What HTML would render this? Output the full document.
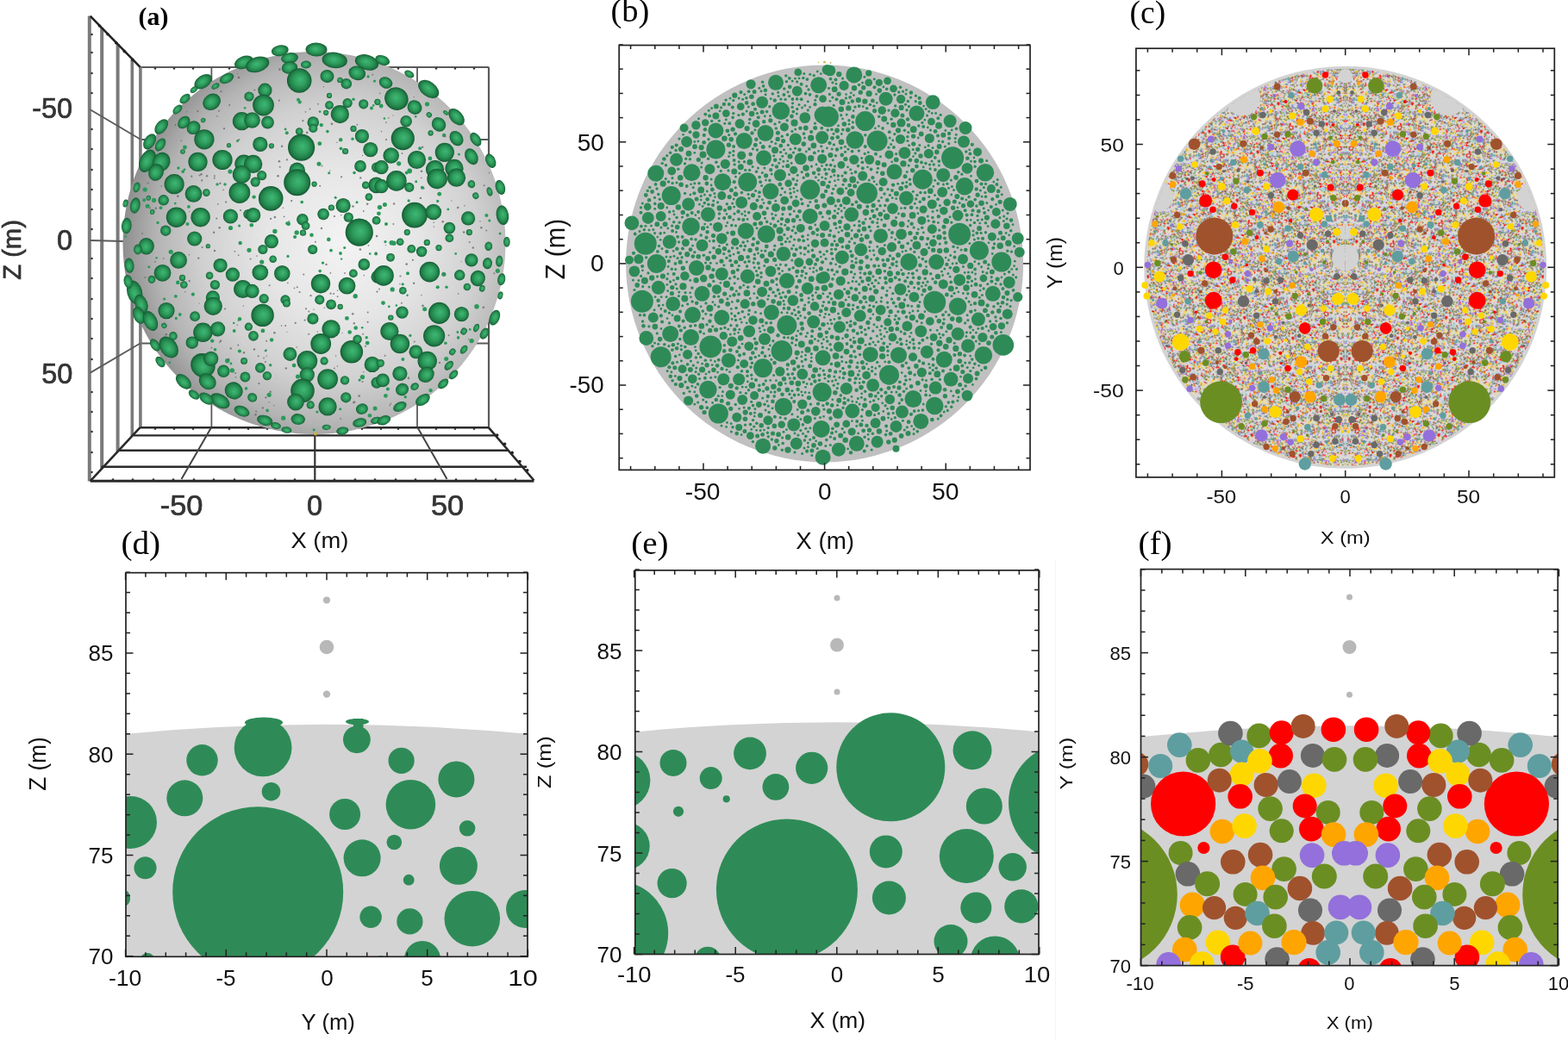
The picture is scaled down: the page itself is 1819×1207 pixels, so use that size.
<!DOCTYPE html>
<html><head><meta charset="utf-8"><title>Figure</title>
<style>html,body{margin:0;padding:0;background:#fff;}svg{display:block;}</style></head>
<body><svg width="1819" height="1207" viewBox="0 0 1819 1207">
<rect width="1819" height="1207" fill="#fff"/>
<defs>
<radialGradient id="sph" cx="0.56" cy="0.5" r="0.56" fx="0.58" fy="0.5">
<stop offset="0" stop-color="#f3f3f3"/><stop offset="0.35" stop-color="#e6e6e6"/><stop offset="0.65" stop-color="#d0d0d0"/>
<stop offset="0.85" stop-color="#b4b4b4"/><stop offset="1" stop-color="#8e8e8e"/></radialGradient>
<radialGradient id="gb" cx="0.5" cy="0.5" r="0.5" fx="0.55" fy="0.45">
<stop offset="0" stop-color="#3eb874"/><stop offset="0.5" stop-color="#2e9b5c"/><stop offset="0.8" stop-color="#207e47"/><stop offset="1" stop-color="#145a32"/></radialGradient>
</defs>
<line x1="162.3" y1="78" x2="567" y2="78" stroke="#5a5a5a" stroke-width="2.2"/>
<line x1="567" y1="78" x2="567" y2="496.3" stroke="#5a5a5a" stroke-width="2.2"/>
<line x1="245.4" y1="78" x2="245.4" y2="496.3" stroke="#5a5a5a" stroke-width="1.8"/>
<line x1="484" y1="78" x2="484" y2="496.3" stroke="#5a5a5a" stroke-width="1.8"/>
<line x1="162.3" y1="162" x2="567" y2="162" stroke="#5a5a5a" stroke-width="1.8"/>
<line x1="162.3" y1="398.5" x2="567" y2="398.5" stroke="#5a5a5a" stroke-width="1.8"/>
<line x1="162.3" y1="280" x2="567" y2="280" stroke="#5a5a5a" stroke-width="1.8"/>
<line x1="103.8" y1="18.6" x2="103.8" y2="558.5" stroke="#7a7a7a" stroke-width="4"/>
<line x1="118.2" y1="32.2" x2="118.2" y2="543.8" stroke="#7a7a7a" stroke-width="4"/>
<line x1="136.6" y1="51" x2="136.6" y2="524.5" stroke="#7a7a7a" stroke-width="4"/>
<line x1="153.3" y1="69" x2="153.3" y2="506" stroke="#7a7a7a" stroke-width="3.6"/>
<line x1="162.9" y1="77.5" x2="162.9" y2="497" stroke="#7a7a7a" stroke-width="3.6"/>
<line x1="104.7" y1="18.6" x2="162.6" y2="77.8" stroke="#222" stroke-width="2.6"/>
<line x1="104.7" y1="127.3" x2="162.6" y2="161.5" stroke="#5a5a5a" stroke-width="1.8"/>
<line x1="104.7" y1="279" x2="162.6" y2="280.5" stroke="#5a5a5a" stroke-width="1.8"/>
<line x1="104.7" y1="432.6" x2="162.6" y2="398.5" stroke="#5a5a5a" stroke-width="1.8"/>
<line x1="162.3" y1="496.3" x2="567" y2="496.3" stroke="#2a2a2a" stroke-width="2.4"/>
<line x1="104.7" y1="558.3" x2="619.4" y2="558.3" stroke="#2a2a2a" stroke-width="3"/>
<line x1="567" y1="496.3" x2="619.4" y2="557.5" stroke="#2a2a2a" stroke-width="2.6"/>
<line x1="162.3" y1="496.3" x2="104.7" y2="558.3" stroke="#2a2a2a" stroke-width="2.6"/>
<line x1="155" y1="505.4" x2="574.5" y2="505.4" stroke="#2a2a2a" stroke-width="2.4"/>
<line x1="139" y1="522.7" x2="590" y2="522.7" stroke="#2a2a2a" stroke-width="2.4"/>
<line x1="117.5" y1="541.8" x2="611" y2="541.8" stroke="#2a2a2a" stroke-width="2.4"/>
<line x1="245" y1="496.3" x2="210.5" y2="556" stroke="#444" stroke-width="2"/>
<line x1="484.5" y1="496.3" x2="518.5" y2="556" stroke="#444" stroke-width="2"/>
<line x1="365.3" y1="496.3" x2="365.3" y2="558" stroke="#333" stroke-width="2.2"/>
<circle cx="106.5" cy="40" r="1.3" fill="#333"/>
<circle cx="106.5" cy="61" r="1.3" fill="#333"/>
<circle cx="106.5" cy="85" r="1.3" fill="#333"/>
<circle cx="106.5" cy="108" r="1.3" fill="#333"/>
<circle cx="106.5" cy="150" r="1.3" fill="#333"/>
<circle cx="106.5" cy="173" r="1.3" fill="#333"/>
<circle cx="106.5" cy="197" r="1.3" fill="#333"/>
<circle cx="106.5" cy="220" r="1.3" fill="#333"/>
<circle cx="106.5" cy="243" r="1.3" fill="#333"/>
<circle cx="106.5" cy="266" r="1.3" fill="#333"/>
<circle cx="106.5" cy="300" r="1.3" fill="#333"/>
<circle cx="106.5" cy="323" r="1.3" fill="#333"/>
<circle cx="106.5" cy="347" r="1.3" fill="#333"/>
<circle cx="106.5" cy="370" r="1.3" fill="#333"/>
<circle cx="106.5" cy="393" r="1.3" fill="#333"/>
<circle cx="106.5" cy="417" r="1.3" fill="#333"/>
<circle cx="106.5" cy="455" r="1.3" fill="#333"/>
<circle cx="106.5" cy="478" r="1.3" fill="#333"/>
<circle cx="106.5" cy="501" r="1.3" fill="#333"/>
<circle cx="106.5" cy="525" r="1.3" fill="#333"/>
<circle cx="106.5" cy="548" r="1.3" fill="#333"/>
<circle cx="131" cy="556.5" r="1.3" fill="#333"/>
<circle cx="154" cy="556.5" r="1.3" fill="#333"/>
<circle cx="178" cy="556.5" r="1.3" fill="#333"/>
<circle cx="201" cy="556.5" r="1.3" fill="#333"/>
<circle cx="225" cy="556.5" r="1.3" fill="#333"/>
<circle cx="248" cy="556.5" r="1.3" fill="#333"/>
<circle cx="272" cy="556.5" r="1.3" fill="#333"/>
<circle cx="295" cy="556.5" r="1.3" fill="#333"/>
<circle cx="319" cy="556.5" r="1.3" fill="#333"/>
<circle cx="342" cy="556.5" r="1.3" fill="#333"/>
<circle cx="388" cy="556.5" r="1.3" fill="#333"/>
<circle cx="412" cy="556.5" r="1.3" fill="#333"/>
<circle cx="435" cy="556.5" r="1.3" fill="#333"/>
<circle cx="459" cy="556.5" r="1.3" fill="#333"/>
<circle cx="482" cy="556.5" r="1.3" fill="#333"/>
<circle cx="505" cy="556.5" r="1.3" fill="#333"/>
<circle cx="529" cy="556.5" r="1.3" fill="#333"/>
<circle cx="552" cy="556.5" r="1.3" fill="#333"/>
<circle cx="575" cy="556.5" r="1.3" fill="#333"/>
<circle cx="598" cy="556.5" r="1.3" fill="#333"/>
<circle cx="115.4" cy="30" r="1.8" fill="#222"/>
<circle cx="125" cy="39.8" r="1.8" fill="#222"/>
<circle cx="134.7" cy="49.7" r="1.8" fill="#222"/>
<circle cx="144.3" cy="59.6" r="1.8" fill="#222"/>
<circle cx="153.9" cy="69.4" r="1.8" fill="#222"/>
<circle cx="576.7" cy="505" r="1.8" fill="#222"/>
<circle cx="585.5" cy="515.2" r="1.8" fill="#222"/>
<circle cx="594.2" cy="525.4" r="1.8" fill="#222"/>
<circle cx="602.9" cy="535.6" r="1.8" fill="#222"/>
<circle cx="611.7" cy="545.8" r="1.8" fill="#222"/>
<circle cx="180" cy="79.5" r="1.2" fill="#333"/>
<circle cx="180" cy="497.8" r="1.2" fill="#333"/>
<circle cx="202" cy="79.5" r="1.2" fill="#333"/>
<circle cx="202" cy="497.8" r="1.2" fill="#333"/>
<circle cx="224" cy="79.5" r="1.2" fill="#333"/>
<circle cx="224" cy="497.8" r="1.2" fill="#333"/>
<circle cx="266" cy="79.5" r="1.2" fill="#333"/>
<circle cx="266" cy="497.8" r="1.2" fill="#333"/>
<circle cx="288" cy="79.5" r="1.2" fill="#333"/>
<circle cx="288" cy="497.8" r="1.2" fill="#333"/>
<circle cx="310" cy="79.5" r="1.2" fill="#333"/>
<circle cx="310" cy="497.8" r="1.2" fill="#333"/>
<circle cx="332" cy="79.5" r="1.2" fill="#333"/>
<circle cx="332" cy="497.8" r="1.2" fill="#333"/>
<circle cx="398" cy="79.5" r="1.2" fill="#333"/>
<circle cx="398" cy="497.8" r="1.2" fill="#333"/>
<circle cx="420" cy="79.5" r="1.2" fill="#333"/>
<circle cx="420" cy="497.8" r="1.2" fill="#333"/>
<circle cx="442" cy="79.5" r="1.2" fill="#333"/>
<circle cx="442" cy="497.8" r="1.2" fill="#333"/>
<circle cx="462" cy="79.5" r="1.2" fill="#333"/>
<circle cx="462" cy="497.8" r="1.2" fill="#333"/>
<circle cx="506" cy="79.5" r="1.2" fill="#333"/>
<circle cx="506" cy="497.8" r="1.2" fill="#333"/>
<circle cx="528" cy="79.5" r="1.2" fill="#333"/>
<circle cx="528" cy="497.8" r="1.2" fill="#333"/>
<circle cx="550" cy="79.5" r="1.2" fill="#333"/>
<circle cx="550" cy="497.8" r="1.2" fill="#333"/>
<circle cx="364.5" cy="282" r="222" fill="url(#sph)"/>
<ellipse cx="245.6" cy="118.3" rx="9.1" ry="10.9" transform="rotate(-126.0 245.6 118.3)" fill="url(#gb)"/>
<circle cx="280.4" cy="140.7" r="10.6" fill="url(#gb)"/>
<circle cx="236.9" cy="161.8" r="11.6" fill="url(#gb)"/>
<circle cx="258" cy="185.5" r="11.6" fill="url(#gb)"/>
<circle cx="229.5" cy="187.9" r="11.1" fill="url(#gb)"/>
<circle cx="282.9" cy="190.2" r="10.6" fill="url(#gb)"/>
<ellipse cx="213.3" cy="142.0" rx="6.2" ry="8.2" transform="rotate(-137.2 213.3 142.0)" fill="url(#gb)"/>
<ellipse cx="224.5" cy="148.2" rx="7.6" ry="8.2" transform="rotate(-136.3 224.5 148.2)" fill="url(#gb)"/>
<ellipse cx="235.7" cy="94.7" rx="7.2" ry="11.4" transform="rotate(-124.5 235.7 94.7)" fill="url(#gb)"/>
<ellipse cx="263.0" cy="91.0" rx="5.5" ry="8.7" transform="rotate(-118.0 263.0 91.0)" fill="url(#gb)"/>
<ellipse cx="283.0" cy="72.4" rx="7.2" ry="11.4" transform="rotate(-111.2 283.0 72.4)" fill="url(#gb)"/>
<ellipse cx="214.6" cy="114.6" rx="4.5" ry="7.1" transform="rotate(-131.8 214.6 114.6)" fill="url(#gb)"/>
<ellipse cx="205.9" cy="127.0" rx="4.1" ry="6.6" transform="rotate(-135.7 205.9 127.0)" fill="url(#gb)"/>
<ellipse cx="187.2" cy="147.0" rx="6.3" ry="10.0" transform="rotate(-142.7 187.2 147.0)" fill="url(#gb)"/>
<ellipse cx="173.6" cy="164.3" rx="6.3" ry="10.0" transform="rotate(-148.3 173.6 164.3)" fill="url(#gb)"/>
<ellipse cx="171.0" cy="186.7" rx="8.8" ry="14.0" transform="rotate(-153.8 171.0 186.7)" fill="url(#gb)"/>
<ellipse cx="187.2" cy="188.0" rx="10.0" ry="11.4" transform="rotate(-152.1 187.2 188.0)" fill="url(#gb)"/>
<ellipse cx="186.0" cy="168.0" rx="5.2" ry="8.2" transform="rotate(-147.4 186.0 168.0)" fill="url(#gb)"/>
<circle cx="289" cy="112" r="5.6" fill="url(#gb)"/>
<circle cx="265.5" cy="168.7" r="2.6" fill="url(#gb)"/>
<circle cx="212" cy="176" r="2.8" fill="url(#gb)"/>
<ellipse cx="235.7" cy="139.5" rx="2.6" ry="2.8" transform="rotate(-132.1 235.7 139.5)" fill="url(#gb)"/>
<ellipse cx="225.0" cy="104.0" rx="3.1" ry="5.0" transform="rotate(-128.1 225.0 104.0)" fill="url(#gb)"/>
<ellipse cx="250.0" cy="100.0" rx="3.1" ry="5.0" transform="rotate(-122.2 250.0 100.0)" fill="url(#gb)"/>
<ellipse cx="298.7" cy="74.9" rx="8.8" ry="14.0" transform="rotate(-107.6 298.7 74.9)" fill="url(#gb)"/>
<ellipse cx="324.8" cy="58.7" rx="6.3" ry="10.0" transform="rotate(-100.1 324.8 58.7)" fill="url(#gb)"/>
<ellipse cx="336.0" cy="67.4" rx="6.3" ry="10.0" transform="rotate(-97.6 336.0 67.4)" fill="url(#gb)"/>
<ellipse cx="336.0" cy="78.6" rx="7.2" ry="9.3" transform="rotate(-98.0 336.0 78.6)" fill="url(#gb)"/>
<circle cx="347.2" cy="93.5" r="14.3" fill="url(#gb)"/>
<ellipse cx="367.0" cy="57.5" rx="7.9" ry="12.5" transform="rotate(-89.4 367.0 57.5)" fill="url(#gb)"/>
<ellipse cx="388.2" cy="69.9" rx="9.2" ry="14.7" transform="rotate(-83.6 388.2 69.9)" fill="url(#gb)"/>
<ellipse cx="425.5" cy="72.4" rx="8.8" ry="14.0" transform="rotate(-73.8 425.5 72.4)" fill="url(#gb)"/>
<ellipse cx="414.3" cy="84.8" rx="8.2" ry="10.0" transform="rotate(-75.8 414.3 84.8)" fill="url(#gb)"/>
<ellipse cx="379.5" cy="88.5" rx="7.4" ry="8.0" transform="rotate(-85.6 379.5 88.5)" fill="url(#gb)"/>
<circle cx="401.8" cy="97.2" r="6.2" fill="url(#gb)"/>
<circle cx="307.4" cy="104.7" r="8.1" fill="url(#gb)"/>
<circle cx="305.5" cy="122.1" r="12.4" fill="url(#gb)"/>
<circle cx="292.5" cy="139.5" r="9.3" fill="url(#gb)"/>
<circle cx="310.5" cy="142" r="7.4" fill="url(#gb)"/>
<circle cx="394.4" cy="132.6" r="10.6" fill="url(#gb)"/>
<circle cx="363.3" cy="142" r="6.8" fill="url(#gb)"/>
<circle cx="363.3" cy="149" r="5.1" fill="url(#gb)"/>
<circle cx="403.1" cy="119.6" r="5.6" fill="url(#gb)"/>
<circle cx="421.7" cy="120.8" r="5.6" fill="url(#gb)"/>
<circle cx="382" cy="122.1" r="4.9" fill="url(#gb)"/>
<circle cx="349.6" cy="171.2" r="15.6" fill="url(#gb)"/>
<circle cx="301.8" cy="167.4" r="8.6" fill="url(#gb)"/>
<circle cx="419.9" cy="158.1" r="8.1" fill="url(#gb)"/>
<circle cx="429.8" cy="173.6" r="8.6" fill="url(#gb)"/>
<circle cx="293.7" cy="190.4" r="10.6" fill="url(#gb)"/>
<circle cx="344.7" cy="197.9" r="9.3" fill="url(#gb)"/>
<circle cx="418" cy="192.9" r="6.8" fill="url(#gb)"/>
<circle cx="436.6" cy="194.2" r="5.6" fill="url(#gb)"/>
<circle cx="314.9" cy="169.3" r="3.1" fill="url(#gb)"/>
<circle cx="347.2" cy="152.5" r="4.3" fill="url(#gb)"/>
<circle cx="400.6" cy="175.5" r="3.6" fill="url(#gb)"/>
<circle cx="410" cy="149.4" r="3.6" fill="url(#gb)"/>
<circle cx="382" cy="110.9" r="3.1" fill="url(#gb)"/>
<ellipse cx="394.4" cy="92.9" rx="3.1" ry="3.3" transform="rotate(-81.0 394.4 92.9)" fill="url(#gb)"/>
<circle cx="437.9" cy="118.3" r="3.6" fill="url(#gb)"/>
<circle cx="378.2" cy="130.8" r="3.1" fill="url(#gb)"/>
<ellipse cx="355.0" cy="75.0" rx="4.4" ry="6.0" transform="rotate(-92.6 355.0 75.0)" fill="url(#gb)"/>
<ellipse cx="443.7" cy="69.9" rx="5.5" ry="8.7" transform="rotate(-69.5 443.7 69.9)" fill="url(#gb)"/>
<ellipse cx="474.8" cy="86.0" rx="3.8" ry="6.0" transform="rotate(-60.6 474.8 86.0)" fill="url(#gb)"/>
<ellipse cx="447.5" cy="96.0" rx="6.5" ry="8.0" transform="rotate(-66.0 447.5 96.0)" fill="url(#gb)"/>
<ellipse cx="459.9" cy="114.6" rx="13.0" ry="14.0" transform="rotate(-60.3 459.9 114.6)" fill="url(#gb)"/>
<ellipse cx="497.2" cy="103.4" rx="8.6" ry="13.6" transform="rotate(-53.4 497.2 103.4)" fill="url(#gb)"/>
<ellipse cx="481.0" cy="124.6" rx="8.1" ry="8.7" transform="rotate(-53.5 481.0 124.6)" fill="url(#gb)"/>
<circle cx="471.1" cy="140.7" r="6.8" fill="url(#gb)"/>
<ellipse cx="509.0" cy="144.4" rx="7.8" ry="8.7" transform="rotate(-43.6 509.0 144.4)" fill="url(#gb)"/>
<ellipse cx="529.5" cy="135.7" rx="7.2" ry="11.4" transform="rotate(-41.6 529.5 135.7)" fill="url(#gb)"/>
<circle cx="467.3" cy="160.6" r="13.6" fill="url(#gb)"/>
<ellipse cx="529.5" cy="160.6" rx="7.3" ry="9.3" transform="rotate(-36.3 529.5 160.6)" fill="url(#gb)"/>
<circle cx="515.8" cy="176.8" r="11.1" fill="url(#gb)"/>
<ellipse cx="551.8" cy="161.8" rx="5.5" ry="8.7" transform="rotate(-32.7 551.8 161.8)" fill="url(#gb)"/>
<ellipse cx="546.9" cy="181.7" rx="7.1" ry="10.0" transform="rotate(-28.8 546.9 181.7)" fill="url(#gb)"/>
<ellipse cx="569.2" cy="186.7" rx="5.5" ry="8.7" transform="rotate(-25.0 569.2 186.7)" fill="url(#gb)"/>
<circle cx="453.7" cy="180.5" r="9.3" fill="url(#gb)"/>
<circle cx="483.5" cy="185.5" r="10.6" fill="url(#gb)"/>
<circle cx="442.5" cy="194.2" r="8.1" fill="url(#gb)"/>
<circle cx="504.6" cy="196.6" r="10.6" fill="url(#gb)"/>
<circle cx="527" cy="195.4" r="10.6" fill="url(#gb)"/>
<ellipse cx="497.8" cy="133.3" rx="3.0" ry="3.3" transform="rotate(-48.1 497.8 133.3)" fill="url(#gb)"/>
<circle cx="499.6" cy="154.4" r="3.1" fill="url(#gb)"/>
<ellipse cx="517.0" cy="130.8" rx="2.1" ry="3.3" transform="rotate(-44.8 517.0 130.8)" fill="url(#gb)"/>
<circle cx="202.1" cy="213.7" r="11.6" fill="url(#gb)"/>
<circle cx="224.5" cy="224.9" r="9.9" fill="url(#gb)"/>
<circle cx="277.9" cy="223.6" r="12.4" fill="url(#gb)"/>
<circle cx="280.4" cy="202.5" r="10.6" fill="url(#gb)"/>
<circle cx="189.7" cy="232.3" r="6.2" fill="url(#gb)"/>
<circle cx="239.4" cy="223.6" r="4.3" fill="url(#gb)"/>
<circle cx="204.6" cy="252.2" r="11.8" fill="url(#gb)"/>
<circle cx="232.6" cy="252.2" r="11.2" fill="url(#gb)"/>
<circle cx="267.4" cy="251" r="8.6" fill="url(#gb)"/>
<circle cx="287.9" cy="248.5" r="5.6" fill="url(#gb)"/>
<circle cx="192.2" cy="267.7" r="6.2" fill="url(#gb)"/>
<circle cx="225.7" cy="277" r="8.6" fill="url(#gb)"/>
<circle cx="207.1" cy="301.9" r="9.9" fill="url(#gb)"/>
<circle cx="188.5" cy="316.8" r="9.9" fill="url(#gb)"/>
<ellipse cx="169.8" cy="285.7" rx="9.1" ry="9.8" transform="rotate(178.9 169.8 285.7)" fill="url(#gb)"/>
<ellipse cx="159.9" cy="289.5" rx="4.8" ry="6.0" transform="rotate(177.9 159.9 289.5)" fill="url(#gb)"/>
<ellipse cx="156.8" cy="238.5" rx="5.8" ry="9.3" transform="rotate(-168.2 156.8 238.5)" fill="url(#gb)"/>
<ellipse cx="146.8" cy="262.1" rx="5.8" ry="9.3" transform="rotate(-174.8 146.8 262.1)" fill="url(#gb)"/>
<ellipse cx="150.0" cy="308.1" rx="5.5" ry="8.7" transform="rotate(173.1 150.0 308.1)" fill="url(#gb)"/>
<ellipse cx="156.2" cy="339.2" rx="8.8" ry="14.0" transform="rotate(164.6 156.2 339.2)" fill="url(#gb)"/>
<ellipse cx="148.7" cy="326.8" rx="5.0" ry="8.0" transform="rotate(168.3 148.7 326.8)" fill="url(#gb)"/>
<circle cx="255.6" cy="308.1" r="8.1" fill="url(#gb)"/>
<circle cx="269.9" cy="318.7" r="8.1" fill="url(#gb)"/>
<circle cx="281.7" cy="335.5" r="10.6" fill="url(#gb)"/>
<circle cx="243.1" cy="319.9" r="4.3" fill="url(#gb)"/>
<circle cx="249.4" cy="330.5" r="5.6" fill="url(#gb)"/>
<circle cx="246.9" cy="345.4" r="8.1" fill="url(#gb)"/>
<circle cx="213.3" cy="330.5" r="4.3" fill="url(#gb)"/>
<circle cx="211.5" cy="322.4" r="3.6" fill="url(#gb)"/>
<ellipse cx="176.0" cy="324.3" rx="4.3" ry="4.6" transform="rotate(167.4 176.0 324.3)" fill="url(#gb)"/>
<ellipse cx="158.6" cy="217.4" rx="3.8" ry="6.0" transform="rotate(-162.6 158.6 217.4)" fill="url(#gb)"/>
<ellipse cx="145.6" cy="236.0" rx="2.9" ry="4.6" transform="rotate(-168.1 145.6 236.0)" fill="url(#gb)"/>
<ellipse cx="181.0" cy="200.0" rx="8.7" ry="10.0" transform="rotate(-155.9 181.0 200.0)" fill="url(#gb)"/>
<ellipse cx="172.3" cy="229.8" rx="2.7" ry="3.0" transform="rotate(-164.8 172.3 229.8)" fill="url(#gb)"/>
<ellipse cx="176.7" cy="246.0" rx="2.8" ry="3.0" transform="rotate(-169.1 176.7 246.0)" fill="url(#gb)"/>
<circle cx="241.3" cy="285.7" r="2.6" fill="url(#gb)"/>
<circle cx="344.7" cy="211.8" r="15.5" fill="url(#gb)"/>
<circle cx="314.2" cy="230.4" r="14.3" fill="url(#gb)"/>
<circle cx="293.7" cy="249.7" r="8.6" fill="url(#gb)"/>
<circle cx="350.9" cy="254.7" r="6.8" fill="url(#gb)"/>
<circle cx="354.6" cy="262.1" r="4.9" fill="url(#gb)"/>
<circle cx="351.5" cy="270.2" r="3.6" fill="url(#gb)"/>
<circle cx="375.1" cy="248.5" r="6.8" fill="url(#gb)"/>
<circle cx="398.1" cy="238.5" r="8.6" fill="url(#gb)"/>
<circle cx="404.3" cy="252.2" r="5.6" fill="url(#gb)"/>
<circle cx="416.8" cy="269.6" r="16.1" fill="url(#gb)"/>
<circle cx="436.6" cy="214.9" r="9.3" fill="url(#gb)"/>
<circle cx="424.2" cy="214.9" r="4.3" fill="url(#gb)"/>
<circle cx="427.9" cy="228.6" r="4.3" fill="url(#gb)"/>
<circle cx="436.6" cy="255.9" r="4.9" fill="url(#gb)"/>
<circle cx="314.9" cy="280.2" r="8.1" fill="url(#gb)"/>
<circle cx="304.9" cy="289.5" r="5.6" fill="url(#gb)"/>
<circle cx="316.7" cy="300.7" r="4.3" fill="url(#gb)"/>
<circle cx="362.7" cy="289.5" r="5.6" fill="url(#gb)"/>
<circle cx="301.8" cy="316.2" r="9.3" fill="url(#gb)"/>
<circle cx="327.3" cy="317.4" r="9.3" fill="url(#gb)"/>
<circle cx="372" cy="329.2" r="11.2" fill="url(#gb)"/>
<circle cx="402.5" cy="331.7" r="9.9" fill="url(#gb)"/>
<circle cx="422.3" cy="306.9" r="6.8" fill="url(#gb)"/>
<circle cx="409.9" cy="317.4" r="4.9" fill="url(#gb)"/>
<circle cx="437.9" cy="321.2" r="7.4" fill="url(#gb)"/>
<circle cx="292.5" cy="337.9" r="8.1" fill="url(#gb)"/>
<circle cx="306.2" cy="346.6" r="5.6" fill="url(#gb)"/>
<circle cx="303.7" cy="203.7" r="5.6" fill="url(#gb)"/>
<circle cx="296.2" cy="211.2" r="5.6" fill="url(#gb)"/>
<circle cx="384.4" cy="241" r="3.6" fill="url(#gb)"/>
<circle cx="370.8" cy="347.9" r="5.6" fill="url(#gb)"/>
<circle cx="331" cy="347.9" r="5.6" fill="url(#gb)"/>
<circle cx="364.6" cy="213.7" r="3.1" fill="url(#gb)"/>
<circle cx="459.9" cy="209.9" r="11.8" fill="url(#gb)"/>
<circle cx="442.5" cy="216.2" r="8.1" fill="url(#gb)"/>
<circle cx="474.8" cy="217.4" r="5.6" fill="url(#gb)"/>
<circle cx="507.1" cy="207.5" r="11.8" fill="url(#gb)"/>
<circle cx="529.5" cy="206.2" r="10.6" fill="url(#gb)"/>
<circle cx="481" cy="249.7" r="14.9" fill="url(#gb)"/>
<circle cx="502.8" cy="246" r="9.3" fill="url(#gb)"/>
<circle cx="521.4" cy="264.6" r="6.8" fill="url(#gb)"/>
<circle cx="521.4" cy="276.4" r="4.9" fill="url(#gb)"/>
<circle cx="543.1" cy="253.4" r="8.1" fill="url(#gb)"/>
<circle cx="544.4" cy="269.6" r="3.6" fill="url(#gb)"/>
<ellipse cx="546.9" cy="213.7" rx="4.3" ry="4.6" transform="rotate(-20.5 546.9 213.7)" fill="url(#gb)"/>
<ellipse cx="551.8" cy="227.3" rx="3.6" ry="3.9" transform="rotate(-16.3 551.8 227.3)" fill="url(#gb)"/>
<ellipse cx="580.4" cy="217.4" rx="5.5" ry="8.7" transform="rotate(-16.7 580.4 217.4)" fill="url(#gb)"/>
<ellipse cx="582.9" cy="249.7" rx="7.2" ry="11.4" transform="rotate(-8.4 582.9 249.7)" fill="url(#gb)"/>
<ellipse cx="587.9" cy="280.8" rx="3.8" ry="6.0" transform="rotate(-0.3 587.9 280.8)" fill="url(#gb)"/>
<ellipse cx="566.8" cy="285.7" rx="4.4" ry="5.3" transform="rotate(1.0 566.8 285.7)" fill="url(#gb)"/>
<circle cx="546.9" cy="301.9" r="7.6" fill="url(#gb)"/>
<ellipse cx="565.5" cy="305.6" rx="5.5" ry="6.6" transform="rotate(6.7 565.5 305.6)" fill="url(#gb)"/>
<ellipse cx="579.2" cy="303.1" rx="4.1" ry="6.6" transform="rotate(5.6 579.2 303.1)" fill="url(#gb)"/>
<ellipse cx="554.3" cy="323.0" rx="8.6" ry="9.3" transform="rotate(12.2 554.3 323.0)" fill="url(#gb)"/>
<circle cx="533.2" cy="319.3" r="6.2" fill="url(#gb)"/>
<circle cx="498.4" cy="315.6" r="11.8" fill="url(#gb)"/>
<circle cx="445" cy="319.9" r="11.8" fill="url(#gb)"/>
<circle cx="489.1" cy="292" r="6.2" fill="url(#gb)"/>
<circle cx="477.3" cy="288.9" r="4.9" fill="url(#gb)"/>
<circle cx="464.2" cy="280.8" r="4.3" fill="url(#gb)"/>
<circle cx="453" cy="298.8" r="4.9" fill="url(#gb)"/>
<circle cx="495.3" cy="281.4" r="3.6" fill="url(#gb)"/>
<circle cx="509" cy="287.6" r="3.6" fill="url(#gb)"/>
<circle cx="541.9" cy="333" r="4.3" fill="url(#gb)"/>
<ellipse cx="559.3" cy="334.8" rx="3.3" ry="3.9" transform="rotate(15.2 559.3 334.8)" fill="url(#gb)"/>
<ellipse cx="581.7" cy="324.3" rx="4.5" ry="7.1" transform="rotate(11.0 581.7 324.3)" fill="url(#gb)"/>
<ellipse cx="580.4" cy="342.9" rx="2.9" ry="4.6" transform="rotate(15.8 580.4 342.9)" fill="url(#gb)"/>
<circle cx="467.3" cy="337.3" r="4.3" fill="url(#gb)"/>
<circle cx="472.3" cy="269.6" r="3.6" fill="url(#gb)"/>
<ellipse cx="568.0" cy="222.4" rx="3.3" ry="5.3" transform="rotate(-16.3 568.0 222.4)" fill="url(#gb)"/>
<ellipse cx="163.9" cy="352.7" rx="7.2" ry="11.4" transform="rotate(160.6 163.9 352.7)" fill="url(#gb)"/>
<ellipse cx="161.2" cy="365.9" rx="6.5" ry="10.4" transform="rotate(157.6 161.2 365.9)" fill="url(#gb)"/>
<ellipse cx="174.5" cy="372.5" rx="7.8" ry="12.1" transform="rotate(154.5 174.5 372.5)" fill="url(#gb)"/>
<circle cx="193" cy="360.6" r="9.6" fill="url(#gb)"/>
<circle cx="247.3" cy="355.3" r="10.6" fill="url(#gb)"/>
<circle cx="226.1" cy="367.2" r="5.9" fill="url(#gb)"/>
<circle cx="235.4" cy="385.8" r="11.2" fill="url(#gb)"/>
<circle cx="252.6" cy="381.8" r="8.6" fill="url(#gb)"/>
<circle cx="222.8" cy="397.7" r="7.2" fill="url(#gb)"/>
<ellipse cx="195.7" cy="403.0" rx="9.8" ry="13.6" transform="rotate(144.4 195.7 403.0)" fill="url(#gb)"/>
<ellipse cx="179.8" cy="400.4" rx="4.9" ry="7.8" transform="rotate(147.3 179.8 400.4)" fill="url(#gb)"/>
<ellipse cx="201.0" cy="389.8" rx="4.6" ry="5.0" transform="rotate(146.6 201.0 389.8)" fill="url(#gb)"/>
<ellipse cx="235.4" cy="424.2" rx="13.6" ry="14.7" transform="rotate(132.2 235.4 424.2)" fill="url(#gb)"/>
<circle cx="244.7" cy="416.3" r="8.6" fill="url(#gb)"/>
<ellipse cx="240.7" cy="442.8" rx="8.8" ry="10.7" transform="rotate(127.6 240.7 442.8)" fill="url(#gb)"/>
<ellipse cx="212.9" cy="442.8" rx="6.7" ry="10.7" transform="rotate(133.3 212.9 442.8)" fill="url(#gb)"/>
<ellipse cx="255.3" cy="465.3" rx="7.6" ry="12.1" transform="rotate(120.8 255.3 465.3)" fill="url(#gb)"/>
<ellipse cx="239.4" cy="462.6" rx="5.8" ry="9.3" transform="rotate(124.7 239.4 462.6)" fill="url(#gb)"/>
<ellipse cx="271.2" cy="453.4" rx="9.9" ry="10.7" transform="rotate(118.6 271.2 453.4)" fill="url(#gb)"/>
<ellipse cx="280.5" cy="477.2" rx="5.8" ry="9.3" transform="rotate(113.3 280.5 477.2)" fill="url(#gb)"/>
<circle cx="259.3" cy="430.8" r="7.2" fill="url(#gb)"/>
<circle cx="284.4" cy="437.5" r="5.9" fill="url(#gb)"/>
<circle cx="288.4" cy="379.2" r="4.6" fill="url(#gb)"/>
<circle cx="283.1" cy="418.9" r="3.9" fill="url(#gb)"/>
<ellipse cx="190.4" cy="377.8" rx="3.0" ry="3.3" transform="rotate(151.2 190.4 377.8)" fill="url(#gb)"/>
<ellipse cx="186.0" cy="420.0" rx="4.5" ry="7.1" transform="rotate(142.3 186.0 420.0)" fill="url(#gb)"/>
<ellipse cx="225.0" cy="458.0" rx="4.5" ry="7.1" transform="rotate(128.4 225.0 458.0)" fill="url(#gb)"/>
<circle cx="304.6" cy="365.9" r="13.2" fill="url(#gb)"/>
<circle cx="294" cy="389.8" r="5.9" fill="url(#gb)"/>
<circle cx="332.4" cy="352" r="4.6" fill="url(#gb)"/>
<circle cx="362.9" cy="369.9" r="6.6" fill="url(#gb)"/>
<circle cx="384.1" cy="381.8" r="10.6" fill="url(#gb)"/>
<circle cx="372.2" cy="399" r="11.9" fill="url(#gb)"/>
<circle cx="407.9" cy="408.3" r="13.2" fill="url(#gb)"/>
<circle cx="414.6" cy="393.7" r="5.2" fill="url(#gb)"/>
<circle cx="336.4" cy="411" r="7.9" fill="url(#gb)"/>
<circle cx="356.3" cy="418.9" r="11.9" fill="url(#gb)"/>
<circle cx="356.3" cy="434.8" r="8.6" fill="url(#gb)"/>
<circle cx="376.1" cy="418.9" r="4.6" fill="url(#gb)"/>
<circle cx="380.1" cy="440.1" r="11.9" fill="url(#gb)"/>
<circle cx="351" cy="453.4" r="13.8" fill="url(#gb)"/>
<circle cx="343" cy="466.6" r="9.9" fill="url(#gb)"/>
<circle cx="380.1" cy="471.9" r="10.6" fill="url(#gb)"/>
<circle cx="401.3" cy="461.3" r="6.1" fill="url(#gb)"/>
<circle cx="400" cy="441.4" r="5.2" fill="url(#gb)"/>
<ellipse cx="345.7" cy="486.5" rx="6.4" ry="8.2" transform="rotate(95.3 345.7 486.5)" fill="url(#gb)"/>
<circle cx="431.8" cy="422.9" r="9.2" fill="url(#gb)"/>
<circle cx="437.1" cy="444.1" r="6.6" fill="url(#gb)"/>
<ellipse cx="419.9" cy="474.6" rx="6.2" ry="7.1" transform="rotate(74.0 419.9 474.6)" fill="url(#gb)"/>
<ellipse cx="417.2" cy="490.5" rx="5.2" ry="8.2" transform="rotate(75.8 417.2 490.5)" fill="url(#gb)"/>
<ellipse cx="397.3" cy="500.0" rx="4.5" ry="7.1" transform="rotate(81.4 397.3 500.0)" fill="url(#gb)"/>
<ellipse cx="307.2" cy="487.8" rx="5.8" ry="9.3" transform="rotate(105.6 307.2 487.8)" fill="url(#gb)"/>
<circle cx="301.9" cy="426.9" r="5.9" fill="url(#gb)"/>
<circle cx="309.9" cy="436.1" r="5.2" fill="url(#gb)"/>
<ellipse cx="292.7" cy="461.3" rx="5.2" ry="5.6" transform="rotate(111.8 292.7 461.3)" fill="url(#gb)"/>
<circle cx="360.2" cy="469.9" r="4.6" fill="url(#gb)"/>
<circle cx="384.1" cy="353.3" r="5.9" fill="url(#gb)"/>
<circle cx="394.7" cy="356" r="3.2" fill="url(#gb)"/>
<ellipse cx="332.4" cy="499.0" rx="3.8" ry="6.0" transform="rotate(98.4 332.4 499.0)" fill="url(#gb)"/>
<ellipse cx="378.8" cy="495.8" rx="3.1" ry="5.0" transform="rotate(86.2 378.8 495.8)" fill="url(#gb)"/>
<ellipse cx="435.8" cy="487.8" rx="3.8" ry="6.0" transform="rotate(70.9 435.8 487.8)" fill="url(#gb)"/>
<ellipse cx="320.0" cy="494.0" rx="3.8" ry="6.0" transform="rotate(101.9 320.0 494.0)" fill="url(#gb)"/>
<circle cx="466.5" cy="362.6" r="7.2" fill="url(#gb)"/>
<circle cx="509.6" cy="363.3" r="12.6" fill="url(#gb)"/>
<circle cx="535.4" cy="364.6" r="8.6" fill="url(#gb)"/>
<ellipse cx="573.8" cy="368.6" rx="5.8" ry="9.3" transform="rotate(22.5 573.8 368.6)" fill="url(#gb)"/>
<circle cx="451.9" cy="384.5" r="10.6" fill="url(#gb)"/>
<circle cx="503.6" cy="389.8" r="12.6" fill="url(#gb)"/>
<circle cx="463.9" cy="399" r="11.2" fill="url(#gb)"/>
<circle cx="482.4" cy="408.3" r="7.9" fill="url(#gb)"/>
<circle cx="495.7" cy="418.9" r="11.2" fill="url(#gb)"/>
<ellipse cx="494.3" cy="434.8" rx="8.7" ry="9.9" transform="rotate(49.7 494.3 434.8)" fill="url(#gb)"/>
<circle cx="463.9" cy="433.5" r="8.6" fill="url(#gb)"/>
<circle cx="444" cy="441.4" r="7.9" fill="url(#gb)"/>
<ellipse cx="466.5" cy="452.0" rx="7.0" ry="7.7" transform="rotate(59.0 466.5 452.0)" fill="url(#gb)"/>
<ellipse cx="481.1" cy="448.7" rx="4.1" ry="5.0" transform="rotate(55.0 481.1 448.7)" fill="url(#gb)"/>
<ellipse cx="490.4" cy="464.0" rx="5.8" ry="9.3" transform="rotate(55.3 490.4 464.0)" fill="url(#gb)"/>
<ellipse cx="463.9" cy="471.9" rx="5.2" ry="8.2" transform="rotate(62.4 463.9 471.9)" fill="url(#gb)"/>
<ellipse cx="445.3" cy="487.8" rx="5.2" ry="8.2" transform="rotate(68.6 445.3 487.8)" fill="url(#gb)"/>
<ellipse cx="520.8" cy="424.2" rx="4.0" ry="6.4" transform="rotate(42.3 520.8 424.2)" fill="url(#gb)"/>
<ellipse cx="538.1" cy="405.7" rx="3.5" ry="5.6" transform="rotate(35.5 538.1 405.7)" fill="url(#gb)"/>
<ellipse cx="561.9" cy="387.1" rx="4.5" ry="7.1" transform="rotate(28.0 561.9 387.1)" fill="url(#gb)"/>
<ellipse cx="526.1" cy="434.8" rx="4.0" ry="6.4" transform="rotate(43.4 526.1 434.8)" fill="url(#gb)"/>
<ellipse cx="514.2" cy="445.4" rx="4.5" ry="7.1" transform="rotate(47.5 514.2 445.4)" fill="url(#gb)"/>
<ellipse cx="552.6" cy="380.5" rx="3.1" ry="5.0" transform="rotate(27.6 552.6 380.5)" fill="url(#gb)"/>
<ellipse cx="538.1" cy="384.5" rx="3.6" ry="4.2" transform="rotate(30.6 538.1 384.5)" fill="url(#gb)"/>
<ellipse cx="524.8" cy="408.3" rx="3.4" ry="4.2" transform="rotate(38.2 524.8 408.3)" fill="url(#gb)"/>
<circle cx="441.3" cy="421.6" r="4.6" fill="url(#gb)"/>
<circle cx="453.3" cy="368.6" r="3.2" fill="url(#gb)"/>
<g fill="#2a9a5a"><circle cx="414.0" cy="234.8" r="1.5"/><circle cx="445.9" cy="137.5" r="1.3"/><circle cx="530.9" cy="385.5" r="1.4"/><circle cx="145.8" cy="274.5" r="1.3"/><circle cx="333.1" cy="259.2" r="1.9"/><circle cx="471.7" cy="200.6" r="2.0"/><circle cx="509.7" cy="225.2" r="2.4"/><circle cx="342.1" cy="275.0" r="2.1"/><circle cx="261.0" cy="213.9" r="1.7"/><circle cx="249.5" cy="405.8" r="1.8"/><circle cx="434.5" cy="94.1" r="1.6"/><circle cx="409.0" cy="161.3" r="1.7"/><circle cx="395.5" cy="172.3" r="1.9"/><circle cx="440.5" cy="240.6" r="2.7"/><circle cx="498.9" cy="183.9" r="2.4"/><circle cx="267.0" cy="199.1" r="2.6"/><circle cx="172.8" cy="309.7" r="1.5"/><circle cx="171.2" cy="239.3" r="2.5"/><circle cx="473.0" cy="317.2" r="2.0"/><circle cx="564.4" cy="249.9" r="2.0"/><circle cx="315.1" cy="394.5" r="2.2"/><circle cx="252.0" cy="213.9" r="1.7"/><circle cx="204.3" cy="369.4" r="1.6"/><circle cx="186.5" cy="241.2" r="1.9"/><circle cx="347.7" cy="118.4" r="2.1"/><circle cx="271.7" cy="384.0" r="1.9"/><circle cx="190.6" cy="347.0" r="1.6"/><circle cx="417.1" cy="441.1" r="1.6"/><circle cx="312.2" cy="458.3" r="2.6"/><circle cx="371.2" cy="314.6" r="1.8"/><circle cx="426.2" cy="398.1" r="2.4"/><circle cx="499.6" cy="453.1" r="2.2"/><circle cx="405.7" cy="385.5" r="2.3"/><circle cx="495.5" cy="120.8" r="2.6"/><circle cx="531.6" cy="391.9" r="1.8"/><circle cx="206.9" cy="195.0" r="1.7"/><circle cx="223.9" cy="341.6" r="2.1"/><circle cx="291.8" cy="261.2" r="2.3"/><circle cx="439.4" cy="247.8" r="2.4"/><circle cx="275.5" cy="163.5" r="1.5"/><circle cx="379.9" cy="152.6" r="1.8"/><circle cx="178.6" cy="232.4" r="2.6"/><circle cx="451.3" cy="355.8" r="1.4"/><circle cx="402.4" cy="369.4" r="2.4"/><circle cx="214.4" cy="171.0" r="2.4"/><circle cx="217.5" cy="260.0" r="2.0"/><circle cx="410.0" cy="115.2" r="1.8"/><circle cx="371.1" cy="129.6" r="1.3"/><circle cx="208.8" cy="365.0" r="1.9"/><circle cx="381.7" cy="200.8" r="1.5"/><circle cx="436.1" cy="294.5" r="2.0"/><circle cx="395.0" cy="294.0" r="1.9"/><circle cx="350.2" cy="234.6" r="1.8"/><circle cx="474.1" cy="232.9" r="1.6"/><circle cx="433.2" cy="122.4" r="1.3"/><circle cx="429.2" cy="294.5" r="1.3"/><circle cx="310.1" cy="476.4" r="1.8"/><circle cx="331.1" cy="149.9" r="1.4"/><circle cx="344.2" cy="269.9" r="2.7"/><circle cx="577.3" cy="314.3" r="2.6"/><circle cx="492.7" cy="358.7" r="2.5"/><circle cx="268.0" cy="422.0" r="1.4"/><circle cx="277.9" cy="407.5" r="2.1"/><circle cx="341.1" cy="424.1" r="2.4"/><circle cx="459.9" cy="354.5" r="1.3"/><circle cx="567.8" cy="255.9" r="1.5"/><circle cx="277.6" cy="262.1" r="1.5"/><circle cx="374.5" cy="305.1" r="1.7"/><circle cx="518.0" cy="333.2" r="1.7"/><circle cx="367.9" cy="478.1" r="1.6"/><circle cx="532.4" cy="179.2" r="1.4"/><circle cx="431.0" cy="125.6" r="2.0"/><circle cx="448.0" cy="260.1" r="2.0"/><circle cx="446.4" cy="237.5" r="2.5"/><circle cx="308.1" cy="407.1" r="1.4"/><circle cx="364.2" cy="498.8" r="1.6"/><circle cx="467.2" cy="329.8" r="1.6"/><circle cx="318.9" cy="268.4" r="2.7"/><circle cx="284.1" cy="125.3" r="1.3"/><circle cx="370.0" cy="190.2" r="2.5"/><circle cx="519.8" cy="242.9" r="1.4"/><circle cx="196.9" cy="420.9" r="1.4"/><circle cx="412.2" cy="343.7" r="2.7"/><circle cx="181.6" cy="299.2" r="1.2"/><circle cx="420.2" cy="380.2" r="1.3"/><circle cx="467.4" cy="417.0" r="2.0"/><circle cx="278.0" cy="370.2" r="2.2"/><circle cx="269.3" cy="429.9" r="2.7"/><circle cx="203.8" cy="343.8" r="1.9"/><circle cx="553.0" cy="355.8" r="2.8"/><circle cx="168.2" cy="220.0" r="2.6"/><circle cx="332.8" cy="154.2" r="2.0"/><circle cx="472.6" cy="342.8" r="1.2"/><circle cx="462.7" cy="189.8" r="2.6"/><circle cx="396.1" cy="300.6" r="1.2"/><circle cx="411.0" cy="200.5" r="1.8"/><circle cx="384.0" cy="290.6" r="1.9"/><circle cx="455.2" cy="335.9" r="2.6"/><circle cx="267.5" cy="264.5" r="2.6"/><circle cx="482.2" cy="135.2" r="1.3"/><circle cx="435.1" cy="473.9" r="2.5"/><circle cx="482.7" cy="210.7" r="1.5"/><circle cx="514.8" cy="318.3" r="2.6"/><circle cx="412.7" cy="380.5" r="2.3"/><circle cx="449.9" cy="451.5" r="2.1"/><circle cx="198.2" cy="292.3" r="2.6"/><circle cx="346.0" cy="115.7" r="2.0"/><circle cx="167.2" cy="232.2" r="2.0"/><circle cx="285.5" cy="450.9" r="1.8"/><circle cx="507.7" cy="333.3" r="2.0"/><circle cx="507.7" cy="233.4" r="1.6"/><circle cx="345.5" cy="437.0" r="2.6"/><circle cx="203.3" cy="236.1" r="1.3"/><circle cx="294.6" cy="228.6" r="2.2"/><circle cx="361.5" cy="272.7" r="2.3"/><circle cx="399.7" cy="287.5" r="1.5"/><circle cx="214.0" cy="196.8" r="1.4"/><circle cx="454.3" cy="281.7" r="2.8"/><circle cx="475.9" cy="389.4" r="1.6"/><circle cx="489.9" cy="217.7" r="2.0"/><circle cx="313.7" cy="423.7" r="1.7"/><circle cx="547.1" cy="395.6" r="2.7"/><circle cx="381.3" cy="277.9" r="2.3"/><circle cx="334.6" cy="259.8" r="2.4"/><circle cx="487.1" cy="172.2" r="1.9"/><circle cx="516.9" cy="398.3" r="1.8"/><circle cx="389.2" cy="229.3" r="1.5"/><circle cx="428.9" cy="482.3" r="2.3"/><circle cx="425.2" cy="391.7" r="1.7"/><circle cx="304.9" cy="383.9" r="2.4"/><circle cx="289.0" cy="290.3" r="2.6"/><circle cx="271.2" cy="374.9" r="1.2"/><circle cx="218.9" cy="239.9" r="1.9"/><circle cx="517.7" cy="416.5" r="2.5"/><circle cx="545.2" cy="382.4" r="1.3"/><circle cx="427.1" cy="88.9" r="1.6"/><circle cx="470.3" cy="460.7" r="1.8"/><circle cx="183.0" cy="258.5" r="1.7"/><circle cx="263.8" cy="418.7" r="2.7"/><circle cx="456.9" cy="282.3" r="2.7"/><circle cx="206.3" cy="327.9" r="2.3"/><circle cx="395.2" cy="162.2" r="2.2"/><circle cx="447.0" cy="280.6" r="1.6"/><circle cx="447.4" cy="459.3" r="2.4"/><circle cx="420.5" cy="437.6" r="2.7"/><circle cx="372.8" cy="145.1" r="2.2"/><circle cx="246.2" cy="395.6" r="2.2"/><circle cx="370.8" cy="166.7" r="2.4"/><circle cx="442.2" cy="123.0" r="2.4"/><circle cx="528.7" cy="294.4" r="1.3"/><circle cx="475.2" cy="198.4" r="2.8"/><circle cx="212.2" cy="199.1" r="1.9"/><circle cx="580.1" cy="271.0" r="1.5"/><circle cx="394.7" cy="474.7" r="1.5"/><circle cx="303.7" cy="304.0" r="2.6"/><circle cx="278.7" cy="282.0" r="2.2"/><circle cx="328.7" cy="485.2" r="2.6"/><circle cx="334.0" cy="297.4" r="1.6"/><circle cx="515.1" cy="157.0" r="2.2"/><circle cx="444.5" cy="351.6" r="2.4"/></g>
<g fill="#6a6a6a" opacity="0.8"><circle cx="358.3" cy="387.8" r="1.0"/><circle cx="442.6" cy="152.6" r="0.8"/><circle cx="229.4" cy="129.1" r="1.1"/><circle cx="338.2" cy="233.2" r="1.1"/><circle cx="352.3" cy="318.6" r="1.0"/><circle cx="324.5" cy="80.6" r="1.3"/><circle cx="265.3" cy="417.0" r="1.2"/><circle cx="277.0" cy="89.9" r="1.3"/><circle cx="322.5" cy="204.2" r="1.3"/><circle cx="312.2" cy="466.8" r="0.7"/><circle cx="329.6" cy="251.4" r="0.9"/><circle cx="260.0" cy="149.2" r="1.1"/><circle cx="535.0" cy="303.6" r="0.7"/><circle cx="417.9" cy="289.5" r="1.3"/><circle cx="326.5" cy="378.1" r="0.8"/><circle cx="309.2" cy="395.8" r="1.0"/><circle cx="273.0" cy="433.0" r="1.0"/><circle cx="376.4" cy="357.2" r="0.8"/><circle cx="457.1" cy="236.5" r="1.2"/><circle cx="421.1" cy="387.7" r="1.0"/><circle cx="373.0" cy="265.0" r="1.2"/><circle cx="231.2" cy="352.1" r="0.7"/><circle cx="480.8" cy="396.5" r="0.9"/><circle cx="245.4" cy="403.7" r="0.9"/><circle cx="487.9" cy="229.9" r="1.2"/><circle cx="256.5" cy="106.2" r="1.1"/><circle cx="447.4" cy="284.6" r="0.7"/><circle cx="422.3" cy="319.6" r="0.8"/><circle cx="510.0" cy="420.9" r="1.2"/><circle cx="523.8" cy="232.9" r="0.7"/><circle cx="480.1" cy="328.7" r="1.2"/><circle cx="503.2" cy="258.3" r="0.8"/><circle cx="295.3" cy="104.6" r="1.0"/><circle cx="189.8" cy="299.9" r="0.8"/><circle cx="520.6" cy="389.3" r="1.0"/><circle cx="168.4" cy="321.9" r="1.0"/><circle cx="179.9" cy="303.8" r="0.9"/><circle cx="309.2" cy="413.3" r="0.8"/><circle cx="421.8" cy="245.0" r="0.9"/><circle cx="313.7" cy="454.7" r="1.2"/><circle cx="538.9" cy="238.8" r="0.8"/><circle cx="234.6" cy="287.0" r="1.1"/><circle cx="279.1" cy="244.1" r="1.1"/><circle cx="453.5" cy="468.4" r="0.8"/><circle cx="369.0" cy="120.7" r="0.9"/><circle cx="395.8" cy="249.7" r="0.8"/><circle cx="440.6" cy="108.4" r="0.8"/><circle cx="397.0" cy="386.6" r="0.7"/><circle cx="432.3" cy="86.7" r="0.9"/><circle cx="206.3" cy="227.7" r="1.3"/><circle cx="515.2" cy="317.8" r="1.0"/><circle cx="356.2" cy="153.9" r="1.3"/><circle cx="446.6" cy="412.8" r="1.0"/><circle cx="452.2" cy="470.3" r="0.9"/><circle cx="254.7" cy="397.5" r="0.8"/><circle cx="276.7" cy="296.1" r="0.9"/><circle cx="400.0" cy="317.0" r="0.9"/><circle cx="275.6" cy="85.6" r="0.7"/><circle cx="531.6" cy="340.9" r="0.8"/><circle cx="513.7" cy="257.3" r="1.3"/><circle cx="273.4" cy="437.9" r="0.8"/><circle cx="448.0" cy="142.1" r="0.9"/><circle cx="353.5" cy="371.6" r="1.1"/><circle cx="488.9" cy="342.5" r="0.8"/><circle cx="210.3" cy="163.4" r="0.8"/><circle cx="391.6" cy="337.3" r="0.8"/><circle cx="450.8" cy="136.9" r="0.8"/><circle cx="219.8" cy="245.6" r="0.7"/><circle cx="351.4" cy="140.2" r="1.1"/><circle cx="203.5" cy="145.1" r="1.0"/><circle cx="561.6" cy="215.3" r="1.0"/><circle cx="385.0" cy="143.8" r="1.3"/><circle cx="391.6" cy="344.2" r="0.9"/><circle cx="473.8" cy="439.0" r="1.3"/><circle cx="307.9" cy="419.9" r="1.0"/><circle cx="331.8" cy="427.4" r="1.2"/><circle cx="332.8" cy="385.1" r="0.7"/><circle cx="557.0" cy="256.8" r="0.7"/><circle cx="165.2" cy="270.9" r="0.9"/><circle cx="378.5" cy="306.9" r="1.2"/><circle cx="489.0" cy="198.7" r="1.3"/><circle cx="409.2" cy="364.3" r="1.3"/><circle cx="276.3" cy="400.5" r="1.0"/><circle cx="192.7" cy="388.2" r="1.3"/><circle cx="335.4" cy="257.1" r="1.0"/><circle cx="249.0" cy="291.0" r="1.2"/><circle cx="256.0" cy="395.7" r="1.3"/><circle cx="318.4" cy="386.3" r="1.3"/><circle cx="383.6" cy="340.7" r="1.1"/><circle cx="456.1" cy="134.1" r="0.7"/><circle cx="567.5" cy="200.6" r="0.8"/><circle cx="214.8" cy="338.8" r="0.8"/><circle cx="418.2" cy="206.4" r="1.2"/><circle cx="503.3" cy="263.0" r="0.8"/><circle cx="371.2" cy="215.7" r="1.0"/><circle cx="355.0" cy="358.3" r="1.1"/><circle cx="219.7" cy="326.1" r="1.2"/><circle cx="389.6" cy="413.0" r="0.8"/><circle cx="180.8" cy="241.7" r="1.2"/><circle cx="488.8" cy="206.4" r="0.8"/><circle cx="342.7" cy="374.9" r="1.1"/><circle cx="490.5" cy="354.9" r="1.3"/><circle cx="295.0" cy="405.5" r="1.2"/><circle cx="573.3" cy="317.2" r="1.0"/><circle cx="251.2" cy="253.6" r="1.1"/><circle cx="391.4" cy="425.1" r="0.8"/><circle cx="332.9" cy="185.4" r="1.1"/><circle cx="323.9" cy="187.2" r="1.3"/><circle cx="272.4" cy="291.8" r="0.9"/><circle cx="297.2" cy="477.6" r="1.0"/><circle cx="564.2" cy="267.5" r="0.9"/><circle cx="344.3" cy="403.1" r="0.8"/><circle cx="456.4" cy="260.0" r="1.0"/><circle cx="558.4" cy="264.2" r="1.2"/><circle cx="359.5" cy="126.6" r="1.0"/><circle cx="410.4" cy="467.1" r="1.3"/><circle cx="187.2" cy="216.1" r="0.8"/><circle cx="354.4" cy="129.9" r="0.8"/><circle cx="427.5" cy="284.8" r="0.9"/><circle cx="383.4" cy="316.8" r="0.9"/><circle cx="414.4" cy="144.7" r="0.9"/><circle cx="387.9" cy="427.4" r="0.9"/><circle cx="465.9" cy="351.7" r="1.0"/><circle cx="262.1" cy="234.6" r="1.1"/><circle cx="266.2" cy="122.0" r="1.0"/><circle cx="344.8" cy="333.3" r="1.0"/><circle cx="548.8" cy="287.5" r="1.2"/><circle cx="387.2" cy="341.1" r="1.0"/><circle cx="491.7" cy="218.4" r="1.0"/><circle cx="254.0" cy="128.8" r="1.0"/><circle cx="464.5" cy="320.5" r="1.1"/><circle cx="440.0" cy="335.5" r="0.9"/><circle cx="420.5" cy="443.0" r="1.1"/><circle cx="252.0" cy="134.9" r="0.8"/><circle cx="516.2" cy="158.1" r="1.3"/><circle cx="426.2" cy="236.8" r="1.3"/><circle cx="310.4" cy="477.2" r="1.0"/><circle cx="426.7" cy="362.4" r="1.0"/><circle cx="306.1" cy="415.5" r="0.9"/><circle cx="309.0" cy="406.1" r="0.9"/><circle cx="368.5" cy="385.0" r="0.8"/><circle cx="331.1" cy="378.1" r="1.0"/><circle cx="304.8" cy="473.4" r="1.2"/><circle cx="261.1" cy="358.5" r="1.1"/><circle cx="364.0" cy="359.2" r="0.7"/><circle cx="230.2" cy="299.6" r="1.2"/><circle cx="360.5" cy="343.1" r="1.2"/><circle cx="480.3" cy="112.7" r="0.7"/><circle cx="312.6" cy="331.3" r="1.0"/><circle cx="544.7" cy="280.9" r="1.0"/><circle cx="420.6" cy="180.5" r="0.7"/><circle cx="516.6" cy="318.7" r="0.8"/><circle cx="421.8" cy="431.8" r="0.8"/><circle cx="448.0" cy="162.1" r="1.1"/><circle cx="347.6" cy="339.0" r="1.1"/><circle cx="248.9" cy="204.3" r="1.0"/><circle cx="277.2" cy="162.2" r="1.1"/><circle cx="390.9" cy="165.3" r="0.7"/><circle cx="219.4" cy="295.7" r="0.8"/><circle cx="358.3" cy="361.6" r="1.0"/><circle cx="231.6" cy="203.6" r="1.0"/><circle cx="333.8" cy="328.3" r="0.9"/><circle cx="328.3" cy="241.2" r="0.8"/><circle cx="560.9" cy="356.8" r="1.3"/><circle cx="375.5" cy="100.8" r="0.7"/><circle cx="267.7" cy="404.4" r="1.2"/><circle cx="275.2" cy="377.2" r="0.8"/><circle cx="365.9" cy="280.7" r="1.0"/><circle cx="490.1" cy="170.8" r="1.2"/><circle cx="411.1" cy="466.8" r="1.2"/><circle cx="248.1" cy="269.7" r="1.2"/><circle cx="240.1" cy="204.2" r="1.2"/><circle cx="437.1" cy="274.1" r="1.3"/><circle cx="387.9" cy="251.1" r="1.1"/><circle cx="259.1" cy="220.4" r="0.8"/><circle cx="254.7" cy="264.3" r="1.2"/><circle cx="463.9" cy="329.6" r="0.8"/><circle cx="255.4" cy="212.8" r="1.2"/><circle cx="373.5" cy="192.5" r="1.0"/><circle cx="252.7" cy="236.9" r="0.8"/><circle cx="436.2" cy="293.8" r="1.2"/><circle cx="171.7" cy="212.6" r="1.0"/><circle cx="290.6" cy="300.5" r="1.0"/><circle cx="395.2" cy="485.9" r="0.9"/><circle cx="543.5" cy="393.7" r="0.7"/><circle cx="327.1" cy="169.7" r="1.2"/><circle cx="318.9" cy="252.1" r="1.3"/><circle cx="341.5" cy="334.3" r="0.9"/><circle cx="478.9" cy="301.8" r="1.1"/><circle cx="538.1" cy="269.5" r="1.2"/><circle cx="282.4" cy="355.0" r="0.8"/><circle cx="222.3" cy="204.7" r="1.1"/><circle cx="426.6" cy="373.8" r="1.1"/><circle cx="531.2" cy="241.0" r="1.3"/><circle cx="324.7" cy="193.8" r="1.0"/><circle cx="234.2" cy="209.4" r="1.1"/><circle cx="396.1" cy="205.3" r="1.1"/><circle cx="216.8" cy="129.8" r="0.7"/><circle cx="248.7" cy="206.7" r="1.0"/><circle cx="174.1" cy="241.5" r="0.9"/><circle cx="323.9" cy="116.6" r="1.1"/><circle cx="409.5" cy="239.5" r="1.3"/><circle cx="298.0" cy="297.1" r="0.8"/><circle cx="308.3" cy="461.4" r="1.1"/><circle cx="317.8" cy="470.7" r="0.7"/><circle cx="382.8" cy="198.0" r="0.7"/><circle cx="437.5" cy="338.6" r="1.1"/><circle cx="424.0" cy="401.8" r="1.1"/><circle cx="300.4" cy="445.1" r="1.1"/><circle cx="233.5" cy="202.2" r="1.2"/><circle cx="416.7" cy="459.5" r="1.3"/><circle cx="471.7" cy="306.6" r="1.3"/><circle cx="314.1" cy="253.9" r="1.1"/><circle cx="296.5" cy="481.2" r="1.2"/><circle cx="474.1" cy="438.0" r="0.8"/><circle cx="299.7" cy="413.2" r="1.0"/><circle cx="283.0" cy="409.2" r="1.2"/><circle cx="276.3" cy="372.5" r="0.8"/><circle cx="466.5" cy="178.0" r="0.9"/><circle cx="410.8" cy="375.2" r="1.2"/></g>
<circle cx="366" cy="503.5" r="2" fill="#c8b040"/>
<circle cx="956.6" cy="305.9" r="230.5" fill="#c0c0c0"/>
<g fill="#2e8b57">
<circle cx="900.0" cy="95.8" r="9.0"/>
<circle cx="949.7" cy="98.8" r="9.5"/>
<circle cx="959.6" cy="80.9" r="6.0"/>
<circle cx="925.8" cy="83.9" r="4.4"/>
<circle cx="871.1" cy="97.8" r="5.6"/>
<circle cx="924.8" cy="105.8" r="6.0"/>
<circle cx="884.1" cy="118.7" r="7.0"/>
<circle cx="905.9" cy="128.7" r="10.3"/>
<circle cx="954.6" cy="133.6" r="10.0"/>
<circle cx="933.8" cy="136.6" r="6.4"/>
<circle cx="859.2" cy="123.7" r="4.4"/>
<circle cx="842.3" cy="131.6" r="4.4"/>
<circle cx="830.4" cy="134.6" r="4.0"/>
<circle cx="858.2" cy="143.6" r="5.6"/>
<circle cx="830.4" cy="151.5" r="9.0"/>
<circle cx="888.0" cy="154.5" r="9.5"/>
<circle cx="922.8" cy="161.5" r="7.0"/>
<circle cx="953.7" cy="159.5" r="7.5"/>
<circle cx="909.9" cy="147.5" r="5.0"/>
<circle cx="863.2" cy="163.5" r="9.5"/>
<circle cx="830.4" cy="173.4" r="11.0"/>
<circle cx="796.6" cy="164.5" r="6.4"/>
<circle cx="784.6" cy="185.3" r="7.5"/>
<circle cx="760.8" cy="201.2" r="9.5"/>
<circle cx="802.5" cy="200.2" r="10.0"/>
<circle cx="823.4" cy="196.3" r="6.0"/>
<circle cx="841.3" cy="190.3" r="5.6"/>
<circle cx="860.2" cy="180.4" r="5.0"/>
<circle cx="886.0" cy="183.3" r="9.0"/>
<circle cx="928.8" cy="184.3" r="7.0"/>
<circle cx="953.7" cy="184.3" r="5.6"/>
<circle cx="838.3" cy="211.2" r="10.0"/>
<circle cx="867.2" cy="211.2" r="11.0"/>
<circle cx="904.9" cy="203.2" r="7.0"/>
<circle cx="894.0" cy="222.1" r="9.5"/>
<circle cx="939.7" cy="220.1" r="11.5"/>
<circle cx="778.7" cy="227.1" r="11.0"/>
<circle cx="798.6" cy="237.0" r="7.5"/>
<circle cx="821.4" cy="249.0" r="8.4"/>
<circle cx="860.2" cy="235.0" r="7.0"/>
<circle cx="900.0" cy="241.0" r="5.0"/>
<circle cx="939.7" cy="251.0" r="9.0"/>
<circle cx="956.6" cy="261.9" r="6.0"/>
<circle cx="732.9" cy="258.9" r="8.4"/>
<circle cx="751.8" cy="252.9" r="7.0"/>
<circle cx="766.7" cy="251.0" r="6.0"/>
<circle cx="801.5" cy="262.9" r="10.3"/>
<circle cx="865.2" cy="267.9" r="9.5"/>
<circle cx="889.0" cy="271.8" r="10.3"/>
<circle cx="748.8" cy="282.8" r="13.0"/>
<circle cx="776.7" cy="280.8" r="8.0"/>
<circle cx="814.5" cy="284.8" r="7.0"/>
<circle cx="837.3" cy="276.8" r="6.4"/>
<circle cx="908.9" cy="294.7" r="8.4"/>
<circle cx="761.8" cy="306.0" r="11.0"/>
<circle cx="730.0" cy="301.7" r="5.0"/>
<circle cx="740.9" cy="300.7" r="5.6"/>
<circle cx="926.8" cy="304.6" r="5.6"/>
<circle cx="956.6" cy="281.8" r="5.0"/>
<circle cx="928.8" cy="264.9" r="5.0"/>
<circle cx="878.1" cy="251.0" r="5.0"/>
<circle cx="837.3" cy="227.1" r="5.0"/>
<circle cx="793.6" cy="148.5" r="5.0"/>
<circle cx="815.5" cy="179.4" r="4.0"/>
<circle cx="877.1" cy="143.6" r="4.4"/>
<circle cx="954.6" cy="114.7" r="4.4"/>
<circle cx="962.9" cy="81.9" r="6.4"/>
<circle cx="990.8" cy="86.9" r="9.5"/>
<circle cx="1007.7" cy="84.9" r="3.6"/>
<circle cx="1007.7" cy="95.8" r="4.4"/>
<circle cx="1029.5" cy="93.9" r="4.4"/>
<circle cx="1027.6" cy="114.7" r="8.0"/>
<circle cx="1036.5" cy="102.8" r="4.4"/>
<circle cx="1082.2" cy="118.7" r="8.4"/>
<circle cx="1063.4" cy="131.6" r="9.0"/>
<circle cx="960.9" cy="135.6" r="12.0"/>
<circle cx="1003.7" cy="140.6" r="11.5"/>
<circle cx="991.8" cy="162.5" r="10.3"/>
<circle cx="1017.6" cy="163.5" r="12.0"/>
<circle cx="1102.1" cy="140.6" r="7.5"/>
<circle cx="1120.0" cy="148.5" r="7.5"/>
<circle cx="1118.0" cy="164.5" r="7.0"/>
<circle cx="1045.5" cy="142.6" r="5.0"/>
<circle cx="1044.5" cy="161.5" r="5.6"/>
<circle cx="1078.3" cy="160.5" r="5.6"/>
<circle cx="1105.1" cy="183.3" r="13.0"/>
<circle cx="1134.0" cy="176.4" r="5.0"/>
<circle cx="1049.4" cy="177.4" r="7.0"/>
<circle cx="1031.5" cy="179.4" r="5.0"/>
<circle cx="1077.3" cy="178.4" r="5.6"/>
<circle cx="990.8" cy="185.3" r="5.6"/>
<circle cx="1008.7" cy="185.3" r="5.6"/>
<circle cx="1037.5" cy="199.3" r="9.0"/>
<circle cx="1070.3" cy="208.2" r="11.5"/>
<circle cx="1094.2" cy="203.2" r="8.0"/>
<circle cx="1122.0" cy="195.3" r="6.4"/>
<circle cx="1142.9" cy="200.2" r="10.3"/>
<circle cx="975.9" cy="191.3" r="4.4"/>
<circle cx="1000.7" cy="204.2" r="5.6"/>
<circle cx="1005.7" cy="224.1" r="12.3"/>
<circle cx="1024.6" cy="211.2" r="5.0"/>
<circle cx="1051.4" cy="230.1" r="8.4"/>
<circle cx="1119.0" cy="216.2" r="10.3"/>
<circle cx="1093.2" cy="223.1" r="6.0"/>
<circle cx="1149.9" cy="219.1" r="5.0"/>
<circle cx="1171.7" cy="237.0" r="8.0"/>
<circle cx="987.8" cy="249.0" r="8.4"/>
<circle cx="1035.5" cy="242.0" r="6.4"/>
<circle cx="1081.3" cy="237.0" r="5.6"/>
<circle cx="1111.1" cy="250.0" r="6.4"/>
<circle cx="1155.8" cy="246.0" r="5.0"/>
<circle cx="1021.6" cy="273.8" r="8.4"/>
<circle cx="1045.5" cy="271.8" r="6.4"/>
<circle cx="1069.3" cy="255.9" r="5.0"/>
<circle cx="1113.1" cy="271.8" r="13.0"/>
<circle cx="1180.7" cy="276.8" r="7.0"/>
<circle cx="1154.8" cy="259.9" r="5.6"/>
<circle cx="1081.3" cy="265.9" r="5.6"/>
<circle cx="1135.9" cy="290.7" r="11.0"/>
<circle cx="1182.7" cy="292.7" r="6.0"/>
<circle cx="998.7" cy="289.7" r="7.5"/>
<circle cx="976.9" cy="298.7" r="8.0"/>
<circle cx="1034.5" cy="286.7" r="5.6"/>
<circle cx="1117.0" cy="300.7" r="6.0"/>
<circle cx="1150.8" cy="274.8" r="5.0"/>
<circle cx="1063.4" cy="284.8" r="5.0"/>
<circle cx="963.9" cy="233.1" r="5.0"/>
<circle cx="735.9" cy="314.9" r="6.4"/>
<circle cx="837.3" cy="317.9" r="7.5"/>
<circle cx="867.2" cy="320.9" r="8.4"/>
<circle cx="912.9" cy="325.8" r="9.0"/>
<circle cx="894.0" cy="314.9" r="6.4"/>
<circle cx="952.7" cy="322.9" r="6.4"/>
<circle cx="747.9" cy="325.8" r="4.0"/>
<circle cx="763.8" cy="333.8" r="8.0"/>
<circle cx="814.5" cy="340.8" r="9.0"/>
<circle cx="744.9" cy="349.7" r="13.0"/>
<circle cx="780.7" cy="352.7" r="8.4"/>
<circle cx="831.4" cy="335.8" r="5.6"/>
<circle cx="864.2" cy="352.7" r="5.6"/>
<circle cx="884.1" cy="338.8" r="6.0"/>
<circle cx="919.9" cy="348.7" r="6.4"/>
<circle cx="936.8" cy="334.8" r="7.0"/>
<circle cx="803.5" cy="365.6" r="9.5"/>
<circle cx="837.3" cy="368.6" r="9.0"/>
<circle cx="895.0" cy="362.6" r="9.0"/>
<circle cx="912.9" cy="377.6" r="11.5"/>
<circle cx="943.7" cy="373.6" r="7.5"/>
<circle cx="757.8" cy="368.6" r="6.0"/>
<circle cx="777.7" cy="387.5" r="9.5"/>
<circle cx="801.5" cy="391.5" r="9.5"/>
<circle cx="749.8" cy="392.5" r="8.4"/>
<circle cx="869.1" cy="384.5" r="7.0"/>
<circle cx="824.4" cy="402.4" r="13.0"/>
<circle cx="849.3" cy="396.4" r="6.0"/>
<circle cx="887.0" cy="393.5" r="7.0"/>
<circle cx="906.9" cy="407.4" r="12.3"/>
<circle cx="954.6" cy="415.3" r="9.0"/>
<circle cx="766.7" cy="414.3" r="12.0"/>
<circle cx="797.6" cy="411.4" r="5.6"/>
<circle cx="845.3" cy="418.3" r="8.4"/>
<circle cx="885.1" cy="427.3" r="11.0"/>
<circle cx="863.2" cy="422.3" r="5.0"/>
<circle cx="904.9" cy="431.2" r="5.6"/>
<circle cx="930.8" cy="434.2" r="6.4"/>
<circle cx="791.6" cy="428.3" r="5.0"/>
<circle cx="839.3" cy="440.2" r="7.0"/>
<circle cx="857.2" cy="440.2" r="7.0"/>
<circle cx="821.4" cy="452.1" r="10.3"/>
<circle cx="953.7" cy="455.1" r="11.0"/>
<circle cx="847.3" cy="458.1" r="5.6"/>
<circle cx="861.2" cy="464.1" r="6.0"/>
<circle cx="798.6" cy="465.0" r="5.6"/>
<circle cx="833.4" cy="480.0" r="11.5"/>
<circle cx="908.9" cy="472.0" r="10.3"/>
<circle cx="875.1" cy="459.1" r="5.0"/>
<circle cx="891.0" cy="487.9" r="5.6"/>
<circle cx="920.8" cy="492.9" r="7.5"/>
<circle cx="952.7" cy="497.9" r="10.0"/>
<circle cx="936.8" cy="486.9" r="5.0"/>
<circle cx="885.1" cy="517.7" r="9.0"/>
<circle cx="923.8" cy="514.8" r="7.0"/>
<circle cx="954.6" cy="530.7" r="9.0"/>
<circle cx="857.2" cy="495.9" r="4.0"/>
<circle cx="823.4" cy="357.7" r="4.0"/>
<circle cx="785.6" cy="369.6" r="4.0"/>
<circle cx="929.8" cy="399.4" r="4.0"/>
<circle cx="808.0" cy="311.0" r="9.0"/>
<circle cx="1054.4" cy="304.0" r="10.0"/>
<circle cx="1086.2" cy="304.0" r="9.0"/>
<circle cx="1161.8" cy="304.0" r="11.5"/>
<circle cx="956.0" cy="321.9" r="7.0"/>
<circle cx="1044.5" cy="335.8" r="7.0"/>
<circle cx="1084.2" cy="350.7" r="13.0"/>
<circle cx="1111.1" cy="355.7" r="10.3"/>
<circle cx="1113.1" cy="324.9" r="7.0"/>
<circle cx="1151.8" cy="340.8" r="9.0"/>
<circle cx="1170.7" cy="327.8" r="7.0"/>
<circle cx="1180.7" cy="344.7" r="5.6"/>
<circle cx="1094.2" cy="329.8" r="5.6"/>
<circle cx="1060.4" cy="344.7" r="6.0"/>
<circle cx="1134.9" cy="370.6" r="8.0"/>
<circle cx="1168.7" cy="364.6" r="6.0"/>
<circle cx="1021.6" cy="359.7" r="6.0"/>
<circle cx="997.7" cy="366.6" r="7.0"/>
<circle cx="981.8" cy="362.6" r="5.6"/>
<circle cx="972.9" cy="341.8" r="6.0"/>
<circle cx="973.9" cy="379.5" r="7.0"/>
<circle cx="1052.4" cy="378.5" r="6.0"/>
<circle cx="1068.3" cy="384.5" r="7.0"/>
<circle cx="1111.1" cy="387.5" r="7.5"/>
<circle cx="1163.8" cy="400.4" r="12.3"/>
<circle cx="1123.0" cy="401.4" r="8.0"/>
<circle cx="1140.9" cy="412.3" r="10.3"/>
<circle cx="1095.2" cy="417.3" r="9.5"/>
<circle cx="1075.3" cy="408.4" r="7.5"/>
<circle cx="1042.5" cy="412.3" r="9.5"/>
<circle cx="1009.7" cy="411.4" r="9.0"/>
<circle cx="972.9" cy="402.4" r="6.0"/>
<circle cx="1031.5" cy="435.2" r="11.5"/>
<circle cx="1103.1" cy="440.2" r="8.4"/>
<circle cx="1123.0" cy="439.2" r="6.0"/>
<circle cx="1085.2" cy="450.1" r="7.5"/>
<circle cx="1059.4" cy="463.1" r="10.0"/>
<circle cx="1084.2" cy="471.0" r="10.3"/>
<circle cx="1122.0" cy="459.1" r="6.4"/>
<circle cx="981.8" cy="451.1" r="7.0"/>
<circle cx="1012.6" cy="447.1" r="7.5"/>
<circle cx="988.8" cy="477.0" r="8.4"/>
<circle cx="1046.5" cy="478.0" r="7.5"/>
<circle cx="1068.3" cy="488.9" r="9.0"/>
<circle cx="1039.5" cy="494.9" r="7.0"/>
<circle cx="1015.6" cy="490.9" r="6.0"/>
<circle cx="993.8" cy="514.8" r="9.0"/>
<circle cx="1017.6" cy="512.8" r="7.0"/>
<circle cx="972.9" cy="521.7" r="8.0"/>
<circle cx="1039.5" cy="520.7" r="4.0"/>
<circle cx="1015.6" cy="473.0" r="5.0"/>
<circle cx="971.9" cy="480.0" r="6.0"/>
<circle cx="981.8" cy="491.9" r="4.4"/>
<circle cx="998.7" cy="395.4" r="4.0"/>
<circle cx="1035.5" cy="391.5" r="5.0"/>
<circle cx="991.8" cy="345.7" r="4.4"/>
<circle cx="1069.3" cy="432.2" r="5.6"/>
<circle cx="1139.9" cy="391.5" r="5.6"/>
<circle cx="920.6" cy="255.7" r="2.7"/>
<circle cx="901.1" cy="330.5" r="1.4"/>
<circle cx="1033.8" cy="382.0" r="3.2"/>
<circle cx="1121.6" cy="249.6" r="2.1"/>
<circle cx="1005.6" cy="298.5" r="2.4"/>
<circle cx="935.1" cy="390.4" r="1.5"/>
<circle cx="882.1" cy="499.4" r="1.5"/>
<circle cx="796.7" cy="215.9" r="2.0"/>
<circle cx="893.0" cy="170.0" r="1.8"/>
<circle cx="823.9" cy="226.8" r="1.8"/>
<circle cx="1009.4" cy="121.4" r="1.7"/>
<circle cx="808.1" cy="230.9" r="2.5"/>
<circle cx="940.7" cy="183.8" r="3.7"/>
<circle cx="960.6" cy="216.5" r="2.5"/>
<circle cx="1138.5" cy="351.6" r="4.0"/>
<circle cx="882.0" cy="482.1" r="3.0"/>
<circle cx="820.7" cy="231.3" r="2.4"/>
<circle cx="925.9" cy="445.1" r="3.4"/>
<circle cx="1144.1" cy="378.7" r="1.5"/>
<circle cx="1001.6" cy="258.8" r="2.3"/>
<circle cx="751.2" cy="240.0" r="4.4"/>
<circle cx="1036.1" cy="214.6" r="2.2"/>
<circle cx="820.3" cy="473.2" r="1.9"/>
<circle cx="1012.8" cy="384.2" r="1.6"/>
<circle cx="973.3" cy="464.8" r="3.0"/>
<circle cx="1161.9" cy="378.3" r="4.1"/>
<circle cx="1101.1" cy="160.5" r="2.1"/>
<circle cx="897.1" cy="349.7" r="2.8"/>
<circle cx="1011.7" cy="328.6" r="1.6"/>
<circle cx="1026.7" cy="419.9" r="1.4"/>
<circle cx="1168.4" cy="340.1" r="3.1"/>
<circle cx="1025.2" cy="398.5" r="1.9"/>
<circle cx="800.6" cy="339.8" r="1.4"/>
<circle cx="937.3" cy="513.9" r="1.5"/>
<circle cx="870.1" cy="290.4" r="2.7"/>
<circle cx="1121.0" cy="334.1" r="3.8"/>
<circle cx="1057.0" cy="480.8" r="2.1"/>
<circle cx="980.5" cy="176.3" r="1.6"/>
<circle cx="1080.4" cy="141.2" r="4.4"/>
<circle cx="949.7" cy="196.8" r="2.6"/>
<circle cx="1076.0" cy="327.1" r="1.7"/>
<circle cx="746.5" cy="378.2" r="2.3"/>
<circle cx="1089.7" cy="267.2" r="1.6"/>
<circle cx="1007.9" cy="479.8" r="4.0"/>
<circle cx="854.8" cy="484.3" r="5.6"/>
<circle cx="1141.2" cy="241.8" r="1.5"/>
<circle cx="1018.9" cy="369.8" r="3.2"/>
<circle cx="987.1" cy="223.6" r="4.5"/>
<circle cx="975.2" cy="326.0" r="5.6"/>
<circle cx="1094.8" cy="244.7" r="4.8"/>
<circle cx="955.2" cy="430.1" r="1.7"/>
<circle cx="856.5" cy="245.5" r="2.2"/>
<circle cx="1105.4" cy="466.5" r="2.0"/>
<circle cx="1079.3" cy="221.7" r="3.4"/>
<circle cx="789.2" cy="304.2" r="2.6"/>
<circle cx="985.6" cy="215.1" r="2.4"/>
<circle cx="880.7" cy="452.7" r="2.2"/>
<circle cx="972.6" cy="232.9" r="2.4"/>
<circle cx="979.4" cy="144.0" r="2.8"/>
<circle cx="902.2" cy="161.4" r="2.7"/>
<circle cx="736.0" cy="336.5" r="1.6"/>
<circle cx="946.3" cy="477.3" r="5.4"/>
<circle cx="1057.7" cy="355.5" r="1.4"/>
<circle cx="1028.6" cy="251.5" r="3.7"/>
<circle cx="910.2" cy="232.6" r="4.9"/>
<circle cx="1095.0" cy="263.3" r="2.5"/>
<circle cx="823.6" cy="292.8" r="1.6"/>
<circle cx="875.2" cy="483.1" r="1.4"/>
<circle cx="1087.9" cy="320.9" r="3.2"/>
<circle cx="898.6" cy="301.4" r="2.6"/>
<circle cx="1152.9" cy="355.8" r="1.7"/>
<circle cx="1059.0" cy="414.3" r="5.1"/>
<circle cx="1003.2" cy="335.2" r="3.5"/>
<circle cx="1125.9" cy="236.8" r="4.3"/>
<circle cx="828.5" cy="344.2" r="1.9"/>
<circle cx="962.1" cy="381.6" r="1.5"/>
<circle cx="1054.6" cy="338.0" r="1.6"/>
<circle cx="1015.8" cy="427.5" r="1.4"/>
<circle cx="956.5" cy="334.3" r="3.8"/>
<circle cx="1090.1" cy="291.1" r="3.2"/>
<circle cx="844.8" cy="382.2" r="1.4"/>
<circle cx="998.4" cy="350.3" r="2.4"/>
<circle cx="953.3" cy="398.6" r="1.4"/>
<circle cx="962.7" cy="430.0" r="2.3"/>
<circle cx="1098.4" cy="306.9" r="2.2"/>
<circle cx="853.7" cy="304.1" r="2.5"/>
<circle cx="1074.5" cy="309.6" r="1.4"/>
<circle cx="1081.9" cy="323.7" r="1.6"/>
<circle cx="813.2" cy="220.4" r="3.9"/>
<circle cx="1067.3" cy="119.5" r="2.4"/>
<circle cx="935.7" cy="100.1" r="1.5"/>
<circle cx="795.4" cy="281.7" r="4.5"/>
<circle cx="878.4" cy="131.5" r="1.6"/>
<circle cx="1038.7" cy="322.2" r="2.0"/>
<circle cx="786.9" cy="240.5" r="3.2"/>
<circle cx="774.8" cy="265.0" r="1.4"/>
<circle cx="947.0" cy="191.0" r="1.4"/>
<circle cx="937.5" cy="501.0" r="1.6"/>
<circle cx="975.8" cy="126.7" r="3.3"/>
<circle cx="1034.5" cy="347.1" r="1.7"/>
<circle cx="933.3" cy="295.3" r="1.4"/>
<circle cx="889.6" cy="129.6" r="1.8"/>
<circle cx="801.0" cy="289.7" r="2.4"/>
<circle cx="1055.9" cy="270.6" r="2.7"/>
<circle cx="1061.1" cy="435.1" r="1.8"/>
<circle cx="1096.4" cy="459.7" r="2.6"/>
<circle cx="1117.5" cy="309.5" r="1.5"/>
<circle cx="929.0" cy="387.4" r="1.9"/>
<circle cx="871.7" cy="498.4" r="1.4"/>
<circle cx="848.3" cy="358.5" r="1.4"/>
<circle cx="907.3" cy="522.3" r="1.7"/>
<circle cx="940.4" cy="469.2" r="1.6"/>
<circle cx="807.4" cy="145.2" r="5.2"/>
<circle cx="766.9" cy="366.4" r="2.1"/>
<circle cx="945.1" cy="355.4" r="5.3"/>
<circle cx="1066.5" cy="419.0" r="1.9"/>
<circle cx="898.3" cy="494.4" r="2.8"/>
<circle cx="882.6" cy="363.7" r="1.5"/>
<circle cx="849.0" cy="307.9" r="2.2"/>
<circle cx="1021.0" cy="383.3" r="1.4"/>
<circle cx="918.8" cy="363.9" r="1.7"/>
<circle cx="830.6" cy="382.8" r="2.6"/>
<circle cx="861.1" cy="399.2" r="1.4"/>
<circle cx="1071.1" cy="421.7" r="2.1"/>
<circle cx="1026.0" cy="225.0" r="1.7"/>
<circle cx="1081.2" cy="131.4" r="1.4"/>
<circle cx="954.0" cy="304.3" r="2.1"/>
<circle cx="1143.5" cy="213.4" r="1.6"/>
<circle cx="1138.5" cy="235.8" r="3.3"/>
<circle cx="971.0" cy="151.4" r="2.8"/>
<circle cx="1003.0" cy="345.3" r="2.6"/>
<circle cx="832.6" cy="234.8" r="1.6"/>
<circle cx="937.7" cy="292.0" r="1.8"/>
<circle cx="846.7" cy="323.1" r="1.7"/>
<circle cx="1143.4" cy="258.7" r="1.8"/>
<circle cx="1054.0" cy="256.4" r="1.4"/>
<circle cx="914.6" cy="212.8" r="4.3"/>
<circle cx="945.5" cy="143.2" r="1.6"/>
<circle cx="1082.4" cy="281.8" r="4.4"/>
<circle cx="969.6" cy="413.1" r="3.9"/>
<circle cx="857.3" cy="308.5" r="1.6"/>
<circle cx="873.5" cy="371.6" r="5.3"/>
<circle cx="1076.3" cy="251.0" r="1.6"/>
<circle cx="1139.0" cy="228.2" r="1.4"/>
<circle cx="1005.1" cy="435.6" r="4.9"/>
<circle cx="998.1" cy="316.7" r="1.4"/>
<circle cx="1058.6" cy="249.9" r="3.9"/>
<circle cx="1064.0" cy="226.4" r="1.7"/>
<circle cx="1130.5" cy="258.5" r="1.7"/>
<circle cx="1066.3" cy="322.7" r="2.4"/>
<circle cx="1045.6" cy="124.9" r="3.1"/>
<circle cx="1046.2" cy="354.5" r="4.0"/>
<circle cx="957.6" cy="364.3" r="1.4"/>
<circle cx="832.7" cy="263.4" r="5.7"/>
<circle cx="1089.8" cy="398.2" r="3.7"/>
<circle cx="851.6" cy="342.2" r="2.2"/>
<circle cx="1023.8" cy="201.2" r="2.8"/>
<circle cx="992.4" cy="414.3" r="1.7"/>
<circle cx="841.0" cy="244.0" r="2.1"/>
<circle cx="980.7" cy="510.8" r="3.3"/>
<circle cx="1029.9" cy="301.7" r="2.4"/>
<circle cx="1045.1" cy="115.0" r="5.2"/>
<circle cx="1029.8" cy="373.9" r="4.6"/>
<circle cx="808.2" cy="459.5" r="2.3"/>
<circle cx="944.0" cy="507.9" r="2.0"/>
<circle cx="878.5" cy="232.6" r="2.0"/>
<circle cx="1024.0" cy="334.2" r="2.1"/>
<circle cx="782.1" cy="249.0" r="1.4"/>
<circle cx="853.5" cy="371.5" r="1.8"/>
<circle cx="869.0" cy="303.4" r="1.8"/>
<circle cx="983.1" cy="383.1" r="1.6"/>
<circle cx="790.3" cy="447.2" r="3.1"/>
<circle cx="980.7" cy="200.5" r="2.1"/>
<circle cx="1075.5" cy="134.1" r="1.6"/>
<circle cx="922.4" cy="91.2" r="1.4"/>
<circle cx="1160.7" cy="355.8" r="1.5"/>
<circle cx="818.6" cy="206.3" r="3.2"/>
<circle cx="905.1" cy="445.5" r="2.9"/>
<circle cx="813.1" cy="355.8" r="1.4"/>
<circle cx="975.2" cy="505.6" r="3.0"/>
<circle cx="862.7" cy="331.1" r="1.5"/>
<circle cx="893.6" cy="335.3" r="2.3"/>
<circle cx="913.5" cy="256.1" r="3.1"/>
<circle cx="985.0" cy="144.2" r="1.4"/>
<circle cx="1037.2" cy="259.0" r="4.2"/>
<circle cx="1009.8" cy="281.1" r="2.0"/>
<circle cx="987.1" cy="419.6" r="2.6"/>
<circle cx="938.1" cy="345.9" r="1.5"/>
<circle cx="863.7" cy="109.6" r="1.5"/>
<circle cx="792.2" cy="246.5" r="2.7"/>
<circle cx="857.8" cy="201.0" r="1.6"/>
<circle cx="834.8" cy="241.6" r="3.3"/>
<circle cx="866.4" cy="340.1" r="3.9"/>
<circle cx="1154.9" cy="368.0" r="1.7"/>
<circle cx="1043.3" cy="324.6" r="1.9"/>
<circle cx="1022.7" cy="255.0" r="1.6"/>
<circle cx="937.0" cy="277.8" r="1.4"/>
<circle cx="804.2" cy="217.6" r="1.6"/>
<circle cx="1103.7" cy="472.3" r="1.7"/>
<circle cx="818.2" cy="142.4" r="4.2"/>
<circle cx="860.3" cy="374.1" r="1.4"/>
<circle cx="851.1" cy="169.9" r="2.0"/>
<circle cx="863.7" cy="368.2" r="1.4"/>
<circle cx="745.3" cy="235.9" r="1.5"/>
<circle cx="773.0" cy="297.9" r="1.5"/>
<circle cx="763.6" cy="348.7" r="2.3"/>
<circle cx="961.6" cy="350.8" r="1.9"/>
<circle cx="1065.8" cy="146.0" r="1.7"/>
<circle cx="977.3" cy="286.5" r="1.7"/>
<circle cx="1109.0" cy="205.9" r="2.8"/>
<circle cx="887.9" cy="104.8" r="2.3"/>
<circle cx="910.7" cy="261.3" r="1.5"/>
<circle cx="979.7" cy="335.6" r="1.5"/>
<circle cx="951.7" cy="247.2" r="2.3"/>
<circle cx="1038.0" cy="370.8" r="1.5"/>
<circle cx="1163.0" cy="351.3" r="2.3"/>
<circle cx="817.9" cy="150.2" r="2.2"/>
<circle cx="1119.7" cy="421.1" r="1.6"/>
<circle cx="893.7" cy="441.4" r="1.4"/>
<circle cx="951.5" cy="427.8" r="1.4"/>
<circle cx="868.8" cy="401.8" r="5.4"/>
<circle cx="926.9" cy="278.6" r="2.2"/>
<circle cx="852.8" cy="280.7" r="4.7"/>
<circle cx="960.6" cy="313.2" r="1.6"/>
<circle cx="752.0" cy="316.9" r="1.6"/>
<circle cx="821.5" cy="310.5" r="3.2"/>
<circle cx="941.8" cy="528.4" r="1.5"/>
<circle cx="998.8" cy="493.1" r="2.5"/>
<circle cx="839.3" cy="389.7" r="4.7"/>
<circle cx="1059.5" cy="322.3" r="1.7"/>
<circle cx="800.0" cy="454.3" r="1.6"/>
<circle cx="794.3" cy="346.6" r="4.0"/>
<circle cx="880.5" cy="412.7" r="1.5"/>
<circle cx="1059.7" cy="150.2" r="3.9"/>
<circle cx="982.2" cy="133.1" r="1.5"/>
<circle cx="964.2" cy="406.1" r="1.8"/>
<circle cx="1007.7" cy="380.7" r="1.7"/>
<circle cx="946.8" cy="233.3" r="2.2"/>
<circle cx="1160.2" cy="285.2" r="3.8"/>
<circle cx="908.0" cy="248.7" r="1.6"/>
<circle cx="924.3" cy="333.2" r="2.1"/>
<circle cx="944.2" cy="87.6" r="1.7"/>
<circle cx="919.2" cy="93.9" r="1.5"/>
<circle cx="906.9" cy="254.1" r="2.2"/>
<circle cx="995.8" cy="116.1" r="3.2"/>
<circle cx="842.3" cy="138.8" r="1.5"/>
<circle cx="1120.9" cy="346.1" r="1.5"/>
<circle cx="884.2" cy="297.1" r="2.9"/>
<circle cx="773.6" cy="291.9" r="2.2"/>
<circle cx="899.0" cy="174.2" r="4.0"/>
<circle cx="934.5" cy="449.3" r="1.4"/>
<circle cx="826.8" cy="378.8" r="1.6"/>
<circle cx="988.2" cy="501.0" r="4.6"/>
<circle cx="991.0" cy="102.3" r="3.2"/>
<circle cx="787.8" cy="339.0" r="1.6"/>
<circle cx="1089.5" cy="275.2" r="3.2"/>
<circle cx="879.1" cy="281.7" r="2.4"/>
<circle cx="941.2" cy="445.8" r="1.7"/>
<circle cx="934.5" cy="417.3" r="1.8"/>
<circle cx="807.6" cy="325.2" r="3.2"/>
<circle cx="1152.1" cy="379.2" r="4.3"/>
<circle cx="974.9" cy="221.9" r="4.5"/>
<circle cx="937.8" cy="285.0" r="1.4"/>
<circle cx="1134.0" cy="250.4" r="1.7"/>
<circle cx="799.0" cy="178.2" r="3.4"/>
<circle cx="1083.2" cy="191.0" r="1.7"/>
<circle cx="965.1" cy="391.1" r="2.5"/>
<circle cx="1055.7" cy="432.7" r="2.5"/>
<circle cx="849.8" cy="124.6" r="2.0"/>
<circle cx="810.3" cy="185.3" r="2.6"/>
<circle cx="797.2" cy="295.2" r="3.1"/>
<circle cx="792.4" cy="332.4" r="4.1"/>
<circle cx="993.6" cy="452.7" r="2.2"/>
<circle cx="759.8" cy="236.4" r="1.8"/>
<circle cx="837.0" cy="303.1" r="2.6"/>
<circle cx="1140.0" cy="276.8" r="2.1"/>
<circle cx="1145.6" cy="354.5" r="2.2"/>
<circle cx="1037.8" cy="510.7" r="3.1"/>
<circle cx="821.6" cy="184.3" r="1.7"/>
<circle cx="1000.4" cy="488.2" r="1.4"/>
<circle cx="848.8" cy="261.6" r="1.8"/>
<circle cx="789.9" cy="383.5" r="2.1"/>
<circle cx="1033.3" cy="325.3" r="3.0"/>
<circle cx="930.8" cy="314.9" r="2.1"/>
<circle cx="770.4" cy="184.5" r="2.3"/>
<circle cx="977.6" cy="392.8" r="1.4"/>
<circle cx="1146.3" cy="311.6" r="1.5"/>
<circle cx="1023.2" cy="291.6" r="4.8"/>
<circle cx="935.0" cy="195.0" r="3.8"/>
<circle cx="976.3" cy="353.4" r="3.9"/>
<circle cx="948.1" cy="239.8" r="3.1"/>
<circle cx="1146.1" cy="262.7" r="1.4"/>
<circle cx="1140.9" cy="323.0" r="4.4"/>
<circle cx="1068.9" cy="367.3" r="3.8"/>
<circle cx="803.3" cy="439.8" r="5.4"/>
<circle cx="1018.4" cy="189.0" r="3.1"/>
<circle cx="1163.7" cy="276.3" r="3.0"/>
<circle cx="779.3" cy="198.5" r="4.9"/>
<circle cx="1158.7" cy="360.9" r="2.8"/>
<circle cx="1023.2" cy="128.1" r="4.8"/>
<circle cx="1057.6" cy="259.7" r="2.2"/>
<circle cx="991.2" cy="397.1" r="2.4"/>
<circle cx="846.2" cy="228.6" r="2.6"/>
<circle cx="998.3" cy="311.3" r="2.7"/>
<circle cx="1063.3" cy="186.6" r="2.8"/>
<circle cx="979.1" cy="99.4" r="5.6"/>
<circle cx="955.5" cy="350.5" r="1.6"/>
<circle cx="1063.4" cy="193.1" r="2.4"/>
<circle cx="1005.7" cy="274.7" r="3.0"/>
<circle cx="1069.2" cy="276.5" r="2.8"/>
<circle cx="982.5" cy="263.4" r="4.2"/>
<circle cx="1010.6" cy="300.9" r="1.5"/>
<circle cx="901.0" cy="193.5" r="2.2"/>
<circle cx="1074.1" cy="453.8" r="1.4"/>
<circle cx="1172.0" cy="355.5" r="1.6"/>
<circle cx="889.0" cy="329.2" r="3.5"/>
<circle cx="966.3" cy="359.7" r="3.7"/>
<circle cx="874.2" cy="277.2" r="2.1"/>
<circle cx="1023.3" cy="405.0" r="3.5"/>
<circle cx="827.4" cy="313.2" r="2.1"/>
<circle cx="904.8" cy="214.0" r="2.4"/>
<circle cx="930.3" cy="419.4" r="1.6"/>
<circle cx="1177.3" cy="303.2" r="1.4"/>
<circle cx="903.3" cy="516.5" r="1.4"/>
<circle cx="1047.8" cy="249.6" r="2.9"/>
<circle cx="981.4" cy="113.9" r="1.6"/>
<circle cx="1016.2" cy="338.3" r="3.1"/>
<circle cx="867.1" cy="254.5" r="1.4"/>
<circle cx="940.7" cy="160.1" r="3.7"/>
<circle cx="946.5" cy="404.4" r="3.3"/>
<circle cx="894.3" cy="374.7" r="1.8"/>
<circle cx="943.7" cy="297.1" r="2.6"/>
<circle cx="1155.3" cy="386.3" r="2.2"/>
<circle cx="792.3" cy="311.3" r="2.7"/>
<circle cx="986.9" cy="372.9" r="1.7"/>
<circle cx="972.9" cy="269.6" r="1.4"/>
<circle cx="924.7" cy="209.7" r="1.4"/>
<circle cx="766.2" cy="278.3" r="1.4"/>
<circle cx="1089.2" cy="163.8" r="1.4"/>
<circle cx="1013.2" cy="238.4" r="2.6"/>
<circle cx="954.6" cy="212.9" r="3.2"/>
<circle cx="1088.8" cy="251.2" r="2.2"/>
<circle cx="780.1" cy="441.7" r="1.8"/>
<circle cx="846.5" cy="431.7" r="1.4"/>
<circle cx="1041.6" cy="317.1" r="2.6"/>
<circle cx="1136.2" cy="345.3" r="1.5"/>
<circle cx="873.5" cy="226.6" r="2.6"/>
<circle cx="908.8" cy="242.2" r="2.6"/>
<circle cx="938.5" cy="461.6" r="2.7"/>
<circle cx="1040.9" cy="397.3" r="1.6"/>
<circle cx="1101.0" cy="394.8" r="3.7"/>
<circle cx="785.1" cy="252.5" r="1.8"/>
<circle cx="826.2" cy="423.6" r="1.4"/>
<circle cx="969.3" cy="215.4" r="1.4"/>
<circle cx="1040.8" cy="374.9" r="2.3"/>
<circle cx="1105.9" cy="459.5" r="1.4"/>
<circle cx="808.2" cy="351.8" r="2.3"/>
<circle cx="918.4" cy="444.2" r="2.8"/>
<circle cx="859.2" cy="392.3" r="3.4"/>
<circle cx="800.9" cy="226.0" r="1.4"/>
<circle cx="1071.1" cy="243.1" r="4.6"/>
<circle cx="999.0" cy="449.6" r="2.8"/>
<circle cx="1006.5" cy="309.3" r="2.8"/>
<circle cx="1135.3" cy="245.2" r="2.4"/>
<circle cx="753.0" cy="266.9" r="1.5"/>
<circle cx="1032.1" cy="160.0" r="1.5"/>
<circle cx="783.7" cy="413.5" r="1.8"/>
<circle cx="951.4" cy="292.5" r="1.8"/>
<circle cx="1052.8" cy="158.8" r="1.8"/>
<circle cx="1009.9" cy="458.8" r="2.8"/>
<circle cx="1033.2" cy="361.7" r="2.6"/>
<circle cx="1036.3" cy="144.9" r="3.2"/>
<circle cx="980.3" cy="315.7" r="4.1"/>
<circle cx="870.8" cy="480.1" r="2.0"/>
<circle cx="1133.6" cy="433.5" r="2.9"/>
<circle cx="867.0" cy="431.1" r="2.1"/>
<circle cx="870.4" cy="505.7" r="4.4"/>
<circle cx="1064.1" cy="270.8" r="2.1"/>
<circle cx="878.6" cy="506.0" r="2.5"/>
<circle cx="986.7" cy="196.7" r="1.5"/>
<circle cx="894.2" cy="382.9" r="4.5"/>
<circle cx="1082.4" cy="416.7" r="2.0"/>
<circle cx="908.4" cy="339.4" r="1.5"/>
<circle cx="937.5" cy="238.7" r="1.7"/>
<circle cx="759.9" cy="379.1" r="3.4"/>
<circle cx="932.3" cy="167.1" r="2.8"/>
<circle cx="847.2" cy="302.6" r="2.0"/>
<circle cx="941.9" cy="523.1" r="2.5"/>
<circle cx="874.3" cy="239.4" r="4.6"/>
<circle cx="976.0" cy="164.9" r="3.3"/>
<circle cx="840.1" cy="253.1" r="2.1"/>
<circle cx="1039.4" cy="355.6" r="1.7"/>
<circle cx="875.9" cy="474.4" r="1.5"/>
<circle cx="831.5" cy="305.6" r="1.4"/>
<circle cx="920.7" cy="197.3" r="4.6"/>
<circle cx="945.8" cy="261.0" r="1.4"/>
<circle cx="1010.2" cy="392.8" r="1.8"/>
<circle cx="888.1" cy="476.0" r="1.5"/>
<circle cx="952.4" cy="311.7" r="2.5"/>
<circle cx="917.6" cy="274.7" r="1.7"/>
<circle cx="956.4" cy="238.5" r="3.0"/>
<circle cx="800.9" cy="428.9" r="3.0"/>
<circle cx="1097.6" cy="256.5" r="3.5"/>
<circle cx="908.6" cy="163.6" r="2.6"/>
<circle cx="896.3" cy="108.9" r="1.7"/>
<circle cx="846.7" cy="177.2" r="1.7"/>
<circle cx="869.1" cy="360.2" r="1.8"/>
<circle cx="965.2" cy="470.4" r="2.3"/>
<circle cx="1081.8" cy="252.5" r="1.8"/>
<circle cx="1021.3" cy="248.6" r="2.8"/>
<circle cx="1049.5" cy="387.2" r="1.9"/>
<circle cx="937.0" cy="405.9" r="3.6"/>
<circle cx="885.7" cy="446.1" r="2.0"/>
<circle cx="1019.0" cy="463.1" r="1.4"/>
<circle cx="958.8" cy="391.3" r="1.4"/>
<circle cx="1001.7" cy="101.7" r="2.7"/>
<circle cx="1038.4" cy="131.3" r="5.1"/>
<circle cx="1104.0" cy="343.7" r="1.6"/>
<circle cx="913.3" cy="452.4" r="2.8"/>
<circle cx="805.8" cy="164.5" r="1.4"/>
<circle cx="881.1" cy="205.6" r="1.9"/>
<circle cx="985.3" cy="280.6" r="1.6"/>
<circle cx="955.0" cy="376.6" r="2.7"/>
<circle cx="781.2" cy="291.3" r="1.4"/>
<circle cx="1151.2" cy="294.5" r="1.4"/>
<circle cx="868.7" cy="246.7" r="1.8"/>
<circle cx="847.7" cy="474.3" r="2.6"/>
<circle cx="993.4" cy="234.4" r="2.0"/>
<circle cx="899.0" cy="261.9" r="2.5"/>
<circle cx="981.8" cy="233.0" r="5.0"/>
<circle cx="1114.5" cy="437.2" r="1.4"/>
<circle cx="771.6" cy="260.3" r="3.0"/>
<circle cx="970.1" cy="264.8" r="1.5"/>
<circle cx="788.5" cy="439.0" r="3.1"/>
<circle cx="916.0" cy="280.4" r="1.5"/>
<circle cx="855.8" cy="426.2" r="2.1"/>
<circle cx="1131.1" cy="312.5" r="1.9"/>
<circle cx="939.6" cy="424.7" r="2.5"/>
<circle cx="998.9" cy="303.8" r="2.8"/>
<circle cx="984.4" cy="125.4" r="3.2"/>
<circle cx="877.3" cy="398.3" r="2.5"/>
<circle cx="973.1" cy="109.2" r="2.6"/>
<circle cx="817.7" cy="260.1" r="1.4"/>
<circle cx="969.5" cy="440.9" r="1.5"/>
<circle cx="1170.6" cy="315.6" r="1.8"/>
<circle cx="1032.3" cy="463.5" r="5.8"/>
<circle cx="830.8" cy="463.9" r="2.2"/>
<circle cx="997.0" cy="261.9" r="1.9"/>
<circle cx="954.9" cy="340.7" r="1.5"/>
<circle cx="934.8" cy="497.3" r="1.6"/>
<circle cx="904.6" cy="267.6" r="4.1"/>
<circle cx="1051.7" cy="211.4" r="1.5"/>
<circle cx="1086.8" cy="176.4" r="2.8"/>
<circle cx="987.4" cy="433.4" r="3.9"/>
<circle cx="869.9" cy="188.3" r="3.5"/>
<circle cx="779.3" cy="312.2" r="1.7"/>
<circle cx="1110.3" cy="227.9" r="3.0"/>
<circle cx="935.3" cy="176.0" r="1.4"/>
<circle cx="785.7" cy="263.6" r="2.8"/>
<circle cx="883.2" cy="493.8" r="2.8"/>
<circle cx="840.7" cy="341.0" r="2.6"/>
<circle cx="1034.3" cy="275.7" r="1.4"/>
<circle cx="1066.0" cy="298.7" r="1.4"/>
<circle cx="989.0" cy="326.4" r="1.5"/>
<circle cx="939.7" cy="86.2" r="1.5"/>
<circle cx="1018.5" cy="263.0" r="1.6"/>
<circle cx="1125.6" cy="379.6" r="2.1"/>
<circle cx="880.8" cy="228.1" r="1.7"/>
<circle cx="967.2" cy="122.2" r="1.5"/>
<circle cx="1010.5" cy="196.5" r="1.9"/>
<circle cx="740.9" cy="325.5" r="1.5"/>
<circle cx="1032.4" cy="317.6" r="3.5"/>
<circle cx="1175.3" cy="318.9" r="1.5"/>
<circle cx="1065.4" cy="328.7" r="2.3"/>
<circle cx="940.0" cy="264.4" r="2.5"/>
<circle cx="1014.2" cy="250.9" r="2.5"/>
<circle cx="879.7" cy="305.5" r="2.0"/>
<circle cx="1167.8" cy="262.2" r="3.8"/>
<circle cx="951.1" cy="365.9" r="1.4"/>
<circle cx="810.2" cy="297.8" r="2.8"/>
<circle cx="941.2" cy="323.8" r="3.5"/>
<circle cx="1169.8" cy="282.2" r="3.7"/>
<circle cx="852.2" cy="382.5" r="2.2"/>
<circle cx="1097.3" cy="281.7" r="2.1"/>
<circle cx="883.3" cy="352.4" r="5.2"/>
<circle cx="1113.6" cy="446.4" r="2.5"/>
<circle cx="999.5" cy="278.1" r="2.8"/>
<circle cx="873.5" cy="470.6" r="1.8"/>
<circle cx="936.1" cy="523.7" r="2.1"/>
<circle cx="1095.2" cy="478.0" r="1.5"/>
<circle cx="1054.1" cy="489.7" r="2.4"/>
<circle cx="1124.7" cy="173.8" r="1.4"/>
<circle cx="802.9" cy="448.0" r="1.5"/>
<circle cx="803.6" cy="285.2" r="1.4"/>
<circle cx="845.7" cy="291.4" r="2.0"/>
<circle cx="1058.8" cy="317.4" r="2.0"/>
<circle cx="1046.1" cy="260.2" r="3.5"/>
<circle cx="826.3" cy="220.0" r="2.4"/>
<circle cx="861.9" cy="132.6" r="2.1"/>
<circle cx="766.7" cy="239.1" r="4.1"/>
<circle cx="1011.3" cy="346.6" r="4.0"/>
<circle cx="903.2" cy="311.7" r="2.0"/>
<circle cx="1017.3" cy="242.8" r="1.9"/>
<circle cx="938.9" cy="303.9" r="4.3"/>
<circle cx="1064.7" cy="173.3" r="2.6"/>
<circle cx="781.7" cy="318.0" r="2.0"/>
<circle cx="989.2" cy="208.5" r="3.9"/>
<circle cx="890.8" cy="460.0" r="2.2"/>
<circle cx="906.7" cy="492.8" r="4.3"/>
<circle cx="996.3" cy="267.7" r="2.2"/>
<circle cx="869.8" cy="138.5" r="1.8"/>
<circle cx="1007.5" cy="509.8" r="1.5"/>
<circle cx="921.2" cy="222.8" r="1.4"/>
<circle cx="884.7" cy="462.0" r="1.5"/>
<circle cx="822.7" cy="431.7" r="1.6"/>
<circle cx="889.3" cy="286.0" r="2.4"/>
<circle cx="923.1" cy="235.9" r="4.5"/>
<circle cx="834.5" cy="285.5" r="1.4"/>
<circle cx="1029.5" cy="351.1" r="1.7"/>
<circle cx="1130.5" cy="341.8" r="3.9"/>
<circle cx="938.6" cy="363.6" r="2.4"/>
<circle cx="1097.2" cy="402.3" r="3.4"/>
<circle cx="1117.4" cy="340.5" r="1.4"/>
<circle cx="824.7" cy="438.3" r="1.5"/>
<circle cx="1064.3" cy="500.8" r="1.8"/>
<circle cx="1074.1" cy="126.5" r="1.5"/>
<circle cx="1043.0" cy="449.9" r="2.6"/>
<circle cx="1069.0" cy="188.5" r="1.9"/>
<circle cx="833.4" cy="291.8" r="3.7"/>
<circle cx="1131.0" cy="352.1" r="2.2"/>
<circle cx="899.8" cy="343.4" r="1.7"/>
<circle cx="937.3" cy="117.8" r="1.5"/>
<circle cx="991.0" cy="407.8" r="1.9"/>
<circle cx="807.5" cy="156.5" r="4.2"/>
<circle cx="1119.1" cy="412.5" r="1.9"/>
<circle cx="1158.1" cy="221.9" r="2.4"/>
<circle cx="828.9" cy="224.5" r="1.5"/>
<circle cx="983.5" cy="193.9" r="1.4"/>
<circle cx="848.8" cy="335.1" r="2.5"/>
<circle cx="1115.8" cy="202.2" r="1.6"/>
<circle cx="1151.3" cy="231.2" r="2.1"/>
<circle cx="1025.6" cy="191.3" r="3.0"/>
<circle cx="1058.3" cy="368.6" r="3.6"/>
<circle cx="924.9" cy="251.2" r="2.2"/>
<circle cx="1064.8" cy="444.6" r="2.9"/>
<circle cx="834.3" cy="140.2" r="1.6"/>
<circle cx="940.7" cy="396.9" r="2.9"/>
<circle cx="1053.1" cy="282.5" r="1.8"/>
<circle cx="813.6" cy="472.8" r="2.7"/>
<circle cx="892.1" cy="478.5" r="1.8"/>
<circle cx="1003.2" cy="178.4" r="1.6"/>
<circle cx="1068.7" cy="155.5" r="2.9"/>
<circle cx="941.3" cy="410.7" r="1.6"/>
<circle cx="1113.4" cy="410.8" r="2.7"/>
<circle cx="1138.6" cy="309.8" r="1.5"/>
<circle cx="963.4" cy="267.8" r="1.7"/>
<circle cx="1017.7" cy="300.6" r="2.4"/>
<circle cx="963.8" cy="331.1" r="2.9"/>
<circle cx="924.7" cy="126.5" r="1.7"/>
<circle cx="1122.4" cy="183.8" r="2.3"/>
<circle cx="1016.6" cy="350.8" r="1.5"/>
<circle cx="983.7" cy="150.7" r="2.7"/>
<circle cx="1009.0" cy="360.5" r="2.8"/>
<circle cx="1165.4" cy="317.9" r="1.5"/>
<circle cx="773.9" cy="323.7" r="1.6"/>
<circle cx="843.9" cy="151.8" r="2.4"/>
<circle cx="909.9" cy="272.4" r="1.7"/>
<circle cx="852.3" cy="110.7" r="3.1"/>
<circle cx="1116.8" cy="431.5" r="2.6"/>
<circle cx="966.0" cy="300.4" r="1.7"/>
<circle cx="775.9" cy="303.1" r="2.1"/>
<circle cx="976.2" cy="245.0" r="1.4"/>
<circle cx="879.2" cy="326.8" r="3.3"/>
<circle cx="1019.4" cy="308.6" r="1.5"/>
<circle cx="893.8" cy="139.8" r="2.6"/>
<circle cx="1019.8" cy="95.9" r="4.2"/>
<circle cx="948.3" cy="266.6" r="2.3"/>
<circle cx="1026.8" cy="238.5" r="1.7"/>
<circle cx="776.5" cy="374.9" r="1.7"/>
<circle cx="914.3" cy="434.6" r="1.9"/>
<circle cx="1083.1" cy="391.5" r="4.5"/>
<circle cx="830.9" cy="123.4" r="2.9"/>
<circle cx="1046.6" cy="286.2" r="2.7"/>
<circle cx="985.4" cy="425.5" r="2.3"/>
<circle cx="1073.2" cy="315.9" r="3.7"/>
<circle cx="958.9" cy="191.5" r="1.7"/>
<circle cx="1136.1" cy="265.0" r="3.0"/>
<circle cx="913.7" cy="186.9" r="1.4"/>
<circle cx="1143.4" cy="269.7" r="1.7"/>
<circle cx="968.4" cy="209.8" r="1.4"/>
<circle cx="1097.8" cy="290.5" r="3.2"/>
<circle cx="1006.3" cy="239.7" r="2.0"/>
<circle cx="958.8" cy="510.6" r="1.8"/>
<circle cx="1014.1" cy="210.7" r="1.4"/>
<circle cx="769.1" cy="354.1" r="1.4"/>
<circle cx="898.8" cy="285.2" r="1.6"/>
<circle cx="1004.4" cy="246.6" r="3.8"/>
<circle cx="1094.5" cy="375.5" r="1.9"/>
<circle cx="1115.1" cy="290.1" r="1.5"/>
<circle cx="809.6" cy="467.0" r="1.5"/>
<circle cx="1010.1" cy="267.8" r="1.6"/>
<circle cx="945.5" cy="282.6" r="4.8"/>
<circle cx="1135.5" cy="306.1" r="1.7"/>
<circle cx="791.7" cy="354.8" r="1.5"/>
<circle cx="1006.9" cy="374.4" r="2.6"/>
<circle cx="1043.6" cy="458.5" r="2.3"/>
<circle cx="926.2" cy="425.5" r="2.2"/>
<circle cx="1058.7" cy="197.8" r="2.7"/>
<circle cx="1040.8" cy="381.7" r="2.5"/>
<circle cx="1036.2" cy="479.4" r="1.6"/>
<circle cx="872.1" cy="132.1" r="3.3"/>
<circle cx="1168.0" cy="253.9" r="1.6"/>
<circle cx="943.9" cy="168.9" r="3.4"/>
<circle cx="965.3" cy="224.4" r="1.6"/>
<circle cx="1119.6" cy="244.2" r="2.0"/>
<circle cx="969.4" cy="180.7" r="1.7"/>
<circle cx="1123.7" cy="321.7" r="2.8"/>
<circle cx="971.4" cy="423.1" r="3.7"/>
<circle cx="988.4" cy="303.3" r="1.5"/>
<circle cx="828.0" cy="287.7" r="1.8"/>
<circle cx="1019.2" cy="328.4" r="1.5"/>
<circle cx="1108.8" cy="404.4" r="3.6"/>
<circle cx="938.8" cy="172.9" r="1.9"/>
<circle cx="810.6" cy="434.2" r="1.6"/>
<circle cx="1016.6" cy="109.3" r="1.4"/>
<circle cx="902.6" cy="107.3" r="1.5"/>
<circle cx="964.8" cy="375.5" r="1.6"/>
<circle cx="1046.9" cy="134.0" r="2.5"/>
<circle cx="867.7" cy="298.2" r="2.3"/>
<circle cx="791.1" cy="298.8" r="1.7"/>
<circle cx="921.5" cy="142.7" r="4.1"/>
<circle cx="979.4" cy="433.4" r="2.4"/>
<circle cx="909.4" cy="110.1" r="2.0"/>
<circle cx="1026.1" cy="261.6" r="2.4"/>
<circle cx="976.3" cy="155.4" r="1.4"/>
<circle cx="909.0" cy="501.3" r="1.5"/>
<circle cx="902.5" cy="389.3" r="2.2"/>
<circle cx="863.1" cy="410.8" r="2.0"/>
<circle cx="827.5" cy="273.5" r="2.6"/>
<circle cx="1099.3" cy="476.4" r="1.6"/>
<circle cx="1161.0" cy="369.5" r="1.8"/>
<circle cx="998.3" cy="107.2" r="2.6"/>
<circle cx="988.1" cy="201.2" r="1.4"/>
<circle cx="992.7" cy="439.3" r="2.0"/>
<circle cx="1111.9" cy="460.9" r="1.4"/>
<circle cx="1107.5" cy="298.7" r="2.1"/>
<circle cx="994.3" cy="426.2" r="1.9"/>
<circle cx="1045.6" cy="505.9" r="2.8"/>
<circle cx="969.4" cy="92.4" r="2.0"/>
<circle cx="1113.2" cy="235.4" r="1.5"/>
<circle cx="812.4" cy="384.9" r="2.0"/>
<circle cx="971.1" cy="315.4" r="1.9"/>
<circle cx="915.6" cy="111.6" r="1.7"/>
<circle cx="789.2" cy="206.2" r="3.3"/>
<circle cx="1054.2" cy="427.1" r="1.9"/>
<circle cx="968.4" cy="192.9" r="1.6"/>
<circle cx="1013.0" cy="397.2" r="1.4"/>
<circle cx="1001.7" cy="426.7" r="2.5"/>
<circle cx="734.4" cy="325.2" r="1.4"/>
<circle cx="1128.8" cy="391.3" r="2.3"/>
<circle cx="1071.2" cy="147.1" r="2.0"/>
<circle cx="815.7" cy="464.0" r="1.6"/>
<circle cx="837.0" cy="494.2" r="1.4"/>
<circle cx="876.4" cy="362.2" r="1.5"/>
<circle cx="1085.2" cy="327.7" r="2.2"/>
<circle cx="1100.5" cy="218.3" r="1.5"/>
<circle cx="1022.7" cy="393.3" r="1.4"/>
<circle cx="915.8" cy="90.8" r="1.9"/>
<circle cx="903.8" cy="352.0" r="3.0"/>
<circle cx="1032.5" cy="333.8" r="1.4"/>
<circle cx="994.8" cy="386.9" r="2.0"/>
<circle cx="770.7" cy="270.2" r="1.4"/>
<circle cx="767.0" cy="381.5" r="1.4"/>
<circle cx="872.5" cy="154.4" r="2.2"/>
<circle cx="873.5" cy="487.6" r="1.7"/>
<circle cx="886.5" cy="247.3" r="2.9"/>
<circle cx="1137.4" cy="221.1" r="1.5"/>
<circle cx="1103.3" cy="209.1" r="1.6"/>
<circle cx="933.8" cy="122.5" r="1.4"/>
<circle cx="932.2" cy="443.5" r="1.7"/>
<circle cx="878.7" cy="319.4" r="1.9"/>
<circle cx="1081.0" cy="440.3" r="1.8"/>
<circle cx="1111.8" cy="338.8" r="1.4"/>
<circle cx="1085.6" cy="131.5" r="1.4"/>
<circle cx="990.1" cy="383.8" r="2.3"/>
<circle cx="748.9" cy="262.3" r="1.5"/>
<circle cx="998.6" cy="379.8" r="2.4"/>
<circle cx="1042.0" cy="296.0" r="2.9"/>
<circle cx="1095.9" cy="276.4" r="2.0"/>
<circle cx="1014.0" cy="296.0" r="1.4"/>
<circle cx="1054.0" cy="145.4" r="2.3"/>
<circle cx="889.9" cy="465.6" r="1.4"/>
<circle cx="933.0" cy="520.0" r="1.5"/>
<circle cx="1032.4" cy="296.9" r="1.7"/>
<circle cx="945.3" cy="393.4" r="1.5"/>
<circle cx="1014.0" cy="376.8" r="1.5"/>
<circle cx="1043.8" cy="443.3" r="1.9"/>
<circle cx="960.3" cy="375.6" r="1.4"/>
<circle cx="966.9" cy="198.2" r="2.6"/>
<circle cx="923.0" cy="365.5" r="1.6"/>
<circle cx="959.8" cy="396.1" r="1.8"/>
<circle cx="981.2" cy="348.1" r="1.5"/>
<circle cx="947.4" cy="111.8" r="2.0"/>
<circle cx="899.8" cy="166.4" r="1.5"/>
<circle cx="855.8" cy="313.2" r="2.0"/>
<circle cx="898.8" cy="520.0" r="2.7"/>
<circle cx="1142.9" cy="360.3" r="2.9"/>
<circle cx="1055.4" cy="390.7" r="1.4"/>
<circle cx="943.9" cy="311.1" r="1.4"/>
<circle cx="924.7" cy="94.9" r="1.6"/>
<circle cx="819.0" cy="434.1" r="1.4"/>
<circle cx="1022.6" cy="459.7" r="1.7"/>
<circle cx="816.4" cy="296.3" r="1.8"/>
<circle cx="944.1" cy="200.7" r="2.3"/>
<circle cx="876.9" cy="404.8" r="2.0"/>
<circle cx="962.4" cy="109.4" r="1.6"/>
<circle cx="850.1" cy="150.1" r="2.7"/>
<circle cx="973.9" cy="438.0" r="1.5"/>
<circle cx="1012.4" cy="116.9" r="2.4"/>
<circle cx="875.4" cy="393.2" r="1.7"/>
<circle cx="914.0" cy="522.1" r="3.7"/>
<circle cx="1028.1" cy="494.5" r="2.0"/>
<circle cx="886.0" cy="235.7" r="1.4"/>
<circle cx="1091.1" cy="133.3" r="1.6"/>
<circle cx="825.2" cy="207.9" r="1.5"/>
<circle cx="1000.8" cy="195.3" r="2.0"/>
<circle cx="873.3" cy="409.5" r="2.3"/>
<circle cx="843.9" cy="258.5" r="1.4"/>
<circle cx="827.9" cy="279.7" r="1.9"/>
<circle cx="878.4" cy="174.0" r="1.7"/>
<circle cx="856.1" cy="323.5" r="1.5"/>
<circle cx="1074.4" cy="441.6" r="1.5"/>
<circle cx="828.2" cy="298.2" r="2.8"/>
<circle cx="1062.9" cy="424.9" r="2.8"/>
<circle cx="806.0" cy="170.2" r="2.9"/>
<circle cx="926.1" cy="356.4" r="1.4"/>
<circle cx="899.9" cy="249.8" r="1.5"/>
<circle cx="858.7" cy="333.7" r="2.0"/>
<circle cx="1012.4" cy="206.2" r="2.1"/>
<circle cx="1081.3" cy="487.1" r="2.4"/>
<circle cx="851.6" cy="185.9" r="2.0"/>
<circle cx="862.3" cy="255.1" r="2.1"/>
<circle cx="951.4" cy="515.0" r="2.8"/>
<circle cx="900.9" cy="511.7" r="2.7"/>
<circle cx="866.2" cy="119.4" r="2.3"/>
<circle cx="1052.2" cy="199.6" r="1.5"/>
<circle cx="975.7" cy="133.7" r="1.6"/>
<circle cx="873.1" cy="193.6" r="1.5"/>
<circle cx="1125.8" cy="430.6" r="1.7"/>
<circle cx="1094.1" cy="388.7" r="1.7"/>
<circle cx="856.5" cy="386.1" r="1.4"/>
<circle cx="815.3" cy="361.1" r="1.8"/>
<circle cx="1033.6" cy="167.5" r="1.5"/>
<circle cx="776.4" cy="426.2" r="2.1"/>
<circle cx="961.9" cy="477.2" r="3.1"/>
<circle cx="1078.8" cy="372.9" r="4.9"/>
<circle cx="911.1" cy="115.4" r="1.6"/>
<circle cx="840.4" cy="160.7" r="3.3"/>
<circle cx="855.9" cy="349.2" r="2.1"/>
<circle cx="993.0" cy="335.8" r="2.3"/>
<circle cx="1029.2" cy="232.3" r="2.3"/>
<circle cx="966.3" cy="185.7" r="1.5"/>
<circle cx="967.9" cy="370.4" r="1.4"/>
<circle cx="856.8" cy="363.4" r="1.7"/>
<circle cx="844.2" cy="352.8" r="2.9"/>
<circle cx="920.1" cy="420.5" r="3.3"/>
<circle cx="1019.4" cy="146.4" r="1.4"/>
<circle cx="1019.4" cy="233.1" r="1.7"/>
<circle cx="1095.6" cy="270.3" r="2.2"/>
<circle cx="945.5" cy="121.2" r="2.1"/>
<circle cx="1020.3" cy="105.1" r="2.8"/>
<circle cx="910.7" cy="223.1" r="1.5"/>
<circle cx="1113.3" cy="419.1" r="2.9"/>
<circle cx="975.8" cy="278.7" r="3.7"/>
<circle cx="759.7" cy="242.2" r="1.5"/>
<circle cx="777.7" cy="177.3" r="1.8"/>
<circle cx="1143.5" cy="228.2" r="1.8"/>
<circle cx="860.7" cy="248.2" r="1.5"/>
<circle cx="914.0" cy="265.5" r="2.5"/>
<circle cx="895.2" cy="202.0" r="1.5"/>
<circle cx="1056.5" cy="113.1" r="1.7"/>
<circle cx="743.5" cy="246.8" r="2.0"/>
<circle cx="1104.4" cy="216.6" r="1.5"/>
<circle cx="1109.6" cy="334.2" r="1.6"/>
<circle cx="967.2" cy="447.2" r="1.6"/>
<circle cx="853.4" cy="225.3" r="2.9"/>
<circle cx="1002.7" cy="523.5" r="2.0"/>
<circle cx="1096.8" cy="151.5" r="1.4"/>
<circle cx="871.9" cy="112.2" r="2.8"/>
<circle cx="965.9" cy="497.3" r="1.9"/>
<circle cx="977.8" cy="150.6" r="1.8"/>
<circle cx="989.3" cy="358.8" r="1.5"/>
<circle cx="1055.3" cy="363.0" r="1.5"/>
<circle cx="1003.3" cy="117.6" r="3.2"/>
<circle cx="816.2" cy="323.1" r="4.3"/>
<circle cx="762.0" cy="219.0" r="1.7"/>
<circle cx="1087.3" cy="434.2" r="3.9"/>
<circle cx="898.2" cy="459.9" r="1.8"/>
<circle cx="1098.6" cy="235.0" r="4.2"/>
<circle cx="1016.0" cy="178.7" r="2.0"/>
<circle cx="1001.7" cy="499.8" r="2.4"/>
<circle cx="1017.3" cy="119.3" r="1.4"/>
<circle cx="1128.5" cy="244.2" r="2.0"/>
<circle cx="873.8" cy="352.7" r="2.7"/>
<circle cx="854.1" cy="357.5" r="1.8"/>
<circle cx="781.3" cy="244.9" r="1.5"/>
<circle cx="927.5" cy="173.8" r="2.3"/>
<circle cx="971.0" cy="284.2" r="2.3"/>
<circle cx="1094.3" cy="156.7" r="3.0"/>
<circle cx="988.0" cy="460.4" r="1.4"/>
<circle cx="954.8" cy="470.6" r="1.7"/>
<circle cx="899.0" cy="143.9" r="1.7"/>
<circle cx="759.6" cy="398.2" r="1.4"/>
<circle cx="1059.9" cy="399.0" r="1.5"/>
<circle cx="986.1" cy="112.9" r="1.9"/>
<circle cx="810.1" cy="246.0" r="1.9"/>
<circle cx="1100.3" cy="467.1" r="1.8"/>
<circle cx="851.8" cy="199.1" r="3.5"/>
<circle cx="1030.5" cy="484.8" r="1.4"/>
<circle cx="1055.6" cy="440.2" r="1.5"/>
<circle cx="788.3" cy="411.8" r="1.4"/>
<circle cx="921.6" cy="295.7" r="2.5"/>
<circle cx="933.9" cy="288.1" r="2.2"/>
<circle cx="792.6" cy="372.6" r="2.1"/>
<circle cx="950.4" cy="344.6" r="3.2"/>
<circle cx="902.4" cy="154.2" r="2.5"/>
<circle cx="760.6" cy="213.9" r="1.9"/>
<circle cx="963.4" cy="180.0" r="3.1"/>
<circle cx="1003.2" cy="470.4" r="3.0"/>
<circle cx="1109.6" cy="427.1" r="3.9"/>
<circle cx="785.4" cy="288.7" r="2.3"/>
<circle cx="845.7" cy="156.7" r="1.6"/>
<circle cx="823.5" cy="372.8" r="2.2"/>
<circle cx="840.4" cy="400.7" r="1.8"/>
<circle cx="1150.4" cy="326.6" r="2.1"/>
<circle cx="789.1" cy="361.6" r="2.0"/>
<circle cx="921.6" cy="458.5" r="1.9"/>
<circle cx="1120.9" cy="231.9" r="1.4"/>
<circle cx="848.4" cy="500.9" r="1.5"/>
<circle cx="1078.7" cy="426.8" r="1.5"/>
<circle cx="965.4" cy="160.3" r="2.4"/>
<circle cx="907.2" cy="158.2" r="1.7"/>
<circle cx="982.5" cy="399.0" r="1.9"/>
<circle cx="1031.8" cy="153.2" r="1.9"/>
<circle cx="1008.1" cy="108.7" r="3.6"/>
<circle cx="959.4" cy="171.9" r="1.4"/>
<circle cx="1072.0" cy="292.7" r="4.6"/>
<circle cx="1094.0" cy="430.5" r="2.0"/>
<circle cx="1039.1" cy="366.5" r="1.7"/>
<circle cx="853.3" cy="217.8" r="1.6"/>
<circle cx="859.6" cy="299.4" r="3.6"/>
<circle cx="1133.0" cy="210.1" r="2.4"/>
<circle cx="970.5" cy="115.3" r="2.0"/>
<circle cx="885.5" cy="454.1" r="1.5"/>
<circle cx="905.8" cy="169.2" r="2.4"/>
<circle cx="933.9" cy="368.7" r="1.6"/>
<circle cx="797.6" cy="249.8" r="2.0"/>
<circle cx="742.0" cy="268.5" r="1.5"/>
<circle cx="895.1" cy="164.6" r="1.6"/>
<circle cx="909.8" cy="103.0" r="1.8"/>
<circle cx="895.9" cy="326.6" r="2.5"/>
<circle cx="836.8" cy="349.5" r="3.0"/>
<circle cx="1144.9" cy="252.7" r="3.1"/>
<circle cx="1028.4" cy="342.7" r="1.9"/>
<circle cx="962.8" cy="340.5" r="1.7"/>
<circle cx="802.9" cy="334.1" r="1.8"/>
<circle cx="882.8" cy="239.9" r="2.5"/>
<circle cx="1067.2" cy="234.3" r="1.8"/>
<circle cx="1112.6" cy="371.1" r="3.8"/>
<circle cx="1039.9" cy="224.7" r="3.0"/>
<circle cx="1065.3" cy="266.1" r="1.4"/>
<circle cx="1138.6" cy="429.7" r="1.4"/>
<circle cx="911.9" cy="178.0" r="1.5"/>
<circle cx="930.8" cy="469.1" r="5.7"/>
<circle cx="759.5" cy="229.4" r="1.6"/>
<circle cx="898.5" cy="421.1" r="2.4"/>
<circle cx="916.5" cy="181.6" r="3.0"/>
<circle cx="886.2" cy="141.2" r="2.2"/>
<circle cx="822.0" cy="161.7" r="1.7"/>
<circle cx="783.9" cy="446.0" r="2.1"/>
<circle cx="995.6" cy="435.1" r="1.8"/>
<circle cx="952.3" cy="298.1" r="1.4"/>
<circle cx="1047.9" cy="189.9" r="3.7"/>
<circle cx="959.3" cy="291.6" r="1.7"/>
<circle cx="863.9" cy="500.5" r="2.5"/>
<circle cx="1078.8" cy="334.4" r="2.8"/>
<circle cx="983.7" cy="339.4" r="2.8"/>
<circle cx="1103.7" cy="226.0" r="1.4"/>
<circle cx="1126.4" cy="187.2" r="1.4"/>
<circle cx="1051.8" cy="395.7" r="1.4"/>
<circle cx="957.0" cy="196.7" r="1.9"/>
<circle cx="1097.2" cy="361.9" r="1.5"/>
<circle cx="971.0" cy="173.5" r="2.2"/>
<circle cx="1077.1" cy="168.9" r="1.6"/>
<circle cx="739.2" cy="330.9" r="2.8"/>
<circle cx="961.7" cy="436.5" r="2.2"/>
<circle cx="1067.4" cy="307.9" r="2.3"/>
<circle cx="880.4" cy="469.5" r="3.4"/>
<circle cx="1020.3" cy="425.0" r="1.6"/>
<circle cx="1089.0" cy="145.8" r="4.0"/>
<circle cx="793.3" cy="456.4" r="1.7"/>
<circle cx="1122.2" cy="426.5" r="1.6"/>
<circle cx="864.4" cy="285.5" r="1.7"/>
<circle cx="995.0" cy="356.7" r="2.0"/>
<circle cx="1048.1" cy="362.1" r="2.7"/>
<circle cx="826.9" cy="350.7" r="1.4"/>
<circle cx="929.9" cy="375.4" r="2.5"/>
<circle cx="1042.5" cy="346.7" r="2.3"/>
<circle cx="1040.1" cy="308.6" r="1.6"/>
<circle cx="858.0" cy="412.3" r="2.1"/>
<circle cx="845.4" cy="168.2" r="2.7"/>
<circle cx="905.1" cy="276.7" r="3.5"/>
<circle cx="1007.0" cy="504.3" r="1.4"/>
<circle cx="1116.9" cy="451.4" r="1.5"/>
<circle cx="905.4" cy="307.0" r="1.5"/>
<circle cx="800.7" cy="325.3" r="1.5"/>
<circle cx="1126.2" cy="255.3" r="1.4"/>
<circle cx="1021.1" cy="238.7" r="1.7"/>
<circle cx="1035.2" cy="229.7" r="1.4"/>
<circle cx="837.7" cy="459.6" r="1.4"/>
<circle cx="937.5" cy="518.7" r="1.5"/>
<circle cx="988.4" cy="488.6" r="1.4"/>
<circle cx="887.0" cy="469.3" r="1.8"/>
<circle cx="932.2" cy="279.3" r="1.9"/>
<circle cx="899.2" cy="185.7" r="2.3"/>
<circle cx="946.0" cy="306.7" r="2.0"/>
<circle cx="1107.0" cy="340.3" r="1.6"/>
<circle cx="867.2" cy="280.0" r="1.4"/>
<circle cx="1089.8" cy="387.6" r="1.5"/>
<circle cx="1014.4" cy="308.6" r="2.2"/>
<circle cx="1009.6" cy="253.7" r="1.6"/>
<circle cx="1011.6" cy="426.1" r="1.5"/>
<circle cx="1088.2" cy="213.1" r="1.9"/>
<circle cx="786.4" cy="399.0" r="1.6"/>
<circle cx="934.9" cy="506.4" r="1.8"/>
<circle cx="1059.7" cy="167.0" r="2.6"/>
<circle cx="829.4" cy="419.5" r="1.4"/>
<circle cx="929.5" cy="342.5" r="2.4"/>
<circle cx="914.2" cy="507.4" r="3.3"/>
<circle cx="800.4" cy="184.8" r="1.7"/>
<circle cx="965.9" cy="95.8" r="1.6"/>
<circle cx="839.9" cy="307.8" r="1.6"/>
<circle cx="1075.2" cy="283.5" r="1.7"/>
<circle cx="1101.6" cy="379.3" r="3.7"/>
<circle cx="967.4" cy="167.9" r="1.7"/>
<circle cx="1067.9" cy="223.6" r="1.8"/>
<circle cx="1056.5" cy="289.0" r="1.7"/>
<circle cx="1019.7" cy="135.2" r="1.8"/>
<circle cx="980.9" cy="184.6" r="2.7"/>
<circle cx="926.7" cy="362.2" r="2.0"/>
<circle cx="1059.2" cy="173.5" r="1.6"/>
<circle cx="993.1" cy="273.5" r="3.1"/>
<circle cx="780.9" cy="400.3" r="2.3"/>
<circle cx="1022.6" cy="345.4" r="1.5"/>
<circle cx="959.2" cy="404.0" r="1.5"/>
<circle cx="818.8" cy="364.2" r="1.5"/>
<circle cx="1110.9" cy="454.3" r="2.9"/>
<circle cx="1045.2" cy="218.6" r="2.9"/>
<circle cx="886.4" cy="499.1" r="1.4"/>
<circle cx="827.9" cy="429.2" r="2.8"/>
<circle cx="929.0" cy="294.0" r="1.4"/>
<circle cx="904.3" cy="340.9" r="1.6"/>
<circle cx="993.7" cy="494.5" r="1.4"/>
<circle cx="783.3" cy="436.5" r="1.4"/>
<circle cx="1129.1" cy="426.8" r="1.4"/>
<circle cx="1102.6" cy="429.0" r="1.5"/>
<circle cx="913.2" cy="363.0" r="1.4"/>
<circle cx="745.7" cy="332.6" r="1.6"/>
<circle cx="872.3" cy="447.3" r="3.8"/>
<circle cx="1076.3" cy="277.0" r="2.0"/>
<circle cx="1057.5" cy="279.2" r="1.4"/>
<circle cx="1072.1" cy="337.1" r="2.6"/>
<circle cx="925.4" cy="483.7" r="1.5"/>
<circle cx="914.9" cy="357.9" r="2.4"/>
<circle cx="844.6" cy="468.3" r="2.5"/>
<circle cx="863.3" cy="290.0" r="1.7"/>
<circle cx="881.0" cy="223.2" r="1.9"/>
<circle cx="981.6" cy="420.5" r="1.6"/>
<circle cx="1109.3" cy="312.9" r="4.2"/>
<circle cx="999.7" cy="456.8" r="1.4"/>
<circle cx="894.3" cy="295.2" r="3.6"/>
<circle cx="907.8" cy="181.3" r="1.5"/>
<circle cx="965.8" cy="463.8" r="1.4"/>
<circle cx="772.5" cy="191.8" r="1.8"/>
<circle cx="852.1" cy="321.4" r="1.8"/>
<circle cx="851.1" cy="295.1" r="1.4"/>
<circle cx="936.5" cy="202.9" r="2.6"/>
<circle cx="875.1" cy="106.5" r="2.5"/>
<circle cx="999.6" cy="183.4" r="1.5"/>
<circle cx="927.0" cy="90.9" r="1.4"/>
<circle cx="905.1" cy="185.0" r="1.4"/>
<circle cx="939.9" cy="496.7" r="1.5"/>
<circle cx="925.6" cy="452.0" r="2.2"/>
<circle cx="994.9" cy="421.0" r="1.6"/>
<circle cx="919.5" cy="119.8" r="1.6"/>
<circle cx="1122.8" cy="340.7" r="1.7"/>
<circle cx="879.4" cy="195.1" r="1.5"/>
<circle cx="958.1" cy="221.9" r="2.2"/>
<circle cx="756.2" cy="322.5" r="3.2"/>
<circle cx="1089.3" cy="372.6" r="2.8"/>
<circle cx="1105.1" cy="306.0" r="1.4"/>
<circle cx="932.2" cy="206.3" r="1.7"/>
<circle cx="954.1" cy="272.9" r="3.0"/>
<circle cx="1127.4" cy="249.2" r="1.9"/>
<circle cx="983.0" cy="272.2" r="3.3"/>
<circle cx="1064.9" cy="360.8" r="1.5"/>
<circle cx="877.6" cy="499.3" r="1.4"/>
<circle cx="973.3" cy="86.2" r="3.1"/>
<circle cx="1122.9" cy="371.7" r="1.6"/>
<circle cx="918.4" cy="135.0" r="2.4"/>
<circle cx="935.3" cy="317.4" r="1.7"/>
<circle cx="1053.7" cy="332.5" r="1.5"/>
<circle cx="842.6" cy="495.4" r="1.4"/>
<circle cx="857.2" cy="114.0" r="1.5"/>
<circle cx="974.4" cy="257.4" r="2.5"/>
<circle cx="965.1" cy="502.5" r="2.0"/>
<circle cx="819.9" cy="213.0" r="2.4"/>
<circle cx="765.6" cy="393.6" r="2.8"/>
<circle cx="1125.6" cy="261.6" r="1.8"/>
<circle cx="967.8" cy="251.8" r="2.7"/>
<circle cx="858.9" cy="455.5" r="1.6"/>
<circle cx="919.2" cy="267.5" r="1.7"/>
<circle cx="990.1" cy="322.0" r="1.5"/>
<circle cx="925.7" cy="384.0" r="1.5"/>
<circle cx="961.2" cy="246.5" r="3.1"/>
<circle cx="1093.6" cy="319.5" r="1.4"/>
<circle cx="939.5" cy="109.8" r="1.9"/>
<circle cx="1096.3" cy="170.0" r="1.6"/>
<circle cx="989.2" cy="148.0" r="2.1"/>
<circle cx="1173.7" cy="312.4" r="1.4"/>
<circle cx="790.1" cy="214.3" r="2.8"/>
<circle cx="1133.3" cy="270.5" r="1.9"/>
<circle cx="1138.0" cy="186.4" r="3.0"/>
<circle cx="984.8" cy="344.8" r="1.4"/>
<circle cx="976.4" cy="414.3" r="1.7"/>
<circle cx="1003.6" cy="454.3" r="1.8"/>
<circle cx="1027.6" cy="504.6" r="1.8"/>
<circle cx="955.6" cy="483.3" r="1.4"/>
<circle cx="1047.2" cy="212.5" r="1.8"/>
<circle cx="936.4" cy="92.1" r="1.9"/>
<circle cx="1125.4" cy="178.5" r="2.0"/>
<circle cx="964.0" cy="205.2" r="1.4"/>
<circle cx="790.0" cy="173.1" r="3.1"/>
<circle cx="1025.7" cy="138.0" r="3.5"/>
<circle cx="921.2" cy="244.9" r="1.5"/>
<circle cx="794.4" cy="320.3" r="5.3"/>
<circle cx="1160.1" cy="234.3" r="2.6"/>
<circle cx="1142.6" cy="303.9" r="2.5"/>
<circle cx="1056.9" cy="107.5" r="2.2"/>
<circle cx="917.0" cy="172.9" r="1.5"/>
<circle cx="1049.4" cy="151.2" r="1.7"/>
<circle cx="848.1" cy="491.7" r="1.4"/>
<circle cx="1007.5" cy="324.0" r="3.3"/>
<circle cx="923.4" cy="214.2" r="1.9"/>
<circle cx="993.1" cy="304.8" r="1.8"/>
<circle cx="851.2" cy="231.1" r="1.5"/>
<circle cx="904.2" cy="141.8" r="1.6"/>
<circle cx="1047.6" cy="318.1" r="2.2"/>
<circle cx="1101.1" cy="154.9" r="2.2"/>
<circle cx="1028.7" cy="500.0" r="1.6"/>
<circle cx="968.8" cy="455.8" r="2.8"/>
<circle cx="815.6" cy="264.9" r="2.6"/>
<circle cx="1084.8" cy="183.0" r="1.9"/>
<circle cx="924.6" cy="114.9" r="1.8"/>
<circle cx="1015.3" cy="148.8" r="1.4"/>
<circle cx="852.0" cy="248.1" r="1.7"/>
<circle cx="794.6" cy="224.4" r="1.7"/>
<circle cx="826.6" cy="467.5" r="1.4"/>
<circle cx="814.7" cy="422.2" r="1.4"/>
<circle cx="877.0" cy="441.0" r="2.0"/>
<circle cx="1121.8" cy="255.4" r="1.6"/>
<circle cx="967.7" cy="274.3" r="2.1"/>
<circle cx="847.8" cy="447.8" r="3.1"/>
<circle cx="890.7" cy="347.3" r="1.4"/>
<circle cx="1036.9" cy="170.9" r="1.9"/>
<circle cx="785.3" cy="335.0" r="1.6"/>
<circle cx="930.5" cy="408.6" r="1.4"/>
<circle cx="770.8" cy="399.8" r="1.8"/>
<circle cx="790.4" cy="418.8" r="1.5"/>
<circle cx="817.9" cy="438.7" r="2.0"/>
<circle cx="1082.2" cy="429.7" r="1.6"/>
<circle cx="923.8" cy="228.5" r="1.4"/>
<circle cx="1107.6" cy="292.2" r="1.5"/>
<circle cx="1162.2" cy="225.7" r="1.5"/>
<circle cx="1082.7" cy="290.3" r="2.7"/>
<circle cx="877.5" cy="199.3" r="1.8"/>
<circle cx="1157.1" cy="324.1" r="2.6"/>
<circle cx="753.8" cy="217.4" r="1.7"/>
<circle cx="896.4" cy="465.9" r="2.3"/>
<circle cx="882.5" cy="259.1" r="2.6"/>
<circle cx="997.6" cy="411.6" r="1.8"/>
<circle cx="873.4" cy="283.9" r="2.2"/>
<circle cx="1047.5" cy="106.1" r="1.6"/>
<circle cx="972.4" cy="208.6" r="1.4"/>
<circle cx="1060.7" cy="477.1" r="1.9"/>
<circle cx="1018.9" cy="396.4" r="1.5"/>
<circle cx="1173.1" cy="348.6" r="1.6"/>
<circle cx="1051.3" cy="421.2" r="1.7"/>
<circle cx="1122.8" cy="327.5" r="1.8"/>
<circle cx="892.6" cy="235.2" r="2.4"/>
<circle cx="913.2" cy="139.8" r="1.7"/>
<circle cx="896.0" cy="473.8" r="1.5"/>
<circle cx="1116.1" cy="230.5" r="2.1"/>
<circle cx="1088.3" cy="258.5" r="1.4"/>
<circle cx="1033.1" cy="503.4" r="2.4"/>
<circle cx="1009.1" cy="290.9" r="1.5"/>
<circle cx="1024.4" cy="485.7" r="2.9"/>
<circle cx="925.9" cy="505.1" r="1.6"/>
<circle cx="1088.0" cy="231.2" r="1.9"/>
<circle cx="1035.4" cy="306.6" r="2.3"/>
<circle cx="1131.1" cy="193.2" r="1.7"/>
<circle cx="779.4" cy="340.5" r="2.6"/>
<circle cx="1160.5" cy="270.3" r="2.5"/>
<circle cx="978.0" cy="214.3" r="1.6"/>
<circle cx="844.0" cy="270.2" r="1.7"/>
<circle cx="881.9" cy="384.8" r="1.4"/>
<circle cx="928.7" cy="366.5" r="1.4"/>
<circle cx="1107.3" cy="234.0" r="2.5"/>
<circle cx="876.3" cy="168.2" r="2.5"/>
<circle cx="1024.0" cy="148.9" r="1.8"/>
<circle cx="951.5" cy="389.1" r="3.3"/>
<circle cx="903.1" cy="111.6" r="1.5"/>
<circle cx="1134.1" cy="226.2" r="2.6"/>
<circle cx="827.7" cy="233.1" r="1.6"/>
<circle cx="894.2" cy="197.1" r="2.2"/>
<circle cx="839.9" cy="120.9" r="2.2"/>
<circle cx="875.3" cy="295.4" r="1.7"/>
<circle cx="781.5" cy="325.3" r="1.4"/>
<circle cx="811.0" cy="212.8" r="1.8"/>
<circle cx="804.3" cy="424.1" r="1.7"/>
<circle cx="1151.3" cy="362.4" r="2.2"/>
<circle cx="915.1" cy="338.4" r="2.5"/>
<circle cx="982.0" cy="408.1" r="3.4"/>
<circle cx="840.2" cy="407.4" r="2.3"/>
<circle cx="908.9" cy="349.2" r="1.5"/>
<circle cx="928.4" cy="148.7" r="2.3"/>
<circle cx="925.2" cy="475.5" r="1.4"/>
<circle cx="951.0" cy="381.7" r="2.1"/>
<circle cx="974.7" cy="430.9" r="1.5"/>
<circle cx="832.1" cy="424.3" r="2.4"/>
<circle cx="917.0" cy="224.2" r="1.7"/>
<circle cx="931.1" cy="274.3" r="1.9"/>
<circle cx="1149.8" cy="240.1" r="2.1"/>
<circle cx="1121.4" cy="385.8" r="1.6"/>
<circle cx="1069.7" cy="264.2" r="1.8"/>
<circle cx="937.4" cy="272.9" r="1.4"/>
<circle cx="829.9" cy="437.6" r="1.5"/>
<circle cx="888.6" cy="203.8" r="2.6"/>
<circle cx="954.4" cy="175.5" r="1.9"/>
<circle cx="813.6" cy="171.2" r="3.1"/>
<circle cx="903.1" cy="504.2" r="2.9"/>
<circle cx="1140.2" cy="315.6" r="1.5"/>
<circle cx="1022.2" cy="452.2" r="2.1"/>
<circle cx="963.8" cy="305.7" r="1.9"/>
<circle cx="870.2" cy="346.4" r="1.4"/>
<circle cx="1123.4" cy="315.9" r="1.5"/>
<circle cx="942.3" cy="384.3" r="2.0"/>
<circle cx="846.3" cy="143.2" r="1.9"/>
<circle cx="853.0" cy="155.4" r="2.1"/>
<circle cx="1026.9" cy="381.2" r="1.6"/>
<circle cx="1103.2" cy="327.4" r="1.9"/>
<circle cx="1168.8" cy="291.3" r="1.7"/>
<circle cx="1109.4" cy="149.4" r="1.8"/>
<circle cx="762.9" cy="291.9" r="1.9"/>
<circle cx="898.9" cy="483.7" r="2.0"/>
<circle cx="1128.9" cy="383.1" r="1.4"/>
<circle cx="1126.5" cy="204.3" r="1.4"/>
<circle cx="942.6" cy="343.0" r="1.7"/>
<circle cx="1017.4" cy="379.5" r="1.5"/>
<circle cx="977.0" cy="118.6" r="3.5"/>
<circle cx="1027.7" cy="328.2" r="2.1"/>
<circle cx="1015.5" cy="400.6" r="1.4"/>
<circle cx="1066.6" cy="398.2" r="1.8"/>
<circle cx="763.8" cy="225.5" r="1.7"/>
<circle cx="834.5" cy="248.0" r="1.8"/>
<circle cx="907.5" cy="457.8" r="2.3"/>
<circle cx="1053.8" cy="153.6" r="1.6"/>
<circle cx="797.7" cy="352.9" r="1.6"/>
<circle cx="975.8" cy="171.7" r="1.7"/>
<circle cx="1031.0" cy="450.4" r="2.4"/>
<circle cx="801.4" cy="419.0" r="1.6"/>
<circle cx="941.1" cy="419.3" r="1.5"/>
<circle cx="930.5" cy="125.0" r="1.4"/>
<circle cx="850.7" cy="180.1" r="1.6"/>
<circle cx="785.5" cy="420.3" r="1.5"/>
<circle cx="969.2" cy="431.7" r="2.1"/>
<circle cx="1004.3" cy="388.2" r="1.8"/>
<circle cx="867.3" cy="442.9" r="1.4"/>
<circle cx="1059.4" cy="181.6" r="1.4"/>
<circle cx="1005.7" cy="125.7" r="1.8"/>
<circle cx="1021.8" cy="387.9" r="1.6"/>
<circle cx="933.7" cy="353.9" r="1.5"/>
<circle cx="967.7" cy="351.9" r="2.9"/>
<circle cx="842.9" cy="329.9" r="4.1"/>
<circle cx="786.8" cy="196.3" r="1.7"/>
<circle cx="939.0" cy="439.9" r="1.6"/>
<circle cx="1089.6" cy="169.9" r="3.0"/>
<circle cx="921.4" cy="428.5" r="2.2"/>
<circle cx="930.0" cy="348.2" r="2.1"/>
<circle cx="989.8" cy="354.2" r="1.6"/>
<circle cx="971.8" cy="247.5" r="1.6"/>
<circle cx="874.8" cy="340.7" r="1.4"/>
<circle cx="964.8" cy="294.2" r="2.0"/>
<circle cx="1138.1" cy="270.4" r="1.6"/>
<circle cx="1053.5" cy="503.1" r="3.0"/>
<circle cx="836.3" cy="381.4" r="1.7"/>
<circle cx="1071.5" cy="230.9" r="2.4"/>
<circle cx="846.3" cy="241.3" r="2.6"/>
<circle cx="1102.0" cy="251.8" r="1.5"/>
<circle cx="848.2" cy="161.8" r="2.8"/>
<circle cx="949.1" cy="395.6" r="1.5"/>
<circle cx="1057.1" cy="328.2" r="2.5"/>
<circle cx="1054.4" cy="403.8" r="2.0"/>
<circle cx="1172.7" cy="267.8" r="1.8"/>
<circle cx="939.6" cy="124.3" r="1.4"/>
<circle cx="908.9" cy="187.2" r="1.5"/>
<circle cx="902.7" cy="256.8" r="1.5"/>
<circle cx="885.2" cy="170.5" r="2.5"/>
<circle cx="960.2" cy="344.4" r="1.7"/>
<circle cx="983.3" cy="286.5" r="3.1"/>
<circle cx="1156.4" cy="214.0" r="2.0"/>
<circle cx="965.2" cy="283.9" r="2.2"/>
<circle cx="1063.6" cy="313.8" r="1.6"/>
<circle cx="849.6" cy="287.8" r="1.7"/>
<circle cx="1045.2" cy="384.9" r="1.6"/>
<circle cx="820.3" cy="222.0" r="1.4"/>
<circle cx="771.7" cy="361.1" r="2.0"/>
<circle cx="870.7" cy="179.0" r="2.3"/>
<circle cx="1019.4" cy="479.9" r="1.6"/>
<circle cx="1119.6" cy="374.9" r="1.6"/>
<circle cx="1170.6" cy="272.8" r="1.4"/>
<circle cx="857.1" cy="254.3" r="1.9"/>
<circle cx="920.2" cy="207.9" r="1.9"/>
<circle cx="1017.4" cy="389.9" r="1.5"/>
<circle cx="855.0" cy="407.9" r="2.0"/>
<circle cx="1053.3" cy="354.7" r="1.8"/>
<circle cx="825.6" cy="320.6" r="3.2"/>
<circle cx="893.5" cy="134.4" r="1.5"/>
<circle cx="766.2" cy="270.9" r="1.8"/>
<circle cx="957.8" cy="517.6" r="1.5"/>
<circle cx="1042.9" cy="369.8" r="1.9"/>
<circle cx="805.8" cy="469.2" r="1.4"/>
<circle cx="979.6" cy="462.3" r="1.8"/>
<circle cx="928.4" cy="287.2" r="2.0"/>
<circle cx="791.6" cy="274.9" r="1.9"/>
<circle cx="864.3" cy="304.3" r="1.7"/>
<circle cx="895.4" cy="510.0" r="1.7"/>
<circle cx="1019.9" cy="500.6" r="3.3"/>
<circle cx="1150.8" cy="390.9" r="2.5"/>
<circle cx="1027.1" cy="470.7" r="1.7"/>
<circle cx="989.0" cy="309.3" r="3.0"/>
<circle cx="847.9" cy="377.7" r="1.6"/>
<circle cx="996.6" cy="403.2" r="2.8"/>
<circle cx="875.1" cy="332.5" r="1.6"/>
<circle cx="1012.0" cy="244.8" r="2.1"/>
<circle cx="929.6" cy="97.8" r="2.0"/>
<circle cx="1023.6" cy="413.5" r="3.6"/>
<circle cx="970.7" cy="492.8" r="3.4"/>
<circle cx="879.8" cy="136.3" r="2.0"/>
<circle cx="747.4" cy="365.7" r="1.9"/>
<circle cx="810.1" cy="410.5" r="1.8"/>
<circle cx="986.6" cy="394.4" r="1.6"/>
<circle cx="745.4" cy="313.8" r="1.4"/>
<circle cx="1131.2" cy="360.1" r="1.6"/>
<circle cx="1127.8" cy="167.8" r="2.1"/>
<circle cx="801.6" cy="213.8" r="1.4"/>
<circle cx="919.2" cy="392.5" r="2.2"/>
<circle cx="806.8" cy="449.6" r="1.4"/>
<circle cx="857.9" cy="382.2" r="1.5"/>
<circle cx="843.0" cy="248.4" r="1.4"/>
<circle cx="943.6" cy="315.7" r="1.4"/>
<circle cx="1000.3" cy="420.5" r="2.5"/>
<circle cx="999.4" cy="461.3" r="1.5"/>
<circle cx="857.0" cy="341.4" r="2.0"/>
<circle cx="920.1" cy="310.8" r="1.7"/>
<circle cx="870.5" cy="492.6" r="1.8"/>
<circle cx="918.9" cy="152.4" r="1.6"/>
<circle cx="1023.7" cy="467.8" r="1.4"/>
<circle cx="1083.4" cy="274.3" r="1.6"/>
<circle cx="1085.0" cy="152.4" r="2.4"/>
<circle cx="1066.9" cy="168.4" r="1.5"/>
<circle cx="872.2" cy="439.7" r="1.4"/>
<circle cx="1070.4" cy="476.1" r="1.8"/>
<circle cx="889.7" cy="257.4" r="1.8"/>
<circle cx="779.8" cy="170.9" r="2.1"/>
<circle cx="1009.7" cy="369.6" r="1.6"/>
<circle cx="838.5" cy="454.4" r="1.5"/>
<circle cx="1144.7" cy="186.6" r="1.5"/>
<circle cx="884.6" cy="504.4" r="2.4"/>
<circle cx="1059.2" cy="394.2" r="2.0"/>
<circle cx="977.2" cy="497.6" r="1.7"/>
<circle cx="967.9" cy="436.9" r="1.5"/>
<circle cx="943.0" cy="347.7" r="1.4"/>
<circle cx="781.7" cy="257.8" r="1.8"/>
<circle cx="776.6" cy="254.2" r="1.4"/>
<circle cx="889.2" cy="302.5" r="3.1"/>
<circle cx="840.4" cy="288.6" r="2.7"/>
<circle cx="1027.4" cy="455.7" r="2.1"/>
<circle cx="894.9" cy="417.3" r="1.5"/>
<circle cx="996.7" cy="329.9" r="1.6"/>
<circle cx="1079.4" cy="383.1" r="1.5"/>
<circle cx="1057.6" cy="494.6" r="1.4"/>
<circle cx="814.6" cy="429.0" r="3.6"/>
<circle cx="974.2" cy="309.4" r="1.7"/>
<circle cx="916.2" cy="100.8" r="2.4"/>
<circle cx="969.3" cy="238.9" r="1.6"/>
<circle cx="1008.6" cy="286.7" r="1.4"/>
<circle cx="958.1" cy="300.3" r="1.6"/>
<circle cx="897.1" cy="339.3" r="1.8"/>
<circle cx="1001.7" cy="356.8" r="2.3"/>
<circle cx="1087.2" cy="383.3" r="1.4"/>
<circle cx="825.7" cy="125.6" r="1.5"/>
<circle cx="965.3" cy="313.4" r="1.9"/>
<circle cx="913.4" cy="428.4" r="1.4"/>
<circle cx="745.2" cy="309.0" r="2.1"/>
<circle cx="1000.4" cy="188.3" r="1.9"/>
<circle cx="823.7" cy="383.4" r="2.7"/>
<circle cx="776.7" cy="246.0" r="1.8"/>
<circle cx="1032.4" cy="399.3" r="1.4"/>
<circle cx="780.4" cy="421.4" r="2.1"/>
<circle cx="954.3" cy="251.7" r="1.5"/>
<circle cx="1046.2" cy="432.6" r="1.4"/>
<circle cx="888.1" cy="109.8" r="1.5"/>
<circle cx="943.3" cy="270.2" r="2.5"/>
<circle cx="1065.7" cy="335.1" r="1.8"/>
<circle cx="821.1" cy="299.9" r="2.9"/>
<circle cx="794.5" cy="189.9" r="1.7"/>
<circle cx="1074.1" cy="303.6" r="1.8"/>
<circle cx="864.7" cy="197.4" r="1.7"/>
<circle cx="995.0" cy="211.8" r="1.5"/>
<circle cx="767.2" cy="344.7" r="1.4"/>
<circle cx="996.9" cy="239.7" r="3.0"/>
<circle cx="883.3" cy="372.3" r="3.0"/>
<circle cx="945.7" cy="148.6" r="2.5"/>
<circle cx="768.1" cy="373.4" r="2.0"/>
<circle cx="846.9" cy="296.7" r="1.8"/>
<circle cx="1126.4" cy="353.8" r="1.4"/>
<circle cx="978.4" cy="438.7" r="1.7"/>
<circle cx="1051.5" cy="367.8" r="1.9"/>
<circle cx="860.1" cy="504.6" r="1.4"/>
<circle cx="1145.8" cy="329.7" r="1.6"/>
<circle cx="891.8" cy="405.4" r="1.4"/>
<circle cx="985.6" cy="440.7" r="2.3"/>
<circle cx="1111.8" cy="199.8" r="1.8"/>
<circle cx="894.1" cy="259.8" r="1.5"/>
<circle cx="986.5" cy="378.0" r="2.2"/>
<circle cx="1065.2" cy="160.0" r="1.4"/>
<circle cx="979.6" cy="467.8" r="2.4"/>
<circle cx="992.5" cy="199.7" r="1.9"/>
<circle cx="1081.0" cy="187.0" r="1.6"/>
<circle cx="990.1" cy="128.6" r="1.4"/>
<circle cx="783.5" cy="305.9" r="1.9"/>
<circle cx="962.4" cy="211.2" r="1.6"/>
<circle cx="857.5" cy="403.3" r="2.0"/>
<circle cx="850.8" cy="116.6" r="1.7"/>
<circle cx="853.4" cy="205.2" r="1.4"/>
<circle cx="1051.5" cy="104.4" r="1.4"/>
<circle cx="1051.3" cy="216.6" r="2.2"/>
<circle cx="762.6" cy="320.9" r="1.6"/>
<circle cx="887.6" cy="413.4" r="1.8"/>
<circle cx="803.8" cy="297.6" r="2.3"/>
<circle cx="883.5" cy="291.1" r="1.4"/>
<circle cx="949.5" cy="175.3" r="1.4"/>
<circle cx="884.3" cy="200.4" r="1.5"/>
<circle cx="1090.2" cy="283.1" r="1.6"/>
<circle cx="991.2" cy="261.6" r="1.5"/>
<circle cx="1035.0" cy="270.1" r="2.1"/>
<circle cx="1103.3" cy="453.9" r="1.4"/>
<circle cx="1108.3" cy="164.8" r="1.4"/>
<circle cx="963.7" cy="191.6" r="1.9"/>
<circle cx="972.0" cy="445.3" r="1.6"/>
<circle cx="1051.0" cy="441.2" r="1.8"/>
<circle cx="1132.4" cy="386.1" r="1.5"/>
<circle cx="853.3" cy="469.4" r="1.7"/>
<circle cx="816.8" cy="156.9" r="2.1"/>
<circle cx="1051.6" cy="399.8" r="1.4"/>
<circle cx="900.4" cy="441.7" r="1.4"/>
<circle cx="971.5" cy="392.4" r="2.8"/>
<circle cx="913.5" cy="156.4" r="1.8"/>
<circle cx="918.3" cy="461.7" r="1.5"/>
<circle cx="875.3" cy="300.2" r="1.9"/>
<circle cx="1004.8" cy="350.5" r="1.5"/>
<circle cx="1052.8" cy="322.1" r="1.7"/>
<circle cx="816.7" cy="165.3" r="2.4"/>
<circle cx="779.8" cy="333.6" r="2.7"/>
<circle cx="868.5" cy="452.8" r="1.7"/>
<circle cx="1124.1" cy="228.6" r="1.8"/>
<circle cx="922.5" cy="172.1" r="1.7"/>
<circle cx="922.0" cy="503.0" r="1.4"/>
<circle cx="1008.5" cy="499.2" r="2.6"/>
<circle cx="1100.8" cy="365.6" r="1.8"/>
<circle cx="848.6" cy="363.8" r="1.6"/>
<circle cx="984.0" cy="464.4" r="1.8"/>
<circle cx="1057.1" cy="448.4" r="2.3"/>
<circle cx="1158.0" cy="277.6" r="1.4"/>
<circle cx="866.6" cy="149.1" r="3.1"/>
<circle cx="849.1" cy="370.5" r="1.4"/>
<circle cx="1031.4" cy="420.3" r="2.0"/>
<circle cx="906.8" cy="283.3" r="1.9"/>
<circle cx="942.4" cy="290.4" r="1.8"/>
<circle cx="941.8" cy="390.4" r="1.8"/>
<circle cx="929.6" cy="231.2" r="1.7"/>
<circle cx="1150.9" cy="315.4" r="3.0"/>
<circle cx="880.8" cy="447.3" r="1.7"/>
<circle cx="911.7" cy="307.8" r="1.8"/>
<circle cx="846.5" cy="252.1" r="2.4"/>
<circle cx="1053.1" cy="262.8" r="1.4"/>
<circle cx="927.6" cy="245.3" r="2.4"/>
<circle cx="929.6" cy="115.2" r="2.0"/>
<circle cx="1008.5" cy="263.3" r="1.9"/>
<circle cx="857.6" cy="474.3" r="1.4"/>
<circle cx="1030.8" cy="513.0" r="2.7"/>
<circle cx="1173.0" cy="255.6" r="2.3"/>
<circle cx="1088.3" cy="137.2" r="1.9"/>
<circle cx="900.4" cy="307.8" r="1.4"/>
<circle cx="919.3" cy="433.8" r="1.9"/>
<circle cx="872.4" cy="421.2" r="1.8"/>
<circle cx="897.4" cy="448.8" r="3.3"/>
<circle cx="811.6" cy="439.4" r="1.5"/>
<circle cx="772.3" cy="207.6" r="1.6"/>
<circle cx="1014.6" cy="128.6" r="2.6"/>
<circle cx="1173.4" cy="292.1" r="1.7"/>
<circle cx="1104.7" cy="370.1" r="2.8"/>
<circle cx="806.6" cy="377.8" r="1.8"/>
<circle cx="909.5" cy="439.8" r="2.8"/>
<circle cx="1047.4" cy="488.3" r="1.5"/>
<circle cx="1017.7" cy="420.4" r="1.7"/>
<circle cx="745.6" cy="373.0" r="1.7"/>
<circle cx="884.3" cy="409.4" r="2.1"/>
<circle cx="1141.1" cy="335.0" r="1.7"/>
<circle cx="884.1" cy="130.1" r="2.5"/>
<circle cx="952.8" cy="169.8" r="1.6"/>
<circle cx="946.5" cy="339.7" r="1.4"/>
<circle cx="1042.0" cy="151.3" r="3.1"/>
<circle cx="1163.3" cy="244.0" r="1.5"/>
<circle cx="1092.5" cy="315.2" r="1.4"/>
<circle cx="930.8" cy="381.5" r="2.4"/>
<circle cx="996.3" cy="175.0" r="1.7"/>
<circle cx="968.2" cy="103.7" r="3.4"/>
<circle cx="1102.1" cy="321.2" r="1.4"/>
<circle cx="963.5" cy="371.3" r="1.5"/>
<circle cx="1061.2" cy="236.2" r="1.5"/>
<circle cx="963.5" cy="485.6" r="2.3"/>
<circle cx="1056.0" cy="185.8" r="2.4"/>
<circle cx="889.9" cy="450.9" r="2.6"/>
<circle cx="1051.9" cy="342.2" r="1.5"/>
<circle cx="1000.5" cy="326.7" r="2.1"/>
<circle cx="885.6" cy="99.9" r="1.8"/>
<circle cx="896.5" cy="503.0" r="2.6"/>
<circle cx="807.4" cy="415.0" r="1.8"/>
<circle cx="762.3" cy="386.9" r="1.6"/>
<circle cx="850.1" cy="136.4" r="1.8"/>
<circle cx="820.8" cy="263.5" r="1.6"/>
<circle cx="885.0" cy="378.2" r="1.4"/>
<circle cx="972.5" cy="145.7" r="1.5"/>
<circle cx="854.2" cy="337.7" r="1.5"/>
<circle cx="1050.9" cy="291.2" r="1.4"/>
<circle cx="1144.8" cy="235.6" r="1.5"/>
<circle cx="1047.0" cy="424.5" r="2.2"/>
<circle cx="1082.0" cy="245.4" r="1.5"/>
<circle cx="1084.9" cy="197.0" r="1.9"/>
<circle cx="783.7" cy="312.4" r="1.5"/>
<circle cx="945.3" cy="485.5" r="1.5"/>
<circle cx="906.8" cy="362.7" r="1.5"/>
<circle cx="1175.5" cy="336.8" r="1.9"/>
<circle cx="916.5" cy="248.7" r="1.8"/>
<circle cx="968.4" cy="244.8" r="1.5"/>
<circle cx="782.0" cy="297.3" r="1.5"/>
<circle cx="1049.3" cy="445.9" r="1.8"/>
<circle cx="767.0" cy="264.0" r="1.6"/>
<circle cx="850.8" cy="255.1" r="1.5"/>
<circle cx="1143.1" cy="426.7" r="2.3"/>
<circle cx="1018.5" cy="195.3" r="1.6"/>
<circle cx="784.5" cy="269.5" r="1.4"/>
<circle cx="862.2" cy="281.3" r="1.8"/>
<circle cx="875.2" cy="310.5" r="1.5"/>
<circle cx="914.0" cy="106.8" r="1.5"/>
<circle cx="924.2" cy="415.6" r="1.7"/>
<circle cx="1134.4" cy="255.5" r="1.5"/>
<circle cx="936.7" cy="386.4" r="1.5"/>
<circle cx="956.4" cy="434.7" r="1.8"/>
<circle cx="1039.7" cy="185.3" r="2.9"/>
<circle cx="1137.1" cy="337.1" r="1.4"/>
<circle cx="1040.1" cy="304.0" r="1.8"/>
<circle cx="782.8" cy="426.8" r="2.5"/>
<circle cx="788.1" cy="258.3" r="1.7"/>
<circle cx="867.7" cy="333.2" r="1.8"/>
<circle cx="987.5" cy="334.6" r="2.0"/>
<circle cx="855.2" cy="288.1" r="1.7"/>
<circle cx="860.5" cy="430.7" r="1.8"/>
<circle cx="1105.6" cy="241.2" r="2.7"/>
<circle cx="949.0" cy="468.7" r="2.1"/>
<circle cx="887.2" cy="134.8" r="1.5"/>
<circle cx="805.8" cy="177.3" r="1.4"/>
<circle cx="1099.9" cy="317.6" r="1.5"/>
<circle cx="1088.0" cy="157.5" r="2.0"/>
<circle cx="932.5" cy="155.1" r="1.9"/>
<circle cx="1068.0" cy="453.5" r="1.4"/>
<circle cx="1125.7" cy="413.1" r="1.4"/>
<circle cx="972.3" cy="204.1" r="1.8"/>
<circle cx="1117.5" cy="238.7" r="2.6"/>
<circle cx="1074.0" cy="331.1" r="1.5"/>
<circle cx="766.9" cy="358.5" r="1.4"/>
<circle cx="830.9" cy="188.2" r="1.8"/>
<circle cx="1102.7" cy="296.5" r="1.4"/>
<circle cx="753.0" cy="333.1" r="1.5"/>
<circle cx="1022.0" cy="219.6" r="2.5"/>
<circle cx="934.8" cy="148.5" r="2.9"/>
<circle cx="950.3" cy="435.5" r="2.1"/>
<circle cx="873.6" cy="120.7" r="2.4"/>
<circle cx="875.8" cy="259.9" r="2.5"/>
<circle cx="807.0" cy="278.0" r="1.8"/>
<circle cx="1005.5" cy="493.9" r="2.2"/>
<circle cx="1030.7" cy="480.1" r="1.9"/>
<circle cx="977.9" cy="427.5" r="1.8"/>
<circle cx="883.6" cy="215.6" r="1.5"/>
<circle cx="958.6" cy="201.8" r="2.1"/>
<circle cx="957.0" cy="439.2" r="1.4"/>
<circle cx="1027.3" cy="322.7" r="2.2"/>
<circle cx="773.8" cy="241.0" r="1.4"/>
<circle cx="980.1" cy="209.1" r="2.7"/>
<circle cx="1084.5" cy="226.4" r="1.5"/>
<circle cx="866.5" cy="309.1" r="1.8"/>
<circle cx="790.3" cy="401.3" r="1.5"/>
<circle cx="1017.8" cy="286.2" r="1.5"/>
<circle cx="1132.5" cy="439.6" r="1.9"/>
<circle cx="843.3" cy="236.7" r="1.7"/>
<circle cx="1025.9" cy="307.5" r="2.6"/>
<circle cx="924.3" cy="132.1" r="1.5"/>
<circle cx="931.8" cy="90.5" r="1.7"/>
<circle cx="930.6" cy="526.6" r="1.5"/>
<circle cx="1050.5" cy="121.3" r="1.6"/>
<circle cx="883.0" cy="321.6" r="1.6"/>
<circle cx="1008.9" cy="399.2" r="1.8"/>
<circle cx="1095.1" cy="370.4" r="1.5"/>
<circle cx="989.4" cy="141.9" r="1.6"/>
<circle cx="1108.2" cy="160.5" r="1.6"/>
<circle cx="909.7" cy="391.8" r="1.7"/>
<circle cx="897.6" cy="435.4" r="1.5"/>
<circle cx="962.3" cy="273.0" r="2.1"/>
<circle cx="925.8" cy="369.7" r="1.6"/>
<circle cx="923.7" cy="339.6" r="1.4"/>
<circle cx="921.3" cy="466.1" r="2.1"/>
<circle cx="930.6" cy="478.6" r="2.5"/>
<circle cx="847.0" cy="343.7" r="1.4"/>
<circle cx="1124.1" cy="350.1" r="1.6"/>
<circle cx="899.8" cy="233.2" r="1.4"/>
<circle cx="954.5" cy="227.4" r="3.1"/>
<circle cx="859.3" cy="193.8" r="3.5"/>
<circle cx="1014.5" cy="101.3" r="2.0"/>
<circle cx="925.2" cy="203.2" r="1.5"/>
<circle cx="924.7" cy="409.5" r="3.1"/>
<circle cx="921.0" cy="263.2" r="1.6"/>
<circle cx="948.2" cy="272.6" r="1.7"/>
<circle cx="852.2" cy="328.7" r="1.5"/>
<circle cx="1020.7" cy="322.5" r="1.6"/>
<circle cx="913.7" cy="192.5" r="2.6"/>
<circle cx="1139.6" cy="381.0" r="2.1"/>
<circle cx="1125.7" cy="308.4" r="3.6"/>
<circle cx="847.3" cy="406.3" r="2.4"/>
<circle cx="835.1" cy="449.6" r="1.7"/>
<circle cx="1077.7" cy="228.5" r="1.6"/>
<circle cx="991.6" cy="318.1" r="1.5"/>
<circle cx="774.2" cy="430.5" r="1.5"/>
<circle cx="952.3" cy="85.6" r="1.4"/>
<circle cx="962.9" cy="117.3" r="1.4"/>
<circle cx="1067.0" cy="350.6" r="1.5"/>
<circle cx="934.5" cy="108.6" r="1.9"/>
<circle cx="921.5" cy="277.9" r="1.5"/>
<circle cx="805.8" cy="212.8" r="1.6"/>
<circle cx="994.2" cy="489.0" r="2.0"/>
<circle cx="769.2" cy="213.2" r="3.6"/>
<circle cx="1155.1" cy="329.4" r="1.4"/>
<circle cx="1092.1" cy="380.1" r="2.0"/>
<circle cx="1038.7" cy="122.9" r="1.7"/>
<circle cx="898.9" cy="455.0" r="1.7"/>
<circle cx="930.2" cy="199.7" r="1.6"/>
<circle cx="1169.0" cy="247.6" r="1.6"/>
<circle cx="1088.5" cy="406.3" r="2.1"/>
<circle cx="933.3" cy="310.4" r="1.7"/>
<circle cx="1060.4" cy="403.8" r="2.1"/>
<circle cx="931.5" cy="503.2" r="1.5"/>
<circle cx="969.9" cy="500.9" r="1.5"/>
<circle cx="954.4" cy="354.9" r="1.6"/>
<circle cx="817.3" cy="235.6" r="1.8"/>
<circle cx="1152.3" cy="287.8" r="2.0"/>
<circle cx="914.3" cy="168.4" r="1.6"/>
<circle cx="1039.5" cy="252.4" r="1.5"/>
<circle cx="941.2" cy="153.0" r="2.1"/>
<circle cx="916.3" cy="241.3" r="2.9"/>
<circle cx="1096.1" cy="452.2" r="2.3"/>
<circle cx="1148.6" cy="372.9" r="1.6"/>
<circle cx="864.4" cy="486.2" r="2.8"/>
<circle cx="795.1" cy="443.3" r="1.7"/>
<circle cx="868.3" cy="124.0" r="1.5"/>
<circle cx="926.4" cy="458.1" r="1.6"/>
<circle cx="823.1" cy="134.5" r="2.0"/>
<circle cx="944.0" cy="516.8" r="2.9"/>
<circle cx="945.7" cy="429.5" r="3.3"/>
<circle cx="939.7" cy="311.6" r="1.4"/>
<circle cx="1130.4" cy="278.1" r="1.5"/>
<circle cx="1132.1" cy="330.2" r="2.4"/>
<circle cx="861.2" cy="449.1" r="1.5"/>
<circle cx="923.9" cy="389.7" r="1.5"/>
<circle cx="996.9" cy="340.0" r="1.6"/>
<circle cx="762.3" cy="260.2" r="2.9"/>
<circle cx="1072.9" cy="361.7" r="1.4"/>
<circle cx="861.3" cy="361.8" r="1.8"/>
<circle cx="1051.6" cy="451.0" r="1.5"/>
<circle cx="1029.8" cy="412.3" r="1.4"/>
<circle cx="1039.7" cy="230.7" r="1.4"/>
<circle cx="805.8" cy="454.9" r="1.4"/>
<circle cx="752.9" cy="378.8" r="1.6"/>
<circle cx="1060.6" cy="333.7" r="1.5"/>
<circle cx="964.6" cy="289.3" r="1.6"/>
<circle cx="885.0" cy="403.4" r="1.8"/>
<circle cx="927.4" cy="326.2" r="2.5"/>
<circle cx="864.7" cy="478.6" r="3.1"/>
<circle cx="1079.7" cy="317.7" r="1.7"/>
<circle cx="892.8" cy="123.7" r="1.7"/>
<circle cx="984.2" cy="328.2" r="1.5"/>
<circle cx="896.9" cy="253.6" r="2.0"/>
<circle cx="1131.2" cy="231.6" r="1.9"/>
<circle cx="1025.4" cy="244.7" r="1.5"/>
<circle cx="1012.9" cy="320.8" r="1.6"/>
<circle cx="1068.0" cy="181.0" r="2.7"/>
<circle cx="1168.4" cy="374.8" r="1.7"/>
<circle cx="920.4" cy="177.1" r="1.7"/>
<circle cx="949.9" cy="202.2" r="1.5"/>
<circle cx="845.8" cy="121.0" r="2.0"/>
<circle cx="759.6" cy="270.6" r="1.6"/>
<circle cx="911.1" cy="485.8" r="1.7"/>
<circle cx="1013.5" cy="355.7" r="1.7"/>
<circle cx="864.5" cy="493.2" r="1.6"/>
<circle cx="820.6" cy="269.3" r="2.2"/>
<circle cx="787.8" cy="378.5" r="1.9"/>
<circle cx="839.7" cy="294.6" r="1.7"/>
<circle cx="880.5" cy="311.0" r="1.7"/>
<circle cx="1147.0" cy="398.1" r="2.8"/>
<circle cx="1122.1" cy="365.8" r="1.5"/>
<circle cx="1034.3" cy="454.9" r="1.5"/>
<circle cx="981.6" cy="218.4" r="1.5"/>
<circle cx="849.3" cy="350.4" r="1.4"/>
<circle cx="918.5" cy="288.7" r="1.6"/>
<circle cx="1011.1" cy="522.0" r="1.6"/>
<circle cx="811.4" cy="237.2" r="1.4"/>
<circle cx="1031.0" cy="128.1" r="1.7"/>
<circle cx="922.7" cy="150.1" r="1.5"/>
<circle cx="833.7" cy="417.7" r="1.9"/>
<circle cx="806.4" cy="402.7" r="1.4"/>
<circle cx="833.3" cy="193.5" r="1.7"/>
<circle cx="922.0" cy="524.9" r="1.6"/>
<circle cx="1012.4" cy="503.3" r="1.7"/>
<circle cx="973.8" cy="369.1" r="2.1"/>
<circle cx="874.7" cy="495.1" r="1.7"/>
<circle cx="1066.6" cy="113.9" r="2.1"/>
<circle cx="842.9" cy="299.2" r="1.7"/>
<circle cx="824.8" cy="365.5" r="1.8"/>
<circle cx="796.5" cy="435.3" r="1.5"/>
<circle cx="1073.9" cy="189.6" r="1.8"/>
<circle cx="1049.8" cy="241.4" r="1.7"/>
<circle cx="852.1" cy="387.4" r="1.4"/>
<circle cx="901.0" cy="323.9" r="1.8"/>
<circle cx="823.0" cy="331.0" r="2.6"/>
<circle cx="768.0" cy="288.4" r="1.5"/>
<circle cx="915.7" cy="312.7" r="1.9"/>
<circle cx="909.4" cy="357.9" r="1.8"/>
<circle cx="1052.3" cy="495.8" r="1.6"/>
<circle cx="1066.0" cy="404.1" r="1.4"/>
<circle cx="1041.6" cy="213.3" r="1.5"/>
<circle cx="988.9" cy="117.5" r="2.2"/>
<circle cx="977.0" cy="252.2" r="1.6"/>
<circle cx="850.4" cy="315.8" r="2.7"/>
<circle cx="1146.6" cy="244.1" r="1.4"/>
<circle cx="887.8" cy="291.2" r="1.6"/>
<circle cx="1159.9" cy="252.7" r="1.6"/>
<circle cx="952.3" cy="360.9" r="2.3"/>
<circle cx="753.1" cy="232.2" r="2.3"/>
<circle cx="774.7" cy="337.7" r="1.4"/>
<circle cx="850.8" cy="131.6" r="1.7"/>
<circle cx="918.9" cy="480.8" r="1.5"/>
<circle cx="759.1" cy="359.8" r="1.5"/>
<circle cx="795.1" cy="339.6" r="1.7"/>
<circle cx="773.9" cy="330.3" r="1.4"/>
<circle cx="1021.4" cy="181.7" r="1.5"/>
<circle cx="1035.8" cy="340.6" r="1.7"/>
<circle cx="859.5" cy="107.1" r="2.1"/>
<circle cx="991.5" cy="282.2" r="1.6"/>
<circle cx="786.0" cy="322.9" r="2.2"/>
<circle cx="987.2" cy="413.2" r="2.3"/>
<circle cx="883.0" cy="105.8" r="1.5"/>
<circle cx="837.2" cy="465.2" r="2.5"/>
<circle cx="928.0" cy="255.2" r="1.5"/>
<circle cx="1119.2" cy="316.4" r="1.4"/>
<circle cx="1127.5" cy="326.2" r="1.6"/>
<circle cx="894.2" cy="114.7" r="1.4"/>
<circle cx="1163.4" cy="335.1" r="2.0"/>
<circle cx="964.5" cy="346.9" r="1.7"/>
<circle cx="962.2" cy="253.6" r="1.4"/>
<circle cx="1013.6" cy="464.9" r="1.7"/>
<circle cx="774.1" cy="369.6" r="1.4"/>
<circle cx="1002.5" cy="265.7" r="2.9"/>
<circle cx="850.1" cy="270.7" r="3.1"/>
<circle cx="988.5" cy="175.6" r="1.9"/>
<circle cx="1130.8" cy="422.2" r="1.8"/>
<circle cx="1044.5" cy="393.8" r="2.1"/>
<circle cx="1060.8" cy="292.4" r="1.7"/>
<circle cx="908.2" cy="514.5" r="1.8"/>
<circle cx="820.1" cy="423.7" r="2.7"/>
<circle cx="1132.7" cy="219.4" r="2.2"/>
<circle cx="933.5" cy="160.1" r="1.5"/>
<circle cx="1031.4" cy="266.8" r="1.4"/>
<circle cx="1131.6" cy="318.0" r="1.4"/>
<circle cx="1127.7" cy="417.1" r="1.8"/>
<circle cx="840.7" cy="143.2" r="1.5"/>
<circle cx="981.6" cy="109.6" r="1.4"/>
<circle cx="948.1" cy="334.6" r="2.7"/>
<circle cx="874.2" cy="304.9" r="1.6"/>
<circle cx="888.4" cy="209.1" r="1.4"/>
<circle cx="810.5" cy="137.8" r="1.5"/>
<circle cx="1029.5" cy="402.5" r="1.7"/>
<circle cx="933.4" cy="511.0" r="1.8"/>
<circle cx="1097.1" cy="299.1" r="1.4"/>
<circle cx="1168.2" cy="353.1" r="1.6"/>
<circle cx="1007.2" cy="176.7" r="1.5"/>
<circle cx="1073.2" cy="170.9" r="1.4"/>
<circle cx="1024.9" cy="100.8" r="1.5"/>
<circle cx="988.4" cy="296.9" r="2.4"/>
<circle cx="1009.2" cy="316.8" r="2.6"/>
<circle cx="813.2" cy="227.7" r="1.6"/>
<circle cx="1109.2" cy="156.2" r="1.5"/>
<circle cx="1029.5" cy="474.3" r="1.4"/>
<circle cx="1013.3" cy="290.8" r="1.5"/>
<circle cx="889.0" cy="374.8" r="1.9"/>
<circle cx="819.5" cy="275.7" r="2.1"/>
<circle cx="964.9" cy="150.3" r="1.8"/>
<circle cx="816.6" cy="387.2" r="1.4"/>
<circle cx="803.1" cy="350.0" r="1.8"/>
<circle cx="987.0" cy="525.3" r="2.2"/>
<circle cx="1045.4" cy="241.7" r="1.4"/>
<circle cx="868.1" cy="225.5" r="1.6"/>
<circle cx="906.1" cy="345.3" r="1.9"/>
<circle cx="868.4" cy="364.9" r="1.6"/>
<circle cx="907.7" cy="314.6" r="1.4"/>
<circle cx="963.1" cy="399.8" r="1.8"/>
<circle cx="780.1" cy="212.6" r="1.7"/>
<circle cx="785.0" cy="212.0" r="1.6"/>
<circle cx="775.1" cy="309.4" r="1.4"/>
<circle cx="923.1" cy="270.4" r="1.7"/>
<circle cx="906.3" cy="260.1" r="1.7"/>
<circle cx="1003.7" cy="170.1" r="2.1"/>
<circle cx="749.7" cy="298.8" r="1.7"/>
<circle cx="1070.4" cy="394.7" r="2.0"/>
<circle cx="989.4" cy="135.4" r="2.4"/>
<circle cx="1019.3" cy="315.2" r="3.8"/>
<circle cx="1049.5" cy="348.0" r="1.7"/>
<circle cx="1060.0" cy="503.5" r="1.5"/>
<circle cx="1086.0" cy="367.5" r="1.4"/>
<circle cx="1052.0" cy="127.7" r="1.7"/>
<circle cx="919.1" cy="124.4" r="1.7"/>
<circle cx="876.0" cy="126.8" r="2.0"/>
<circle cx="775.5" cy="211.0" r="1.8"/>
<circle cx="982.1" cy="389.8" r="2.7"/>
<circle cx="1050.0" cy="204.7" r="2.5"/>
<circle cx="1087.2" cy="244.3" r="1.4"/>
<circle cx="1090.3" cy="440.4" r="1.6"/>
<circle cx="1015.5" cy="434.2" r="1.5"/>
<circle cx="1063.9" cy="241.3" r="1.5"/>
<circle cx="1054.1" cy="192.1" r="1.6"/>
<circle cx="1037.8" cy="155.6" r="1.7"/>
<circle cx="854.7" cy="503.1" r="2.3"/>
<circle cx="1069.2" cy="374.8" r="1.5"/>
<circle cx="774.8" cy="317.9" r="1.4"/>
<circle cx="934.1" cy="455.5" r="1.4"/>
<circle cx="937.3" cy="127.9" r="1.6"/>
<circle cx="805.4" cy="224.3" r="2.1"/>
<circle cx="749.3" cy="226.5" r="2.4"/>
<circle cx="818.3" cy="132.6" r="1.9"/>
<circle cx="1003.1" cy="507.2" r="1.7"/>
<circle cx="817.3" cy="226.0" r="1.5"/>
<circle cx="945.4" cy="442.5" r="2.2"/>
<circle cx="915.5" cy="202.5" r="1.5"/>
<circle cx="827.0" cy="238.1" r="2.1"/>
<circle cx="837.5" cy="427.9" r="2.2"/>
<circle cx="963.5" cy="91.6" r="1.9"/>
<circle cx="854.9" cy="377.9" r="1.8"/>
<circle cx="1125.8" cy="386.1" r="1.5"/>
<circle cx="1024.8" cy="477.5" r="1.4"/>
<circle cx="1120.2" cy="290.0" r="2.3"/>
<circle cx="789.1" cy="294.1" r="2.1"/>
<circle cx="894.4" cy="455.1" r="1.5"/>
<circle cx="877.3" cy="161.8" r="2.2"/>
<circle cx="853.5" cy="261.9" r="1.6"/>
<circle cx="1036.1" cy="300.3" r="2.1"/>
<circle cx="993.7" cy="466.7" r="1.4"/>
<circle cx="961.8" cy="365.2" r="1.4"/>
<circle cx="1032.4" cy="226.4" r="1.6"/>
<circle cx="794.2" cy="380.2" r="1.8"/>
<circle cx="977.5" cy="137.9" r="1.4"/>
<circle cx="984.5" cy="353.9" r="2.2"/>
<circle cx="851.7" cy="211.2" r="2.1"/>
<circle cx="892.9" cy="209.4" r="1.8"/>
<circle cx="813.6" cy="193.9" r="1.5"/>
<circle cx="1055.4" cy="208.3" r="1.8"/>
<circle cx="921.5" cy="359.8" r="1.6"/>
<circle cx="856.9" cy="133.6" r="1.7"/>
<circle cx="1079.5" cy="150.9" r="1.5"/>
<circle cx="1082.0" cy="171.4" r="1.5"/>
<circle cx="971.3" cy="450.6" r="1.6"/>
<circle cx="773.1" cy="344.4" r="1.5"/>
<circle cx="1030.0" cy="219.7" r="1.6"/>
<circle cx="765.3" cy="231.3" r="1.7"/>
<circle cx="852.6" cy="366.7" r="1.8"/>
<circle cx="835.9" cy="328.3" r="1.4"/>
<circle cx="833.6" cy="344.1" r="1.7"/>
<circle cx="813.8" cy="378.4" r="3.4"/>
<circle cx="1031.4" cy="366.7" r="1.5"/>
<circle cx="996.6" cy="98.5" r="1.8"/>
<circle cx="820.0" cy="376.7" r="1.7"/>
<circle cx="1074.1" cy="458.4" r="1.9"/>
<circle cx="1054.4" cy="123.7" r="1.6"/>
<circle cx="743.9" cy="262.6" r="1.9"/>
<circle cx="1032.3" cy="310.8" r="1.6"/>
<circle cx="943.6" cy="436.5" r="2.7"/>
<circle cx="998.2" cy="322.2" r="1.8"/>
<circle cx="865.4" cy="456.3" r="1.6"/>
<circle cx="1178.7" cy="321.8" r="1.6"/>
<circle cx="924.0" cy="394.6" r="1.8"/>
<circle cx="987.8" cy="402.1" r="2.2"/>
<circle cx="1071.2" cy="194.0" r="1.4"/>
<circle cx="999.5" cy="483.2" r="1.6"/>
<circle cx="997.1" cy="444.5" r="1.4"/>
<circle cx="785.1" cy="404.3" r="2.3"/>
<circle cx="1089.3" cy="187.1" r="1.9"/>
<circle cx="743.5" cy="240.9" r="1.7"/>
<circle cx="764.4" cy="354.8" r="1.7"/>
<circle cx="797.7" cy="449.9" r="2.0"/>
<circle cx="990.5" cy="110.6" r="1.4"/>
<circle cx="1073.9" cy="448.0" r="2.7"/>
<circle cx="802.7" cy="247.1" r="2.1"/>
<circle cx="1025.9" cy="390.6" r="1.5"/>
<circle cx="809.9" cy="164.0" r="1.4"/>
<circle cx="958.4" cy="358.4" r="2.5"/>
<circle cx="1157.1" cy="227.7" r="2.3"/>
<circle cx="825.1" cy="215.0" r="1.4"/>
<circle cx="1005.8" cy="517.5" r="1.7"/>
<circle cx="848.4" cy="220.7" r="2.5"/>
<circle cx="896.2" cy="191.6" r="1.6"/>
<circle cx="953.7" cy="205.9" r="1.4"/>
<circle cx="1124.8" cy="421.0" r="1.7"/>
<circle cx="931.5" cy="425.0" r="1.5"/>
<circle cx="784.1" cy="174.5" r="1.7"/>
<circle cx="1022.6" cy="229.3" r="1.4"/>
<circle cx="791.9" cy="288.6" r="2.0"/>
<circle cx="768.3" cy="189.6" r="1.7"/>
<circle cx="1107.4" cy="412.0" r="2.1"/>
<circle cx="1138.5" cy="213.5" r="2.1"/>
<circle cx="833.7" cy="355.9" r="1.7"/>
<circle cx="870.9" cy="415.9" r="2.3"/>
<circle cx="809.5" cy="420.7" r="1.4"/>
<circle cx="988.8" cy="465.9" r="1.4"/>
<circle cx="1037.0" cy="448.9" r="2.0"/>
<circle cx="1012.2" cy="257.8" r="2.0"/>
<circle cx="786.1" cy="299.6" r="1.6"/>
<circle cx="1043.3" cy="468.0" r="1.7"/>
<circle cx="1071.3" cy="269.9" r="1.4"/>
<circle cx="1095.8" cy="311.9" r="1.5"/>
<circle cx="924.8" cy="315.0" r="2.6"/>
<circle cx="1120.9" cy="390.4" r="1.4"/>
<circle cx="878.1" cy="288.9" r="2.3"/>
<circle cx="967.0" cy="155.3" r="1.5"/>
<circle cx="938.2" cy="350.9" r="1.7"/>
<circle cx="768.9" cy="320.5" r="3.1"/>
<circle cx="918.8" cy="397.9" r="1.7"/>
<circle cx="1060.1" cy="264.1" r="1.6"/>
<circle cx="972.8" cy="242.4" r="1.5"/>
<circle cx="1142.1" cy="247.0" r="1.9"/>
<circle cx="918.9" cy="453.6" r="1.6"/>
<circle cx="1018.7" cy="455.9" r="1.7"/>
<circle cx="1098.4" cy="342.0" r="2.4"/>
<circle cx="923.1" cy="400.5" r="1.5"/>
<circle cx="918.8" cy="302.1" r="1.5"/>
<circle cx="991.7" cy="215.9" r="2.5"/>
<circle cx="951.5" cy="484.4" r="1.5"/>
<circle cx="971.8" cy="159.3" r="2.3"/>
<circle cx="932.8" cy="358.9" r="2.3"/>
<circle cx="1098.9" cy="213.2" r="1.7"/>
<circle cx="967.9" cy="318.7" r="1.4"/>
<circle cx="1013.9" cy="123.1" r="1.7"/>
<circle cx="881.1" cy="380.7" r="1.5"/>
<circle cx="939.8" cy="234.4" r="1.5"/>
<circle cx="1065.4" cy="355.2" r="2.2"/>
<circle cx="1059.6" cy="158.1" r="2.7"/>
<circle cx="968.6" cy="259.8" r="2.4"/>
<circle cx="871.7" cy="466.3" r="1.6"/>
<circle cx="990.3" cy="392.1" r="1.4"/>
<circle cx="1100.7" cy="166.7" r="1.6"/>
<circle cx="864.4" cy="250.2" r="1.4"/>
<circle cx="756.9" cy="401.7" r="1.8"/>
<circle cx="991.7" cy="375.5" r="2.3"/>
<circle cx="975.3" cy="458.9" r="1.8"/>
<circle cx="815.6" cy="369.8" r="1.5"/>
<circle cx="814.1" cy="189.1" r="1.5"/>
<circle cx="836.6" cy="124.8" r="1.6"/>
<circle cx="777.8" cy="436.7" r="2.3"/>
<circle cx="871.7" cy="435.3" r="1.7"/>
<circle cx="984.4" cy="119.4" r="1.4"/>
<circle cx="854.7" cy="450.4" r="2.2"/>
<circle cx="1150.2" cy="321.6" r="1.6"/>
<circle cx="1086.2" cy="427.2" r="1.8"/>
<circle cx="866.2" cy="374.8" r="1.4"/>
<circle cx="1104.2" cy="151.0" r="1.4"/>
<circle cx="912.4" cy="94.7" r="1.8"/>
<circle cx="833.3" cy="459.5" r="1.6"/>
<circle cx="995.5" cy="192.6" r="1.8"/>
<circle cx="1078.5" cy="191.1" r="1.7"/>
<circle cx="829.4" cy="354.0" r="1.4"/>
<circle cx="876.6" cy="221.5" r="1.6"/>
<circle cx="842.3" cy="262.3" r="1.4"/>
<circle cx="884.6" cy="95.2" r="1.7"/>
<circle cx="971.6" cy="470.3" r="1.5"/>
<circle cx="850.9" cy="175.4" r="1.6"/>
<circle cx="1103.2" cy="335.0" r="3.5"/>
<circle cx="1059.3" cy="222.2" r="1.5"/>
<circle cx="1080.5" cy="399.3" r="1.7"/>
<circle cx="796.6" cy="303.9" r="1.5"/>
<circle cx="1144.8" cy="316.9" r="1.6"/>
<circle cx="902.6" cy="336.5" r="1.9"/>
<circle cx="1129.0" cy="268.0" r="1.5"/>
<circle cx="890.4" cy="502.2" r="1.7"/>
<circle cx="895.6" cy="248.2" r="1.5"/>
<circle cx="1139.4" cy="342.6" r="1.5"/>
<circle cx="991.8" cy="444.2" r="1.7"/>
<circle cx="978.0" cy="473.2" r="1.7"/>
<circle cx="806.9" cy="249.7" r="1.4"/>
<circle cx="972.5" cy="364.0" r="1.5"/>
<circle cx="780.0" cy="365.9" r="1.4"/>
<circle cx="1052.9" cy="163.5" r="1.6"/>
<circle cx="960.2" cy="151.0" r="1.7"/>
<circle cx="965.9" cy="323.9" r="1.8"/>
<circle cx="911.3" cy="344.4" r="1.9"/>
<circle cx="1000.4" cy="475.6" r="1.6"/>
<circle cx="909.5" cy="173.7" r="1.5"/>
<circle cx="813.2" cy="273.0" r="1.8"/>
<circle cx="851.6" cy="240.0" r="1.5"/>
<circle cx="1103.8" cy="258.2" r="1.6"/>
<circle cx="823.2" cy="279.8" r="1.4"/>
<circle cx="891.7" cy="343.2" r="1.5"/>
<circle cx="1176.5" cy="308.7" r="1.4"/>
<circle cx="928.8" cy="499.6" r="1.6"/>
<circle cx="1051.0" cy="108.9" r="1.5"/>
<circle cx="869.0" cy="473.8" r="2.1"/>
<circle cx="1073.1" cy="223.6" r="1.8"/>
<circle cx="1161.9" cy="321.8" r="1.4"/>
<circle cx="1004.0" cy="400.3" r="1.4"/>
<circle cx="898.3" cy="289.7" r="1.5"/>
<circle cx="1120.8" cy="176.0" r="1.8"/>
<circle cx="800.5" cy="153.2" r="2.0"/>
<circle cx="956.3" cy="368.2" r="1.4"/>
<circle cx="845.6" cy="181.5" r="1.5"/>
<circle cx="999.5" cy="385.7" r="1.6"/>
<circle cx="891.2" cy="496.6" r="1.7"/>
<circle cx="898.8" cy="116.5" r="2.2"/>
<circle cx="875.5" cy="478.9" r="1.5"/>
<circle cx="824.3" cy="305.3" r="1.5"/>
<circle cx="941.3" cy="415.1" r="1.4"/>
<circle cx="757.9" cy="266.6" r="1.5"/>
<circle cx="1168.7" cy="347.5" r="1.7"/>
<circle cx="903.7" cy="189.3" r="1.5"/>
<circle cx="777.5" cy="327.0" r="1.7"/>
<circle cx="1057.0" cy="386.4" r="1.4"/>
<circle cx="988.0" cy="277.0" r="1.7"/>
<circle cx="963.3" cy="516.6" r="1.5"/>
<circle cx="1049.2" cy="499.0" r="1.6"/>
<circle cx="1089.3" cy="192.0" r="1.5"/>
<circle cx="1057.1" cy="240.8" r="2.4"/>
<circle cx="834.1" cy="253.6" r="1.5"/>
<circle cx="907.3" cy="218.8" r="1.7"/>
<circle cx="886.9" cy="195.0" r="1.5"/>
<circle cx="1004.1" cy="254.4" r="1.4"/>
<circle cx="1097.9" cy="384.7" r="1.5"/>
<circle cx="953.2" cy="148.7" r="1.9"/>
<circle cx="1137.4" cy="331.4" r="1.8"/>
<circle cx="824.6" cy="260.2" r="1.5"/>
<circle cx="913.9" cy="423.2" r="2.2"/>
<circle cx="1132.3" cy="395.9" r="1.5"/>
<circle cx="1135.6" cy="424.3" r="1.4"/>
<circle cx="1015.8" cy="325.4" r="1.7"/>
<circle cx="764.5" cy="285.5" r="1.7"/>
<circle cx="1141.4" cy="217.6" r="1.6"/>
<circle cx="958.9" cy="385.8" r="2.4"/>
<circle cx="903.7" cy="452.3" r="2.5"/>
<circle cx="1044.5" cy="101.2" r="1.8"/>
<circle cx="1093.6" cy="164.5" r="1.7"/>
<circle cx="993.3" cy="326.7" r="1.5"/>
<circle cx="1039.6" cy="178.7" r="1.6"/>
<circle cx="778.9" cy="431.7" r="1.5"/>
<circle cx="1035.8" cy="162.8" r="1.5"/>
<circle cx="997.1" cy="469.1" r="1.5"/>
<circle cx="1164.6" cy="251.0" r="1.5"/>
<circle cx="791.5" cy="252.0" r="1.6"/>
<circle cx="1090.3" cy="238.5" r="1.5"/>
<circle cx="986.8" cy="291.7" r="1.8"/>
<circle cx="923.8" cy="289.5" r="1.9"/>
<circle cx="784.7" cy="168.5" r="2.1"/>
<circle cx="1161.4" cy="385.5" r="1.5"/>
<circle cx="1130.8" cy="303.7" r="1.4"/>
<circle cx="1007.5" cy="330.5" r="1.4"/>
<circle cx="996.6" cy="123.1" r="1.9"/>
<circle cx="995.3" cy="462.6" r="1.5"/>
<circle cx="987.3" cy="107.9" r="1.4"/>
<circle cx="786.2" cy="274.8" r="1.9"/>
<circle cx="807.8" cy="427.0" r="1.6"/>
<circle cx="1014.1" cy="332.5" r="1.7"/>
<circle cx="1069.9" cy="142.4" r="1.6"/>
<circle cx="919.4" cy="115.0" r="1.9"/>
<circle cx="1050.1" cy="326.3" r="2.0"/>
<circle cx="1059.0" cy="361.0" r="1.4"/>
<circle cx="920.3" cy="129.6" r="1.9"/>
<circle cx="1157.2" cy="208.6" r="1.5"/>
<circle cx="909.7" cy="353.4" r="1.4"/>
<circle cx="1134.8" cy="381.4" r="1.4"/>
<circle cx="792.5" cy="156.3" r="1.4"/>
<circle cx="1035.2" cy="473.2" r="2.8"/>
<circle cx="817.1" cy="478.5" r="2.6"/>
<circle cx="756.6" cy="222.5" r="2.4"/>
<circle cx="867.0" cy="436.3" r="1.8"/>
<circle cx="866.2" cy="129.1" r="1.5"/>
<circle cx="1078.8" cy="433.2" r="2.0"/>
<circle cx="1018.3" cy="254.3" r="1.5"/>
<circle cx="1153.5" cy="283.0" r="1.7"/>
<circle cx="864.1" cy="245.6" r="1.4"/>
<circle cx="932.8" cy="85.6" r="1.5"/>
<circle cx="878.5" cy="345.7" r="1.6"/>
<circle cx="1009.8" cy="335.4" r="1.8"/>
<circle cx="896.9" cy="395.7" r="1.7"/>
<circle cx="805.8" cy="292.7" r="1.7"/>
<circle cx="936.1" cy="445.5" r="1.4"/>
<circle cx="911.8" cy="87.9" r="1.7"/>
<circle cx="1131.5" cy="324.0" r="1.4"/>
<circle cx="869.6" cy="197.4" r="1.7"/>
<circle cx="1100.5" cy="301.7" r="1.5"/>
<circle cx="865.9" cy="113.7" r="1.8"/>
<circle cx="979.5" cy="241.4" r="1.4"/>
<circle cx="842.1" cy="116.1" r="1.7"/>
<circle cx="1143.0" cy="223.5" r="1.6"/>
<circle cx="1024.3" cy="301.8" r="1.9"/>
<circle cx="1136.7" cy="259.1" r="1.4"/>
<circle cx="1077.6" cy="422.6" r="1.5"/>
<circle cx="1161.2" cy="217.2" r="1.5"/>
<circle cx="1167.1" cy="270.5" r="1.4"/>
<circle cx="887.5" cy="253.3" r="1.5"/>
<circle cx="787.6" cy="280.9" r="1.6"/>
<circle cx="941.5" cy="193.1" r="1.6"/>
<circle cx="947.4" cy="313.9" r="1.5"/>
<circle cx="1029.7" cy="143.0" r="1.6"/>
<circle cx="976.8" cy="419.5" r="1.5"/>
<circle cx="856.4" cy="418.2" r="1.4"/>
<circle cx="1045.6" cy="399.3" r="2.1"/>
<circle cx="930.7" cy="236.4" r="1.9"/>
<circle cx="920.6" cy="284.8" r="1.5"/>
<circle cx="908.5" cy="193.3" r="1.4"/>
<circle cx="821.9" cy="237.3" r="1.8"/>
<circle cx="964.4" cy="422.4" r="1.8"/>
<circle cx="797.6" cy="422.8" r="1.9"/>
<circle cx="917.8" cy="228.7" r="1.7"/>
<circle cx="1120.1" cy="448.0" r="1.8"/>
<circle cx="880.8" cy="102.2" r="1.5"/>
<circle cx="1110.9" cy="465.0" r="1.5"/>
<circle cx="812.8" cy="414.5" r="1.8"/>
<circle cx="1147.0" cy="384.0" r="1.4"/>
<circle cx="1062.3" cy="117.7" r="1.6"/>
<circle cx="1029.1" cy="337.7" r="1.4"/>
<circle cx="1041.9" cy="361.7" r="1.6"/>
<circle cx="976.7" cy="179.9" r="2.3"/>
<circle cx="1007.6" cy="428.4" r="1.4"/>
<circle cx="755.5" cy="262.0" r="1.5"/>
<circle cx="843.5" cy="490.5" r="1.4"/>
<circle cx="1088.2" cy="485.9" r="1.5"/>
<circle cx="852.1" cy="190.9" r="1.7"/>
<circle cx="965.2" cy="173.0" r="1.6"/>
<circle cx="962.5" cy="166.0" r="2.2"/>
<circle cx="886.9" cy="383.0" r="1.5"/>
<circle cx="1017.6" cy="200.0" r="1.6"/>
<circle cx="1147.0" cy="281.8" r="1.4"/>
<circle cx="993.1" cy="300.1" r="1.6"/>
<circle cx="784.0" cy="329.8" r="1.6"/>
<circle cx="949.6" cy="209.3" r="1.4"/>
<circle cx="931.4" cy="492.9" r="1.8"/>
<circle cx="1179.4" cy="312.3" r="1.6"/>
<circle cx="809.5" cy="445.8" r="1.9"/>
<circle cx="1126.3" cy="361.6" r="2.2"/>
<circle cx="1082.8" cy="216.4" r="1.4"/>
<circle cx="735.0" cy="293.8" r="2.1"/>
<circle cx="924.3" cy="320.5" r="1.6"/>
<circle cx="818.6" cy="305.0" r="1.6"/>
<circle cx="1073.2" cy="323.2" r="1.8"/>
<circle cx="983.9" cy="173.1" r="1.7"/>
<circle cx="1050.2" cy="436.6" r="1.6"/>
<circle cx="967.8" cy="203.5" r="1.4"/>
<circle cx="946.4" cy="205.8" r="1.5"/>
<circle cx="845.0" cy="197.9" r="1.6"/>
<circle cx="900.3" cy="149.0" r="1.8"/>
<circle cx="893.3" cy="400.9" r="1.4"/>
<circle cx="888.3" cy="441.9" r="1.6"/>
<circle cx="822.2" cy="128.2" r="1.5"/>
<circle cx="1130.9" cy="187.6" r="1.8"/>
<circle cx="999.3" cy="272.6" r="1.4"/>
<circle cx="977.5" cy="91.1" r="1.6"/>
<circle cx="1038.6" cy="277.9" r="1.4"/>
<circle cx="877.8" cy="491.3" r="1.8"/>
<circle cx="955.3" cy="393.8" r="1.5"/>
<circle cx="956.0" cy="475.1" r="1.7"/>
<circle cx="1106.0" cy="286.3" r="1.8"/>
<circle cx="825.7" cy="140.5" r="1.7"/>
<circle cx="979.6" cy="501.7" r="1.5"/>
<circle cx="1070.8" cy="328.1" r="1.6"/>
<circle cx="1078.7" cy="459.0" r="1.4"/>
<circle cx="948.1" cy="301.4" r="2.3"/>
<circle cx="930.0" cy="320.0" r="1.8"/>
<circle cx="912.4" cy="498.7" r="1.4"/>
<circle cx="1063.7" cy="372.7" r="1.7"/>
<circle cx="819.0" cy="351.9" r="1.7"/>
<circle cx="996.7" cy="256.9" r="1.6"/>
<circle cx="929.7" cy="413.8" r="1.5"/>
<circle cx="827.8" cy="326.4" r="1.7"/>
<circle cx="801.5" cy="344.8" r="1.4"/>
<circle cx="811.1" cy="253.3" r="1.4"/>
<circle cx="1006.5" cy="193.9" r="1.4"/>
<circle cx="963.4" cy="507.1" r="1.7"/>
<circle cx="871.0" cy="426.1" r="1.8"/>
<circle cx="1003.8" cy="156.8" r="1.7"/>
<circle cx="918.1" cy="189.3" r="1.5"/>
<circle cx="1139.2" cy="254.8" r="1.6"/>
<circle cx="1082.5" cy="423.7" r="2.0"/>
<circle cx="959.7" cy="468.5" r="2.2"/>
<circle cx="801.1" cy="378.3" r="1.9"/>
<circle cx="1008.2" cy="209.1" r="1.6"/>
<circle cx="984.9" cy="139.8" r="1.7"/>
<circle cx="948.3" cy="83.0" r="1.4"/>
<circle cx="1034.9" cy="221.0" r="1.9"/>
<circle cx="968.2" cy="279.7" r="1.5"/>
<circle cx="1034.7" cy="187.9" r="1.4"/>
<circle cx="886.7" cy="308.5" r="1.5"/>
<circle cx="983.6" cy="520.9" r="1.4"/>
<circle cx="970.0" cy="97.3" r="1.4"/>
<circle cx="832.6" cy="432.1" r="1.4"/>
<circle cx="1002.9" cy="89.2" r="1.5"/>
<circle cx="950.5" cy="441.3" r="1.8"/>
<circle cx="743.6" cy="320.4" r="1.6"/>
<circle cx="868.6" cy="106.2" r="1.9"/>
<circle cx="1127.0" cy="331.7" r="1.4"/>
<circle cx="1012.8" cy="364.8" r="1.4"/>
<circle cx="1064.9" cy="247.7" r="1.4"/>
<circle cx="878.0" cy="264.7" r="1.5"/>
<circle cx="1157.7" cy="352.2" r="1.8"/>
<circle cx="882.1" cy="165.8" r="1.5"/>
<circle cx="1037.9" cy="110.0" r="1.7"/>
<circle cx="1030.9" cy="171.2" r="1.6"/>
<circle cx="939.8" cy="510.2" r="1.5"/>
<circle cx="869.2" cy="143.0" r="1.4"/>
<circle cx="788.0" cy="161.1" r="1.6"/>
<circle cx="813.2" cy="232.1" r="1.4"/>
<circle cx="928.9" cy="486.5" r="1.5"/>
<circle cx="987.5" cy="315.8" r="1.8"/>
<circle cx="1070.3" cy="300.6" r="1.8"/>
<circle cx="1152.8" cy="211.1" r="1.4"/>
<circle cx="1034.2" cy="486.5" r="1.4"/>
<circle cx="992.0" cy="124.2" r="1.6"/>
<circle cx="1061.6" cy="276.0" r="2.5"/>
<circle cx="1079.1" cy="195.9" r="1.6"/>
<circle cx="927.0" cy="121.4" r="1.5"/>
<circle cx="780.0" cy="206.7" r="1.6"/>
<circle cx="1071.2" cy="468.9" r="1.5"/>
<circle cx="1106.5" cy="220.4" r="1.5"/>
<circle cx="883.0" cy="316.7" r="1.8"/>
<circle cx="787.4" cy="343.6" r="1.6"/>
<circle cx="905.9" cy="115.1" r="1.7"/>
<circle cx="955.8" cy="295.3" r="1.5"/>
<circle cx="882.1" cy="211.2" r="1.9"/>
<circle cx="824.6" cy="418.1" r="1.4"/>
<circle cx="938.0" cy="104.0" r="1.7"/>
<circle cx="1001.8" cy="443.6" r="2.0"/>
<circle cx="945.7" cy="116.3" r="1.5"/>
<circle cx="890.3" cy="241.8" r="1.8"/>
<circle cx="1003.5" cy="463.7" r="1.9"/>
<circle cx="1048.5" cy="454.3" r="1.7"/>
<circle cx="1028.7" cy="103.3" r="1.8"/>
<circle cx="1034.1" cy="138.2" r="1.7"/>
<circle cx="911.5" cy="280.6" r="1.7"/>
<circle cx="859.3" cy="285.3" r="1.9"/>
<circle cx="944.8" cy="177.4" r="1.9"/>
<circle cx="1029.9" cy="356.6" r="1.6"/>
<circle cx="1014.5" cy="481.7" r="1.6"/>
<circle cx="780.1" cy="267.9" r="2.0"/>
<circle cx="1042.4" cy="248.0" r="1.4"/>
<circle cx="1175.0" cy="260.7" r="1.4"/>
<circle cx="1128.4" cy="446.4" r="1.4"/>
<circle cx="875.9" cy="150.7" r="1.5"/>
<circle cx="849.7" cy="236.0" r="1.6"/>
<circle cx="1015.8" cy="459.8" r="1.9"/>
<circle cx="1146.1" cy="366.0" r="2.3"/>
<circle cx="807.1" cy="431.5" r="1.5"/>
<circle cx="892.9" cy="412.7" r="1.4"/>
<circle cx="969.6" cy="306.8" r="1.4"/>
<circle cx="819.3" cy="466.6" r="1.6"/>
<circle cx="779.9" cy="406.1" r="1.9"/>
<circle cx="1176.6" cy="285.9" r="1.4"/>
<circle cx="982.5" cy="374.3" r="1.6"/>
<circle cx="1069.3" cy="332.3" r="1.4"/>
<circle cx="847.0" cy="114.2" r="1.4"/>
<circle cx="905.8" cy="226.3" r="1.5"/>
<circle cx="1164.3" cy="256.6" r="1.5"/>
<circle cx="863.5" cy="187.8" r="1.7"/>
<circle cx="779.7" cy="262.1" r="1.7"/>
<circle cx="1107.2" cy="398.2" r="1.5"/>
<circle cx="974.4" cy="263.7" r="1.6"/>
<circle cx="916.0" cy="457.5" r="1.7"/>
<circle cx="934.2" cy="322.5" r="1.4"/>
<circle cx="863.1" cy="472.9" r="1.5"/>
<circle cx="916.6" cy="219.5" r="1.4"/>
<circle cx="884.4" cy="231.8" r="1.4"/>
<circle cx="957.8" cy="207.2" r="1.5"/>
<circle cx="1039.8" cy="455.0" r="1.5"/>
<circle cx="1097.3" cy="471.8" r="1.6"/>
<circle cx="747.3" cy="266.8" r="1.8"/>
<circle cx="742.5" cy="365.7" r="1.7"/>
<circle cx="736.7" cy="271.5" r="1.9"/>
<circle cx="891.3" cy="471.2" r="1.6"/>
<circle cx="1038.3" cy="484.7" r="1.7"/>
<circle cx="1146.9" cy="307.2" r="1.7"/>
<circle cx="921.5" cy="439.0" r="2.0"/>
<circle cx="988.1" cy="267.5" r="1.4"/>
<circle cx="1134.8" cy="276.6" r="1.7"/>
<circle cx="1070.1" cy="440.7" r="1.6"/>
<circle cx="763.7" cy="399.3" r="1.5"/>
<circle cx="818.3" cy="418.2" r="1.8"/>
<circle cx="1030.0" cy="407.2" r="1.7"/>
<circle cx="856.6" cy="293.2" r="1.9"/>
<circle cx="1155.5" cy="237.3" r="1.4"/>
<circle cx="879.4" cy="294.0" r="1.4"/>
<circle cx="1054.6" cy="168.7" r="1.5"/>
<circle cx="861.6" cy="115.3" r="1.5"/>
<circle cx="966.7" cy="219.3" r="1.6"/>
<circle cx="751.3" cy="221.4" r="1.7"/>
<circle cx="1022.7" cy="378.6" r="1.5"/>
<circle cx="860.4" cy="223.6" r="1.8"/>
<circle cx="1075.6" cy="392.1" r="1.7"/>
<circle cx="858.8" cy="370.2" r="1.5"/>
<circle cx="1062.7" cy="230.9" r="1.7"/>
<circle cx="1001.2" cy="123.7" r="1.4"/>
<circle cx="1091.5" cy="482.4" r="1.9"/>
<circle cx="762.8" cy="275.1" r="1.4"/>
<circle cx="905.2" cy="484.6" r="1.6"/>
<circle cx="905.6" cy="176.6" r="1.7"/>
<circle cx="938.7" cy="455.8" r="1.4"/>
<circle cx="929.8" cy="454.8" r="1.4"/>
<circle cx="857.2" cy="187.8" r="1.6"/>
<circle cx="937.4" cy="476.4" r="2.1"/>
<circle cx="807.2" cy="406.8" r="1.4"/>
<circle cx="1164.0" cy="345.1" r="2.3"/>
<circle cx="1116.3" cy="424.5" r="1.9"/>
<circle cx="836.3" cy="198.4" r="1.6"/>
<circle cx="961.5" cy="102.3" r="1.6"/>
<circle cx="1009.5" cy="466.4" r="1.4"/>
<circle cx="1003.5" cy="382.6" r="1.7"/>
<circle cx="961.7" cy="196.5" r="1.5"/>
<circle cx="1102.3" cy="310.7" r="1.8"/>
<circle cx="965.9" cy="113.1" r="1.7"/>
<circle cx="968.1" cy="508.9" r="2.0"/>
<circle cx="1129.9" cy="183.0" r="1.4"/>
<circle cx="996.9" cy="430.7" r="1.4"/>
<circle cx="1076.3" cy="148.0" r="1.4"/>
<circle cx="1054.1" cy="317.2" r="1.4"/>
<circle cx="760.1" cy="344.6" r="1.4"/>
<circle cx="897.7" cy="180.8" r="1.5"/>
<circle cx="946.6" cy="511.8" r="1.4"/>
<circle cx="829.4" cy="228.7" r="1.4"/>
<circle cx="1094.4" cy="214.0" r="1.5"/>
<circle cx="920.9" cy="218.6" r="1.5"/>
<circle cx="876.3" cy="414.4" r="1.7"/>
<circle cx="930.9" cy="458.8" r="1.4"/>
<circle cx="934.5" cy="412.2" r="1.4"/>
<circle cx="1071.6" cy="123.1" r="1.4"/>
<circle cx="843.4" cy="283.8" r="1.6"/>
<circle cx="1008.9" cy="354.6" r="1.5"/>
<circle cx="868.9" cy="230.1" r="1.7"/>
<circle cx="995.6" cy="503.0" r="1.4"/>
<circle cx="1026.3" cy="284.6" r="1.5"/>
<circle cx="1028.9" cy="385.3" r="1.4"/>
<circle cx="1042.8" cy="107.0" r="1.7"/>
<circle cx="1072.8" cy="139.2" r="1.4"/>
<circle cx="1046.9" cy="292.1" r="1.4"/>
<circle cx="1161.0" cy="330.0" r="1.7"/>
<circle cx="835.1" cy="128.9" r="1.4"/>
<circle cx="843.0" cy="429.2" r="1.4"/>
<circle cx="790.4" cy="405.7" r="1.6"/>
<circle cx="773.8" cy="180.6" r="1.6"/>
<circle cx="1055.7" cy="397.4" r="1.4"/>
<circle cx="1065.6" cy="476.6" r="1.6"/>
<circle cx="1017.1" cy="214.1" r="1.4"/>
<circle cx="873.4" cy="172.8" r="1.6"/>
<circle cx="1094.0" cy="365.4" r="1.9"/>
<circle cx="904.2" cy="317.7" r="1.6"/>
<circle cx="1077.2" cy="256.2" r="1.5"/>
<circle cx="1026.4" cy="314.8" r="1.8"/>
<circle cx="843.9" cy="346.9" r="1.6"/>
<circle cx="960.9" cy="442.5" r="1.6"/>
<circle cx="1061.8" cy="177.9" r="1.6"/>
<circle cx="907.6" cy="508.0" r="1.6"/>
<circle cx="802.1" cy="277.4" r="1.8"/>
<circle cx="1111.0" cy="240.9" r="1.4"/>
<circle cx="1083.2" cy="257.4" r="1.9"/>
<circle cx="911.3" cy="445.1" r="1.4"/>
<circle cx="1077.6" cy="129.2" r="1.5"/>
<circle cx="1003.3" cy="317.6" r="2.1"/>
<circle cx="953.5" cy="192.6" r="1.4"/>
<circle cx="916.2" cy="439.0" r="1.6"/>
<circle cx="1136.2" cy="399.0" r="1.5"/>
<circle cx="1129.0" cy="272.9" r="1.6"/>
<circle cx="850.0" cy="495.8" r="1.8"/>
<circle cx="1036.7" cy="351.5" r="1.9"/>
<circle cx="873.4" cy="512.6" r="1.7"/>
<circle cx="1055.9" cy="213.8" r="1.9"/>
<circle cx="969.4" cy="289.3" r="1.8"/>
<circle cx="1069.7" cy="342.0" r="1.6"/>
<circle cx="1127.8" cy="316.0" r="1.5"/>
<circle cx="777.8" cy="298.2" r="1.5"/>
<circle cx="976.8" cy="267.5" r="1.6"/>
<circle cx="1109.7" cy="305.6" r="1.5"/>
<circle cx="975.5" cy="238.4" r="1.9"/>
<circle cx="1132.9" cy="239.1" r="1.8"/>
<circle cx="980.4" cy="170.2" r="1.5"/>
<circle cx="1017.7" cy="258.5" r="1.5"/>
<circle cx="948.3" cy="520.5" r="1.6"/>
<circle cx="1084.6" cy="209.2" r="1.5"/>
<circle cx="977.0" cy="204.1" r="1.6"/>
<circle cx="775.9" cy="401.7" r="1.6"/>
<circle cx="1005.4" cy="422.3" r="1.4"/>
<circle cx="925.1" cy="221.3" r="1.4"/>
<circle cx="988.8" cy="237.3" r="1.9"/>
<circle cx="965.5" cy="442.3" r="1.5"/>
<circle cx="865.5" cy="449.3" r="1.4"/>
<circle cx="1124.9" cy="282.4" r="1.5"/>
<circle cx="1000.5" cy="96.0" r="1.5"/>
<circle cx="1091.0" cy="391.9" r="1.4"/>
<circle cx="1046.2" cy="464.0" r="1.9"/>
<circle cx="913.6" cy="276.7" r="1.5"/>
<circle cx="997.4" cy="439.7" r="1.4"/>
<circle cx="1053.0" cy="138.5" r="2.2"/>
<circle cx="1043.0" cy="281.3" r="2.0"/>
<circle cx="954.2" cy="402.8" r="1.6"/>
<circle cx="788.8" cy="393.6" r="1.8"/>
<circle cx="1062.4" cy="111.2" r="1.6"/>
<circle cx="914.2" cy="391.8" r="1.5"/>
<circle cx="815.1" cy="239.5" r="1.4"/>
<circle cx="1077.6" cy="287.7" r="1.6"/>
<circle cx="847.3" cy="387.9" r="1.5"/>
<circle cx="795.7" cy="184.2" r="1.7"/>
<circle cx="776.4" cy="363.2" r="1.6"/>
<circle cx="1053.3" cy="117.5" r="1.8"/>
<circle cx="1011.6" cy="430.7" r="1.8"/>
<circle cx="794.8" cy="402.6" r="1.8"/>
<circle cx="1045.6" cy="313.4" r="1.4"/>
<circle cx="1060.2" cy="497.9" r="1.5"/>
<circle cx="1110.9" cy="287.4" r="1.4"/>
<circle cx="1155.7" cy="372.4" r="1.5"/>
<circle cx="1014.2" cy="91.8" r="1.5"/>
<circle cx="891.3" cy="506.8" r="1.7"/>
<circle cx="840.9" cy="380.2" r="1.7"/>
<circle cx="877.4" cy="314.6" r="1.5"/>
<circle cx="1022.2" cy="349.8" r="1.6"/>
</g>
<circle cx="956.5" cy="72" r="1.6" fill="#d6c24a"/>
<circle cx="949.5" cy="72.6" r="1" fill="#e2d27a"/>
<circle cx="963.5" cy="73" r="0.9" fill="#d6a070"/>
<rect x="718.2" y="52.5" width="476.8" height="492.9" fill="none" stroke="#222" stroke-width="1.7"/>
<line x1="731.6" y1="545.4" x2="731.6" y2="540.9" stroke="#222" stroke-width="1.53"/>
<line x1="731.6" y1="52.5" x2="731.6" y2="57" stroke="#222" stroke-width="1.53"/>
<line x1="759.8" y1="545.4" x2="759.8" y2="540.9" stroke="#222" stroke-width="1.53"/>
<line x1="759.8" y1="52.5" x2="759.8" y2="57" stroke="#222" stroke-width="1.53"/>
<line x1="787.9" y1="545.4" x2="787.9" y2="540.9" stroke="#222" stroke-width="1.53"/>
<line x1="787.9" y1="52.5" x2="787.9" y2="57" stroke="#222" stroke-width="1.53"/>
<line x1="816" y1="545.4" x2="816" y2="537.4" stroke="#222" stroke-width="1.53"/>
<line x1="816" y1="52.5" x2="816" y2="60.5" stroke="#222" stroke-width="1.53"/>
<line x1="844.1" y1="545.4" x2="844.1" y2="540.9" stroke="#222" stroke-width="1.53"/>
<line x1="844.1" y1="52.5" x2="844.1" y2="57" stroke="#222" stroke-width="1.53"/>
<line x1="872.2" y1="545.4" x2="872.2" y2="540.9" stroke="#222" stroke-width="1.53"/>
<line x1="872.2" y1="52.5" x2="872.2" y2="57" stroke="#222" stroke-width="1.53"/>
<line x1="900.4" y1="545.4" x2="900.4" y2="540.9" stroke="#222" stroke-width="1.53"/>
<line x1="900.4" y1="52.5" x2="900.4" y2="57" stroke="#222" stroke-width="1.53"/>
<line x1="928.5" y1="545.4" x2="928.5" y2="540.9" stroke="#222" stroke-width="1.53"/>
<line x1="928.5" y1="52.5" x2="928.5" y2="57" stroke="#222" stroke-width="1.53"/>
<line x1="956.6" y1="545.4" x2="956.6" y2="537.4" stroke="#222" stroke-width="1.53"/>
<line x1="956.6" y1="52.5" x2="956.6" y2="60.5" stroke="#222" stroke-width="1.53"/>
<line x1="984.7" y1="545.4" x2="984.7" y2="540.9" stroke="#222" stroke-width="1.53"/>
<line x1="984.7" y1="52.5" x2="984.7" y2="57" stroke="#222" stroke-width="1.53"/>
<line x1="1012.8" y1="545.4" x2="1012.8" y2="540.9" stroke="#222" stroke-width="1.53"/>
<line x1="1012.8" y1="52.5" x2="1012.8" y2="57" stroke="#222" stroke-width="1.53"/>
<line x1="1041" y1="545.4" x2="1041" y2="540.9" stroke="#222" stroke-width="1.53"/>
<line x1="1041" y1="52.5" x2="1041" y2="57" stroke="#222" stroke-width="1.53"/>
<line x1="1069.1" y1="545.4" x2="1069.1" y2="540.9" stroke="#222" stroke-width="1.53"/>
<line x1="1069.1" y1="52.5" x2="1069.1" y2="57" stroke="#222" stroke-width="1.53"/>
<line x1="1097.2" y1="545.4" x2="1097.2" y2="537.4" stroke="#222" stroke-width="1.53"/>
<line x1="1097.2" y1="52.5" x2="1097.2" y2="60.5" stroke="#222" stroke-width="1.53"/>
<line x1="1125.3" y1="545.4" x2="1125.3" y2="540.9" stroke="#222" stroke-width="1.53"/>
<line x1="1125.3" y1="52.5" x2="1125.3" y2="57" stroke="#222" stroke-width="1.53"/>
<line x1="1153.4" y1="545.4" x2="1153.4" y2="540.9" stroke="#222" stroke-width="1.53"/>
<line x1="1153.4" y1="52.5" x2="1153.4" y2="57" stroke="#222" stroke-width="1.53"/>
<line x1="1181.6" y1="545.4" x2="1181.6" y2="540.9" stroke="#222" stroke-width="1.53"/>
<line x1="1181.6" y1="52.5" x2="1181.6" y2="57" stroke="#222" stroke-width="1.53"/>
<line x1="718.2" y1="531.7" x2="722.7" y2="531.7" stroke="#222" stroke-width="1.53"/>
<line x1="1195" y1="531.7" x2="1190.5" y2="531.7" stroke="#222" stroke-width="1.53"/>
<line x1="718.2" y1="503.4" x2="722.7" y2="503.4" stroke="#222" stroke-width="1.53"/>
<line x1="1195" y1="503.4" x2="1190.5" y2="503.4" stroke="#222" stroke-width="1.53"/>
<line x1="718.2" y1="475.2" x2="722.7" y2="475.2" stroke="#222" stroke-width="1.53"/>
<line x1="1195" y1="475.2" x2="1190.5" y2="475.2" stroke="#222" stroke-width="1.53"/>
<line x1="718.2" y1="447" x2="726.2" y2="447" stroke="#222" stroke-width="1.53"/>
<line x1="1195" y1="447" x2="1187" y2="447" stroke="#222" stroke-width="1.53"/>
<line x1="718.2" y1="418.8" x2="722.7" y2="418.8" stroke="#222" stroke-width="1.53"/>
<line x1="1195" y1="418.8" x2="1190.5" y2="418.8" stroke="#222" stroke-width="1.53"/>
<line x1="718.2" y1="390.6" x2="722.7" y2="390.6" stroke="#222" stroke-width="1.53"/>
<line x1="1195" y1="390.6" x2="1190.5" y2="390.6" stroke="#222" stroke-width="1.53"/>
<line x1="718.2" y1="362.3" x2="722.7" y2="362.3" stroke="#222" stroke-width="1.53"/>
<line x1="1195" y1="362.3" x2="1190.5" y2="362.3" stroke="#222" stroke-width="1.53"/>
<line x1="718.2" y1="334.1" x2="722.7" y2="334.1" stroke="#222" stroke-width="1.53"/>
<line x1="1195" y1="334.1" x2="1190.5" y2="334.1" stroke="#222" stroke-width="1.53"/>
<line x1="718.2" y1="305.9" x2="726.2" y2="305.9" stroke="#222" stroke-width="1.53"/>
<line x1="1195" y1="305.9" x2="1187" y2="305.9" stroke="#222" stroke-width="1.53"/>
<line x1="718.2" y1="277.7" x2="722.7" y2="277.7" stroke="#222" stroke-width="1.53"/>
<line x1="1195" y1="277.7" x2="1190.5" y2="277.7" stroke="#222" stroke-width="1.53"/>
<line x1="718.2" y1="249.5" x2="722.7" y2="249.5" stroke="#222" stroke-width="1.53"/>
<line x1="1195" y1="249.5" x2="1190.5" y2="249.5" stroke="#222" stroke-width="1.53"/>
<line x1="718.2" y1="221.2" x2="722.7" y2="221.2" stroke="#222" stroke-width="1.53"/>
<line x1="1195" y1="221.2" x2="1190.5" y2="221.2" stroke="#222" stroke-width="1.53"/>
<line x1="718.2" y1="193" x2="722.7" y2="193" stroke="#222" stroke-width="1.53"/>
<line x1="1195" y1="193" x2="1190.5" y2="193" stroke="#222" stroke-width="1.53"/>
<line x1="718.2" y1="164.8" x2="726.2" y2="164.8" stroke="#222" stroke-width="1.53"/>
<line x1="1195" y1="164.8" x2="1187" y2="164.8" stroke="#222" stroke-width="1.53"/>
<line x1="718.2" y1="136.6" x2="722.7" y2="136.6" stroke="#222" stroke-width="1.53"/>
<line x1="1195" y1="136.6" x2="1190.5" y2="136.6" stroke="#222" stroke-width="1.53"/>
<line x1="718.2" y1="108.4" x2="722.7" y2="108.4" stroke="#222" stroke-width="1.53"/>
<line x1="1195" y1="108.4" x2="1190.5" y2="108.4" stroke="#222" stroke-width="1.53"/>
<line x1="718.2" y1="80.1" x2="722.7" y2="80.1" stroke="#222" stroke-width="1.53"/>
<line x1="1195" y1="80.1" x2="1190.5" y2="80.1" stroke="#222" stroke-width="1.53"/>
<line x1="718.2" y1="51.9" x2="722.7" y2="51.9" stroke="#222" stroke-width="1.53"/>
<line x1="1195" y1="51.9" x2="1190.5" y2="51.9" stroke="#222" stroke-width="1.53"/>
<defs><pattern id="sp1" x="0" y="0" width="61" height="61" patternUnits="userSpaceOnUse" patternTransform="rotate(23)"><g fill="#9370db"><rect x="0.9" y="1.3" width="1.5" height="1.5"/><rect x="2.6" y="53.3" width="1.8" height="1.5"/><rect x="4.6" y="0.3" width="1.7" height="1.7"/><rect x="4.9" y="30.5" width="1.2" height="1.7"/><rect x="6.9" y="60.2" width="2.0" height="1.4"/><rect x="9.3" y="40.5" width="1.6" height="1.2"/><rect x="9.3" y="43.0" width="2.2" height="2.2"/><rect x="9.5" y="48.8" width="1.8" height="2.0"/><rect x="9.2" y="51.8" width="1.9" height="1.9"/><rect x="11.8" y="0.5" width="1.2" height="2.2"/><rect x="11.0" y="15.3" width="1.6" height="1.5"/><rect x="11.9" y="28.6" width="1.9" height="2.0"/><rect x="11.0" y="51.0" width="1.8" height="2.0"/><rect x="16.1" y="0.9" width="2.1" height="1.8"/><rect x="15.7" y="13.0" width="2.1" height="2.2"/><rect x="17.7" y="30.5" width="1.9" height="1.2"/><rect x="22.4" y="0.4" width="2.1" height="1.8"/><rect x="21.6" y="25.6" width="1.7" height="1.1"/><rect x="21.4" y="36.6" width="1.8" height="2.2"/><rect x="24.2" y="15.2" width="2.1" height="2.3"/><rect x="23.8" y="37.1" width="1.5" height="2.0"/><rect x="24.2" y="38.5" width="1.9" height="1.3"/><rect x="24.3" y="47.2" width="1.3" height="2.0"/><rect x="24.0" y="55.7" width="2.1" height="1.9"/><rect x="26.3" y="18.2" width="1.1" height="1.7"/><rect x="26.4" y="48.9" width="1.8" height="2.0"/><rect x="25.6" y="50.8" width="1.5" height="1.5"/><rect x="28.1" y="3.0" width="1.8" height="1.2"/><rect x="27.9" y="44.8" width="1.9" height="2.0"/><rect x="27.9" y="46.7" width="1.2" height="1.2"/><rect x="29.8" y="42.6" width="1.3" height="1.4"/><rect x="30.5" y="44.7" width="1.4" height="2.0"/><rect x="32.8" y="11.9" width="1.3" height="2.3"/><rect x="32.7" y="30.6" width="1.8" height="1.4"/><rect x="34.2" y="13.9" width="1.6" height="1.7"/><rect x="35.0" y="25.9" width="2.2" height="2.1"/><rect x="34.2" y="45.0" width="1.5" height="1.7"/><rect x="36.7" y="13.0" width="1.8" height="1.4"/><rect x="36.4" y="25.9" width="1.7" height="1.1"/><rect x="36.7" y="42.5" width="1.7" height="1.8"/><rect x="36.2" y="51.5" width="1.6" height="2.2"/><rect x="38.8" y="11.8" width="1.4" height="1.9"/><rect x="38.8" y="15.7" width="1.6" height="1.8"/><rect x="38.7" y="25.9" width="1.9" height="1.8"/><rect x="38.5" y="41.2" width="2.0" height="2.0"/><rect x="40.5" y="1.2" width="1.9" height="1.9"/><rect x="41.1" y="11.7" width="1.9" height="1.8"/><rect x="40.7" y="20.0" width="1.9" height="2.2"/><rect x="40.5" y="50.9" width="1.1" height="1.5"/><rect x="44.9" y="9.2" width="1.1" height="1.9"/><rect x="45.2" y="42.8" width="1.5" height="2.2"/><rect x="47.5" y="7.4" width="1.8" height="1.9"/><rect x="47.5" y="11.0" width="2.1" height="1.4"/><rect x="49.4" y="6.9" width="2.3" height="1.4"/><rect x="49.0" y="9.6" width="2.1" height="2.3"/><rect x="49.7" y="19.6" width="1.2" height="1.6"/><rect x="48.8" y="24.4" width="1.6" height="1.2"/><rect x="53.1" y="17.2" width="1.9" height="1.4"/><rect x="53.2" y="36.9" width="2.0" height="1.8"/><rect x="55.8" y="2.9" width="1.3" height="1.5"/><rect x="55.4" y="5.0" width="2.1" height="1.2"/><rect x="55.9" y="21.8" width="1.8" height="1.4"/><rect x="57.4" y="23.7" width="1.7" height="1.3"/><rect x="57.6" y="32.8" width="1.3" height="1.9"/><rect x="60.1" y="2.5" width="2.0" height="1.1"/><rect x="60.0" y="58.1" width="1.9" height="1.8"/></g><g fill="#ffd700"><rect x="0.8" y="3.0" width="2.0" height="1.4"/><rect x="3.5" y="11.1" width="1.3" height="1.5"/><rect x="3.2" y="13.3" width="1.5" height="1.3"/><rect x="2.7" y="39.0" width="2.0" height="1.6"/><rect x="2.7" y="40.5" width="1.3" height="1.3"/><rect x="2.7" y="49.2" width="1.5" height="1.1"/><rect x="7.5" y="57.8" width="2.1" height="1.7"/><rect x="9.7" y="45.0" width="1.2" height="1.4"/><rect x="9.1" y="59.4" width="1.2" height="1.6"/><rect x="13.6" y="40.9" width="1.5" height="1.9"/><rect x="16.1" y="30.8" width="1.5" height="2.3"/><rect x="17.2" y="9.0" width="2.1" height="1.8"/><rect x="19.7" y="4.9" width="1.3" height="1.7"/><rect x="20.0" y="22.3" width="1.3" height="1.4"/><rect x="19.7" y="30.1" width="1.7" height="1.6"/><rect x="21.5" y="4.6" width="2.1" height="1.3"/><rect x="21.6" y="11.6" width="2.1" height="1.8"/><rect x="22.4" y="34.7" width="2.2" height="1.8"/><rect x="21.6" y="43.3" width="1.4" height="1.5"/><rect x="23.8" y="10.9" width="1.9" height="1.4"/><rect x="23.5" y="26.6" width="1.1" height="1.5"/><rect x="23.8" y="30.3" width="2.0" height="1.4"/><rect x="23.9" y="50.9" width="1.2" height="1.1"/><rect x="26.3" y="3.1" width="1.7" height="1.3"/><rect x="25.7" y="45.4" width="1.6" height="1.2"/><rect x="27.9" y="0.8" width="1.9" height="1.4"/><rect x="30.0" y="47.3" width="1.9" height="2.1"/><rect x="30.1" y="57.8" width="1.6" height="1.8"/><rect x="32.2" y="53.6" width="2.3" height="2.1"/><rect x="35.0" y="28.3" width="1.5" height="1.5"/><rect x="37.0" y="7.0" width="1.4" height="2.0"/><rect x="36.3" y="10.9" width="1.6" height="1.8"/><rect x="36.5" y="15.6" width="1.9" height="1.5"/><rect x="36.8" y="19.4" width="1.5" height="1.5"/><rect x="36.5" y="24.4" width="2.2" height="1.5"/><rect x="36.4" y="47.1" width="2.0" height="1.8"/><rect x="38.4" y="30.5" width="1.2" height="1.4"/><rect x="38.3" y="57.8" width="1.2" height="2.0"/><rect x="40.7" y="7.4" width="2.2" height="2.0"/><rect x="45.3" y="5.1" width="2.1" height="1.2"/><rect x="45.0" y="11.3" width="1.7" height="2.2"/><rect x="45.2" y="30.2" width="1.3" height="1.2"/><rect x="47.6" y="3.3" width="2.2" height="1.5"/><rect x="46.8" y="30.2" width="1.2" height="2.2"/><rect x="49.1" y="59.9" width="1.8" height="1.6"/><rect x="50.9" y="2.8" width="1.1" height="2.1"/><rect x="51.5" y="46.8" width="1.5" height="1.6"/><rect x="55.8" y="47.2" width="2.1" height="1.4"/><rect x="55.1" y="49.6" width="1.3" height="1.7"/><rect x="55.6" y="53.9" width="1.2" height="1.5"/><rect x="57.4" y="27.8" width="1.2" height="1.8"/></g><g fill="#6b8e23"><rect x="0.9" y="5.2" width="1.7" height="1.5"/><rect x="2.7" y="17.8" width="2.0" height="1.7"/><rect x="5.2" y="23.9" width="2.2" height="1.7"/><rect x="5.0" y="32.7" width="1.9" height="2.3"/><rect x="4.5" y="42.7" width="1.6" height="1.8"/><rect x="7.1" y="7.3" width="1.5" height="2.1"/><rect x="9.0" y="28.2" width="2.3" height="1.7"/><rect x="11.0" y="9.3" width="1.6" height="1.6"/><rect x="11.6" y="36.1" width="2.3" height="1.5"/><rect x="11.4" y="49.3" width="2.1" height="2.1"/><rect x="13.5" y="2.9" width="2.3" height="1.3"/><rect x="13.1" y="11.0" width="1.7" height="1.3"/><rect x="13.9" y="26.3" width="2.3" height="1.8"/><rect x="16.0" y="28.4" width="1.8" height="1.2"/><rect x="15.7" y="57.5" width="1.6" height="1.6"/><rect x="15.8" y="59.8" width="1.7" height="1.7"/><rect x="17.8" y="1.1" width="2.0" height="2.2"/><rect x="17.6" y="17.4" width="2.2" height="2.3"/><rect x="18.0" y="23.7" width="1.5" height="2.1"/><rect x="17.4" y="26.4" width="2.3" height="1.2"/><rect x="17.5" y="34.1" width="2.2" height="1.6"/><rect x="17.2" y="44.8" width="1.5" height="1.8"/><rect x="18.1" y="53.9" width="1.2" height="1.9"/><rect x="19.3" y="13.5" width="1.6" height="2.1"/><rect x="20.1" y="17.2" width="2.3" height="1.4"/><rect x="19.8" y="34.5" width="1.2" height="1.1"/><rect x="24.0" y="6.8" width="1.3" height="2.0"/><rect x="23.7" y="24.0" width="1.5" height="1.1"/><rect x="23.8" y="32.3" width="2.0" height="2.1"/><rect x="23.7" y="48.9" width="1.9" height="2.3"/><rect x="24.3" y="57.5" width="2.1" height="1.5"/><rect x="26.6" y="22.0" width="1.2" height="1.3"/><rect x="26.0" y="29.9" width="2.1" height="1.6"/><rect x="26.1" y="36.4" width="1.5" height="2.3"/><rect x="28.3" y="36.9" width="1.3" height="1.8"/><rect x="28.1" y="40.8" width="1.5" height="1.3"/><rect x="32.2" y="9.3" width="1.2" height="1.2"/><rect x="32.4" y="13.7" width="2.2" height="2.2"/><rect x="32.6" y="20.1" width="1.6" height="1.7"/><rect x="36.8" y="17.4" width="1.6" height="1.4"/><rect x="36.7" y="30.6" width="1.5" height="2.0"/><rect x="36.8" y="34.9" width="2.1" height="2.1"/><rect x="36.5" y="44.6" width="2.1" height="2.1"/><rect x="39.1" y="7.2" width="1.5" height="1.2"/><rect x="38.9" y="43.1" width="1.4" height="1.7"/><rect x="38.7" y="60.0" width="2.2" height="2.3"/><rect x="42.5" y="6.8" width="1.4" height="1.1"/><rect x="42.8" y="13.8" width="1.7" height="1.4"/><rect x="42.4" y="15.6" width="1.2" height="1.5"/><rect x="44.6" y="18.2" width="1.6" height="1.7"/><rect x="45.4" y="57.2" width="1.2" height="1.5"/><rect x="47.4" y="18.0" width="2.0" height="2.2"/><rect x="46.8" y="21.7" width="1.4" height="1.8"/><rect x="47.0" y="59.4" width="2.2" height="2.1"/><rect x="51.5" y="7.4" width="1.4" height="1.8"/><rect x="50.9" y="20.1" width="1.4" height="1.9"/><rect x="51.8" y="36.6" width="1.5" height="1.6"/><rect x="51.4" y="39.1" width="1.4" height="1.9"/><rect x="51.2" y="55.1" width="1.8" height="1.4"/><rect x="53.4" y="5.5" width="1.6" height="1.3"/><rect x="53.5" y="15.6" width="1.8" height="1.5"/><rect x="53.6" y="40.4" width="1.2" height="1.9"/><rect x="53.6" y="48.8" width="1.3" height="1.7"/><rect x="53.9" y="55.8" width="2.3" height="1.2"/><rect x="55.1" y="7.0" width="1.7" height="1.8"/><rect x="55.3" y="16.0" width="2.1" height="1.2"/><rect x="55.4" y="28.5" width="1.5" height="1.4"/><rect x="55.4" y="36.7" width="1.7" height="1.8"/><rect x="55.6" y="40.8" width="2.2" height="2.0"/><rect x="55.5" y="57.4" width="2.3" height="1.9"/><rect x="57.5" y="4.7" width="1.2" height="2.2"/><rect x="58.0" y="8.8" width="1.3" height="1.7"/><rect x="57.7" y="16.0" width="1.9" height="1.4"/><rect x="57.7" y="36.8" width="1.9" height="2.1"/><rect x="58.1" y="53.0" width="1.6" height="1.2"/><rect x="59.3" y="4.6" width="1.7" height="1.3"/><rect x="59.7" y="15.2" width="1.2" height="1.7"/><rect x="59.7" y="19.8" width="2.0" height="1.3"/><rect x="59.2" y="51.7" width="2.1" height="1.8"/><rect x="59.8" y="53.5" width="1.3" height="1.2"/></g><g fill="#696969"><rect x="0.4" y="6.9" width="1.6" height="1.4"/><rect x="1.0" y="21.9" width="2.0" height="1.7"/><rect x="1.0" y="47.4" width="2.0" height="1.7"/><rect x="2.7" y="3.4" width="2.2" height="2.0"/><rect x="2.9" y="34.1" width="2.1" height="1.7"/><rect x="3.4" y="46.8" width="1.7" height="1.3"/><rect x="5.4" y="22.3" width="1.5" height="1.8"/><rect x="7.0" y="9.6" width="2.2" height="2.2"/><rect x="6.7" y="13.0" width="1.2" height="1.9"/><rect x="6.8" y="32.4" width="1.7" height="1.6"/><rect x="7.6" y="42.5" width="1.9" height="2.2"/><rect x="9.6" y="15.1" width="1.6" height="1.6"/><rect x="9.6" y="47.2" width="1.6" height="1.3"/><rect x="9.2" y="55.1" width="1.2" height="2.0"/><rect x="11.5" y="17.7" width="1.6" height="1.5"/><rect x="10.9" y="32.7" width="1.9" height="1.6"/><rect x="11.7" y="34.1" width="1.4" height="2.0"/><rect x="13.0" y="13.9" width="2.2" height="1.9"/><rect x="13.7" y="36.1" width="2.1" height="1.6"/><rect x="13.6" y="53.7" width="1.1" height="2.1"/><rect x="15.9" y="4.6" width="2.3" height="1.4"/><rect x="15.6" y="17.8" width="1.3" height="1.5"/><rect x="15.2" y="26.4" width="1.2" height="2.1"/><rect x="16.0" y="32.3" width="2.1" height="1.2"/><rect x="16.1" y="39.0" width="1.5" height="1.7"/><rect x="15.5" y="46.9" width="1.4" height="1.2"/><rect x="15.3" y="53.0" width="1.9" height="1.9"/><rect x="17.2" y="42.6" width="1.4" height="1.6"/><rect x="17.9" y="46.9" width="1.1" height="1.4"/><rect x="17.5" y="49.5" width="1.4" height="1.2"/><rect x="20.0" y="11.8" width="2.2" height="1.2"/><rect x="21.9" y="32.4" width="1.3" height="1.5"/><rect x="24.2" y="44.7" width="1.3" height="1.1"/><rect x="25.9" y="4.9" width="2.1" height="1.5"/><rect x="25.6" y="23.7" width="1.9" height="2.3"/><rect x="26.5" y="46.8" width="1.3" height="1.3"/><rect x="28.4" y="8.9" width="1.7" height="2.2"/><rect x="28.4" y="15.8" width="1.7" height="1.5"/><rect x="28.2" y="28.1" width="1.5" height="2.0"/><rect x="28.4" y="57.7" width="1.5" height="1.5"/><rect x="30.1" y="4.9" width="2.0" height="1.8"/><rect x="30.1" y="9.3" width="1.5" height="1.6"/><rect x="30.0" y="17.5" width="2.1" height="1.6"/><rect x="30.6" y="23.8" width="1.4" height="1.5"/><rect x="32.3" y="42.8" width="1.6" height="1.7"/><rect x="32.4" y="49.5" width="1.2" height="1.3"/><rect x="34.4" y="11.6" width="2.0" height="2.0"/><rect x="34.3" y="59.6" width="1.3" height="2.2"/><rect x="36.2" y="49.1" width="2.2" height="1.2"/><rect x="39.2" y="45.4" width="1.5" height="1.9"/><rect x="40.5" y="5.1" width="1.5" height="1.9"/><rect x="40.5" y="21.4" width="1.1" height="2.1"/><rect x="41.3" y="24.5" width="2.0" height="1.8"/><rect x="40.7" y="28.6" width="1.2" height="1.9"/><rect x="40.8" y="40.7" width="1.9" height="2.1"/><rect x="41.1" y="43.3" width="1.5" height="1.1"/><rect x="41.3" y="47.0" width="2.1" height="2.0"/><rect x="42.9" y="0.7" width="1.6" height="2.1"/><rect x="42.6" y="35.0" width="1.8" height="1.3"/><rect x="43.4" y="44.6" width="1.4" height="1.4"/><rect x="43.0" y="53.1" width="2.2" height="2.3"/><rect x="45.1" y="13.9" width="1.2" height="2.0"/><rect x="44.7" y="32.5" width="1.8" height="2.2"/><rect x="47.2" y="20.2" width="1.4" height="1.3"/><rect x="47.3" y="44.8" width="1.7" height="1.2"/><rect x="47.3" y="46.8" width="1.3" height="1.3"/><rect x="47.3" y="49.2" width="1.9" height="2.1"/><rect x="49.3" y="15.5" width="2.2" height="1.7"/><rect x="49.3" y="49.7" width="1.9" height="1.2"/><rect x="50.9" y="11.3" width="1.4" height="2.0"/><rect x="50.9" y="23.5" width="1.4" height="1.2"/><rect x="51.7" y="32.0" width="2.2" height="1.8"/><rect x="51.8" y="51.5" width="1.8" height="1.9"/><rect x="53.0" y="13.8" width="1.8" height="1.8"/><rect x="53.7" y="21.9" width="1.8" height="2.0"/><rect x="53.8" y="38.6" width="1.8" height="1.9"/><rect x="56.0" y="17.4" width="1.7" height="1.4"/><rect x="55.5" y="23.9" width="1.7" height="2.1"/><rect x="57.8" y="3.0" width="1.4" height="1.5"/><rect x="57.5" y="20.2" width="1.8" height="2.0"/><rect x="57.2" y="58.1" width="2.2" height="1.9"/><rect x="59.4" y="13.5" width="1.6" height="2.0"/><rect x="59.4" y="23.8" width="1.2" height="1.4"/></g><g fill="#c9bdf0"><rect x="1.2" y="9.5" width="1.3" height="1.3"/><rect x="0.6" y="17.2" width="1.3" height="1.4"/><rect x="7.1" y="28.3" width="2.0" height="2.0"/><rect x="7.5" y="30.8" width="1.8" height="2.2"/><rect x="10.9" y="2.6" width="1.7" height="1.8"/><rect x="11.0" y="11.4" width="1.4" height="2.0"/><rect x="11.7" y="24.4" width="1.6" height="1.6"/><rect x="11.2" y="26.5" width="2.3" height="2.0"/><rect x="13.4" y="55.1" width="1.4" height="1.9"/><rect x="15.3" y="22.1" width="1.4" height="1.5"/><rect x="15.5" y="49.5" width="1.7" height="1.7"/><rect x="19.5" y="59.7" width="1.1" height="1.3"/><rect x="21.5" y="8.9" width="1.6" height="1.2"/><rect x="21.4" y="49.6" width="2.0" height="1.2"/><rect x="24.4" y="0.6" width="1.8" height="2.2"/><rect x="26.4" y="9.6" width="1.8" height="1.8"/><rect x="25.7" y="11.6" width="1.9" height="2.3"/><rect x="26.6" y="53.9" width="1.4" height="1.1"/><rect x="25.9" y="55.7" width="1.7" height="1.3"/><rect x="27.7" y="32.6" width="2.1" height="1.1"/><rect x="30.7" y="7.5" width="2.3" height="1.6"/><rect x="34.2" y="5.5" width="2.2" height="1.7"/><rect x="37.1" y="0.7" width="1.7" height="1.2"/><rect x="36.8" y="36.8" width="2.0" height="1.9"/><rect x="38.9" y="8.9" width="2.2" height="1.2"/><rect x="38.8" y="36.7" width="1.4" height="1.2"/><rect x="42.8" y="55.7" width="2.2" height="1.4"/><rect x="44.7" y="6.7" width="2.1" height="1.7"/><rect x="45.0" y="49.3" width="1.2" height="1.9"/><rect x="47.5" y="34.0" width="2.2" height="1.6"/><rect x="47.4" y="57.5" width="1.9" height="2.1"/><rect x="49.4" y="45.0" width="1.8" height="1.3"/><rect x="50.9" y="4.7" width="1.3" height="1.1"/><rect x="51.2" y="17.7" width="1.5" height="2.2"/><rect x="50.8" y="42.5" width="2.0" height="1.4"/><rect x="50.8" y="48.8" width="1.8" height="1.7"/><rect x="52.9" y="57.9" width="1.1" height="2.3"/><rect x="55.4" y="34.6" width="1.6" height="1.6"/><rect x="55.1" y="59.5" width="1.8" height="2.2"/></g><g fill="#a0522d"><rect x="1.3" y="11.8" width="1.7" height="2.0"/><rect x="0.9" y="15.1" width="1.7" height="1.4"/><rect x="0.6" y="32.1" width="1.6" height="2.3"/><rect x="3.4" y="36.3" width="2.2" height="2.3"/><rect x="3.3" y="45.1" width="2.1" height="1.7"/><rect x="2.6" y="51.2" width="1.8" height="1.5"/><rect x="5.6" y="8.8" width="1.7" height="2.3"/><rect x="5.3" y="13.8" width="1.8" height="1.3"/><rect x="5.6" y="28.6" width="1.8" height="1.9"/><rect x="7.6" y="2.7" width="2.1" height="1.5"/><rect x="7.1" y="4.8" width="2.2" height="1.1"/><rect x="9.6" y="4.9" width="1.8" height="1.4"/><rect x="8.9" y="17.5" width="1.7" height="2.3"/><rect x="9.5" y="30.4" width="2.0" height="1.2"/><rect x="9.6" y="32.5" width="1.8" height="1.4"/><rect x="11.6" y="44.7" width="1.6" height="2.3"/><rect x="10.9" y="46.6" width="2.2" height="1.2"/><rect x="13.7" y="0.7" width="1.9" height="1.8"/><rect x="13.4" y="38.2" width="1.5" height="1.7"/><rect x="13.9" y="43.1" width="1.5" height="2.1"/><rect x="13.9" y="59.8" width="1.7" height="1.5"/><rect x="15.8" y="6.7" width="1.8" height="1.3"/><rect x="15.1" y="23.7" width="2.0" height="1.2"/><rect x="16.0" y="36.8" width="1.4" height="1.9"/><rect x="15.2" y="45.0" width="1.1" height="1.5"/><rect x="17.4" y="3.4" width="1.1" height="1.5"/><rect x="17.3" y="22.2" width="2.3" height="1.8"/><rect x="17.9" y="40.6" width="1.7" height="2.2"/><rect x="18.0" y="57.4" width="2.1" height="2.0"/><rect x="19.8" y="16.1" width="2.0" height="1.3"/><rect x="20.1" y="38.9" width="1.8" height="2.2"/><rect x="19.8" y="51.5" width="1.7" height="1.7"/><rect x="20.3" y="57.5" width="2.0" height="1.2"/><rect x="22.0" y="7.6" width="1.1" height="1.1"/><rect x="21.9" y="18.0" width="1.9" height="1.3"/><rect x="21.6" y="20.2" width="1.7" height="1.6"/><rect x="21.9" y="24.5" width="1.8" height="1.7"/><rect x="23.9" y="18.2" width="1.5" height="1.9"/><rect x="23.5" y="21.7" width="2.1" height="1.3"/><rect x="23.7" y="28.3" width="2.3" height="1.9"/><rect x="26.3" y="1.3" width="1.1" height="1.3"/><rect x="26.3" y="20.1" width="1.8" height="1.7"/><rect x="28.6" y="53.3" width="2.1" height="1.7"/><rect x="30.6" y="0.4" width="2.3" height="1.8"/><rect x="29.9" y="38.9" width="2.2" height="1.5"/><rect x="32.0" y="40.3" width="2.0" height="1.8"/><rect x="32.7" y="44.6" width="1.7" height="1.4"/><rect x="32.0" y="51.1" width="1.7" height="1.8"/><rect x="34.9" y="38.6" width="2.0" height="2.0"/><rect x="34.3" y="52.9" width="2.1" height="1.2"/><rect x="36.2" y="53.3" width="1.8" height="1.3"/><rect x="36.5" y="59.6" width="2.0" height="2.2"/><rect x="38.4" y="34.5" width="1.4" height="2.0"/><rect x="38.6" y="49.0" width="2.3" height="2.2"/><rect x="41.2" y="18.0" width="1.4" height="1.4"/><rect x="40.3" y="57.7" width="1.9" height="1.2"/><rect x="45.2" y="24.5" width="1.1" height="2.3"/><rect x="45.4" y="41.0" width="1.1" height="1.7"/><rect x="45.5" y="51.0" width="1.9" height="2.1"/><rect x="49.7" y="13.3" width="1.8" height="1.2"/><rect x="49.6" y="55.7" width="1.6" height="2.1"/><rect x="51.7" y="13.9" width="2.1" height="1.9"/><rect x="51.2" y="27.7" width="1.5" height="2.2"/><rect x="53.9" y="53.6" width="2.0" height="1.3"/><rect x="55.6" y="20.1" width="1.4" height="1.6"/><rect x="55.2" y="32.2" width="2.1" height="1.4"/><rect x="57.4" y="30.1" width="1.4" height="2.0"/><rect x="57.9" y="44.7" width="1.8" height="1.4"/><rect x="59.8" y="10.9" width="1.8" height="1.6"/><rect x="59.7" y="17.7" width="1.5" height="2.2"/><rect x="60.1" y="55.0" width="1.7" height="1.8"/></g><g fill="#5f9ea0"><rect x="1.0" y="13.1" width="1.4" height="1.9"/><rect x="0.8" y="20.1" width="1.5" height="2.0"/><rect x="0.4" y="34.8" width="1.5" height="2.2"/><rect x="0.4" y="53.2" width="1.2" height="2.2"/><rect x="2.6" y="28.4" width="1.8" height="1.5"/><rect x="3.1" y="59.8" width="2.2" height="1.8"/><rect x="5.5" y="4.5" width="2.2" height="1.4"/><rect x="5.3" y="11.8" width="1.3" height="2.0"/><rect x="5.2" y="25.6" width="1.1" height="1.7"/><rect x="5.3" y="34.0" width="1.6" height="1.2"/><rect x="5.0" y="49.6" width="2.1" height="1.7"/><rect x="5.2" y="51.0" width="1.3" height="1.4"/><rect x="7.5" y="19.3" width="1.3" height="1.9"/><rect x="6.6" y="34.5" width="1.1" height="1.3"/><rect x="7.4" y="40.7" width="1.4" height="1.3"/><rect x="6.8" y="47.1" width="2.2" height="2.2"/><rect x="7.6" y="49.1" width="2.2" height="1.8"/><rect x="7.3" y="55.2" width="1.7" height="1.7"/><rect x="8.8" y="11.3" width="1.2" height="1.2"/><rect x="9.5" y="13.4" width="1.7" height="2.2"/><rect x="11.6" y="4.9" width="2.3" height="1.2"/><rect x="11.5" y="6.7" width="1.4" height="2.1"/><rect x="11.1" y="30.5" width="2.0" height="2.2"/><rect x="13.8" y="17.8" width="2.1" height="1.6"/><rect x="15.2" y="40.9" width="1.8" height="1.5"/><rect x="15.3" y="42.4" width="1.4" height="1.5"/><rect x="16.1" y="51.8" width="2.2" height="2.0"/><rect x="17.8" y="10.9" width="1.3" height="2.1"/><rect x="20.1" y="19.3" width="2.2" height="1.9"/><rect x="19.9" y="23.6" width="2.1" height="1.9"/><rect x="20.1" y="28.2" width="2.0" height="1.7"/><rect x="21.5" y="15.8" width="1.3" height="1.2"/><rect x="21.5" y="40.4" width="1.9" height="2.2"/><rect x="21.9" y="57.6" width="1.8" height="2.3"/><rect x="23.9" y="13.7" width="1.8" height="1.3"/><rect x="25.9" y="15.6" width="2.0" height="1.9"/><rect x="29.8" y="11.8" width="1.9" height="1.5"/><rect x="30.3" y="13.9" width="2.1" height="2.1"/><rect x="30.4" y="30.0" width="1.6" height="1.2"/><rect x="30.2" y="49.4" width="1.3" height="1.2"/><rect x="30.8" y="59.7" width="1.1" height="1.6"/><rect x="32.4" y="0.4" width="2.3" height="1.5"/><rect x="32.1" y="55.6" width="1.3" height="2.1"/><rect x="34.4" y="15.4" width="1.6" height="1.9"/><rect x="34.6" y="23.7" width="1.1" height="1.2"/><rect x="34.4" y="30.4" width="1.3" height="1.8"/><rect x="34.2" y="55.4" width="1.6" height="2.1"/><rect x="36.8" y="3.4" width="1.5" height="1.6"/><rect x="36.6" y="8.8" width="1.4" height="1.2"/><rect x="36.7" y="57.8" width="2.2" height="1.1"/><rect x="39.2" y="27.8" width="2.3" height="1.5"/><rect x="41.0" y="26.0" width="1.5" height="1.2"/><rect x="40.8" y="55.1" width="2.3" height="1.6"/><rect x="40.9" y="59.5" width="1.6" height="1.2"/><rect x="42.4" y="2.5" width="2.3" height="1.3"/><rect x="43.4" y="8.9" width="2.2" height="1.4"/><rect x="43.0" y="17.4" width="2.1" height="2.0"/><rect x="43.1" y="49.0" width="1.8" height="1.5"/><rect x="45.5" y="19.5" width="1.4" height="2.2"/><rect x="45.2" y="21.5" width="2.0" height="1.5"/><rect x="45.0" y="38.8" width="1.4" height="1.4"/><rect x="44.7" y="45.1" width="2.1" height="1.7"/><rect x="49.2" y="3.0" width="1.2" height="2.0"/><rect x="49.2" y="46.9" width="2.1" height="1.8"/><rect x="51.3" y="21.5" width="1.2" height="1.1"/><rect x="53.3" y="9.2" width="1.3" height="1.3"/><rect x="53.3" y="24.5" width="1.5" height="1.6"/><rect x="53.0" y="51.5" width="1.3" height="2.2"/><rect x="57.7" y="59.3" width="1.7" height="1.5"/></g><g fill="#ff0000"><rect x="0.8" y="23.7" width="2.0" height="1.4"/><rect x="0.4" y="55.8" width="1.3" height="2.2"/><rect x="3.3" y="9.4" width="1.4" height="2.2"/><rect x="2.5" y="15.1" width="1.7" height="1.7"/><rect x="3.0" y="22.3" width="1.5" height="2.0"/><rect x="7.4" y="17.7" width="2.3" height="2.1"/><rect x="6.8" y="25.6" width="2.0" height="1.2"/><rect x="8.9" y="19.4" width="1.6" height="1.9"/><rect x="9.6" y="58.1" width="1.2" height="1.7"/><rect x="13.6" y="19.8" width="1.8" height="1.7"/><rect x="13.7" y="34.8" width="1.5" height="1.9"/><rect x="13.3" y="47.6" width="1.2" height="2.1"/><rect x="16.1" y="34.2" width="1.1" height="1.9"/><rect x="22.2" y="38.9" width="1.6" height="1.9"/><rect x="23.9" y="59.2" width="1.9" height="1.1"/><rect x="25.7" y="7.0" width="1.9" height="2.0"/><rect x="26.0" y="57.7" width="2.2" height="2.0"/><rect x="28.1" y="24.0" width="2.2" height="2.2"/><rect x="30.8" y="2.4" width="1.9" height="1.8"/><rect x="29.9" y="26.5" width="2.1" height="2.2"/><rect x="29.9" y="34.7" width="1.9" height="2.2"/><rect x="30.7" y="37.0" width="1.4" height="2.0"/><rect x="30.0" y="53.2" width="2.1" height="1.8"/><rect x="32.2" y="7.4" width="2.1" height="1.2"/><rect x="32.7" y="25.7" width="1.2" height="1.3"/><rect x="32.6" y="36.7" width="2.2" height="1.2"/><rect x="34.0" y="2.9" width="1.3" height="1.4"/><rect x="34.5" y="7.4" width="1.5" height="1.4"/><rect x="34.7" y="21.6" width="1.2" height="1.6"/><rect x="34.9" y="36.6" width="1.1" height="2.0"/><rect x="34.2" y="40.6" width="1.3" height="1.5"/><rect x="36.4" y="22.1" width="1.1" height="1.7"/><rect x="36.1" y="27.7" width="2.0" height="1.8"/><rect x="38.8" y="13.9" width="1.5" height="1.6"/><rect x="38.8" y="47.1" width="2.3" height="1.4"/><rect x="40.7" y="15.8" width="1.1" height="1.6"/><rect x="45.4" y="0.7" width="1.2" height="2.2"/><rect x="44.8" y="3.2" width="2.0" height="1.7"/><rect x="45.0" y="46.6" width="1.1" height="1.8"/><rect x="47.1" y="5.6" width="1.5" height="1.3"/><rect x="47.4" y="9.2" width="1.7" height="1.2"/><rect x="46.6" y="23.8" width="1.9" height="1.6"/><rect x="46.6" y="42.7" width="1.2" height="2.1"/><rect x="47.0" y="53.1" width="1.7" height="1.1"/><rect x="49.1" y="17.4" width="1.8" height="1.2"/><rect x="49.3" y="32.0" width="1.7" height="1.2"/><rect x="49.1" y="36.5" width="1.2" height="1.6"/><rect x="49.4" y="38.5" width="2.1" height="1.8"/><rect x="50.9" y="58.1" width="1.6" height="2.2"/><rect x="53.3" y="11.3" width="1.7" height="1.3"/><rect x="53.4" y="32.4" width="1.1" height="1.8"/><rect x="55.7" y="44.7" width="2.3" height="1.1"/><rect x="57.7" y="13.1" width="1.4" height="1.3"/><rect x="57.7" y="25.8" width="1.9" height="1.2"/><rect x="57.4" y="40.3" width="1.3" height="1.7"/><rect x="60.0" y="26.5" width="1.1" height="2.2"/></g><g fill="#b0d4d4"><rect x="1.2" y="36.5" width="1.6" height="1.3"/><rect x="0.9" y="57.6" width="2.2" height="1.5"/><rect x="7.6" y="51.6" width="2.0" height="1.5"/><rect x="15.5" y="11.0" width="1.5" height="1.6"/><rect x="17.8" y="28.7" width="1.1" height="1.3"/><rect x="19.8" y="7.5" width="1.5" height="1.4"/><rect x="19.9" y="25.8" width="1.9" height="1.9"/><rect x="20.0" y="37.0" width="1.5" height="1.5"/><rect x="21.6" y="55.8" width="2.0" height="2.1"/><rect x="23.9" y="3.4" width="2.1" height="1.9"/><rect x="24.3" y="4.7" width="1.3" height="1.6"/><rect x="32.1" y="28.1" width="1.5" height="1.6"/><rect x="32.7" y="57.3" width="1.3" height="2.0"/><rect x="39.1" y="39.2" width="2.3" height="2.0"/><rect x="40.6" y="38.2" width="1.7" height="1.1"/><rect x="40.9" y="49.5" width="1.7" height="2.2"/><rect x="42.9" y="36.9" width="1.7" height="1.4"/><rect x="43.2" y="38.6" width="1.6" height="1.2"/><rect x="45.3" y="56.0" width="2.2" height="2.2"/><rect x="47.3" y="39.1" width="1.3" height="2.0"/><rect x="53.5" y="30.4" width="1.8" height="1.6"/><rect x="55.6" y="13.1" width="1.8" height="1.4"/><rect x="57.4" y="22.3" width="1.5" height="2.3"/><rect x="58.0" y="34.9" width="1.8" height="1.6"/><rect x="59.7" y="38.8" width="1.5" height="1.1"/></g><g fill="#eadc9c"><rect x="0.5" y="43.3" width="2.0" height="1.5"/><rect x="1.3" y="44.9" width="1.6" height="1.4"/><rect x="0.4" y="49.0" width="1.1" height="1.7"/><rect x="3.4" y="32.8" width="2.3" height="1.7"/><rect x="5.0" y="36.3" width="1.4" height="2.1"/><rect x="5.0" y="38.8" width="1.4" height="2.2"/><rect x="5.4" y="53.9" width="2.1" height="2.3"/><rect x="7.1" y="21.4" width="2.3" height="1.8"/><rect x="6.8" y="36.4" width="1.4" height="1.9"/><rect x="7.4" y="38.7" width="1.9" height="1.7"/><rect x="9.5" y="22.2" width="1.8" height="1.9"/><rect x="9.6" y="39.2" width="1.9" height="1.9"/><rect x="11.7" y="21.6" width="1.6" height="1.7"/><rect x="11.4" y="43.2" width="1.4" height="1.8"/><rect x="10.9" y="60.2" width="2.0" height="1.8"/><rect x="13.0" y="5.3" width="1.5" height="2.0"/><rect x="17.2" y="13.0" width="1.9" height="1.9"/><rect x="17.2" y="38.8" width="1.8" height="1.8"/><rect x="17.3" y="51.5" width="1.5" height="2.2"/><rect x="17.6" y="60.2" width="1.2" height="1.1"/><rect x="19.6" y="2.8" width="1.3" height="1.3"/><rect x="20.1" y="9.3" width="1.3" height="1.9"/><rect x="19.7" y="55.2" width="1.8" height="1.4"/><rect x="23.6" y="42.5" width="2.3" height="1.3"/><rect x="26.3" y="25.9" width="1.4" height="1.6"/><rect x="28.0" y="7.3" width="1.2" height="1.1"/><rect x="28.2" y="13.4" width="1.3" height="1.2"/><rect x="32.8" y="15.6" width="1.9" height="1.7"/><rect x="32.5" y="17.8" width="1.9" height="1.3"/><rect x="32.4" y="24.5" width="2.1" height="1.2"/><rect x="32.4" y="32.1" width="1.5" height="2.1"/><rect x="32.4" y="34.0" width="1.1" height="1.8"/><rect x="32.0" y="59.9" width="2.2" height="1.4"/><rect x="34.3" y="32.6" width="1.6" height="1.3"/><rect x="34.5" y="42.6" width="2.0" height="1.5"/><rect x="34.4" y="47.6" width="1.4" height="2.1"/><rect x="36.2" y="55.6" width="1.7" height="2.0"/><rect x="38.6" y="0.4" width="1.4" height="1.2"/><rect x="39.1" y="23.5" width="1.4" height="1.4"/><rect x="38.5" y="53.1" width="1.8" height="1.2"/><rect x="41.0" y="9.1" width="1.7" height="1.3"/><rect x="40.6" y="34.7" width="2.3" height="2.1"/><rect x="40.7" y="45.1" width="1.8" height="2.3"/><rect x="42.7" y="32.4" width="1.3" height="1.8"/><rect x="43.1" y="59.6" width="1.2" height="1.8"/><rect x="47.3" y="13.0" width="1.4" height="1.6"/><rect x="47.4" y="15.6" width="1.1" height="1.8"/><rect x="46.7" y="51.8" width="1.3" height="1.5"/><rect x="49.1" y="1.2" width="2.1" height="1.4"/><rect x="49.6" y="11.5" width="2.2" height="2.2"/><rect x="49.4" y="21.6" width="2.0" height="2.1"/><rect x="49.1" y="25.9" width="1.8" height="1.6"/><rect x="51.1" y="26.4" width="1.3" height="2.0"/><rect x="51.3" y="30.4" width="2.1" height="2.3"/><rect x="53.2" y="7.4" width="1.2" height="1.4"/><rect x="55.1" y="8.9" width="1.8" height="1.5"/><rect x="56.0" y="26.1" width="1.4" height="2.3"/><rect x="55.8" y="51.3" width="1.1" height="1.3"/><rect x="57.3" y="11.0" width="1.4" height="1.8"/><rect x="57.8" y="39.1" width="1.4" height="2.0"/><rect x="59.8" y="45.5" width="1.2" height="1.4"/><rect x="59.3" y="47.5" width="2.0" height="1.4"/></g><g fill="#f2c4b8"><rect x="1.1" y="59.3" width="1.3" height="2.0"/><rect x="2.5" y="0.8" width="1.3" height="1.3"/><rect x="3.3" y="6.8" width="1.6" height="1.5"/><rect x="2.9" y="20.3" width="1.2" height="1.4"/><rect x="2.6" y="24.4" width="1.7" height="1.3"/><rect x="5.0" y="7.4" width="2.1" height="2.2"/><rect x="5.2" y="18.1" width="1.4" height="1.2"/><rect x="4.7" y="44.7" width="1.7" height="1.7"/><rect x="5.1" y="57.4" width="1.9" height="2.1"/><rect x="9.7" y="24.0" width="2.2" height="1.4"/><rect x="13.4" y="9.5" width="1.4" height="1.8"/><rect x="13.8" y="28.1" width="1.5" height="2.0"/><rect x="13.6" y="45.1" width="1.4" height="1.3"/><rect x="17.9" y="20.1" width="2.1" height="1.2"/><rect x="21.6" y="13.1" width="1.1" height="1.2"/><rect x="21.9" y="46.7" width="1.3" height="1.6"/><rect x="23.7" y="34.2" width="1.6" height="1.5"/><rect x="26.5" y="34.5" width="1.7" height="1.6"/><rect x="28.2" y="4.8" width="1.5" height="1.3"/><rect x="28.2" y="18.2" width="1.4" height="1.9"/><rect x="28.3" y="38.3" width="2.1" height="1.4"/><rect x="32.2" y="2.7" width="2.1" height="1.8"/><rect x="34.9" y="48.9" width="1.8" height="2.3"/><rect x="34.0" y="51.5" width="1.3" height="2.3"/><rect x="36.4" y="4.9" width="1.8" height="2.1"/><rect x="38.4" y="4.5" width="1.7" height="1.1"/><rect x="38.6" y="17.4" width="2.2" height="2.2"/><rect x="38.7" y="51.0" width="2.1" height="2.1"/><rect x="41.0" y="32.0" width="1.9" height="1.8"/><rect x="46.8" y="1.2" width="1.2" height="1.5"/><rect x="46.8" y="41.0" width="1.4" height="1.1"/><rect x="49.7" y="57.2" width="1.8" height="1.4"/><rect x="51.8" y="0.5" width="1.3" height="1.3"/><rect x="51.7" y="9.5" width="2.0" height="1.4"/><rect x="51.3" y="59.9" width="1.5" height="1.8"/><rect x="53.5" y="28.0" width="2.3" height="1.7"/><rect x="53.6" y="60.2" width="1.6" height="1.9"/><rect x="57.5" y="47.4" width="1.6" height="2.1"/><rect x="57.7" y="51.2" width="1.6" height="2.0"/></g><g fill="#ffa500"><rect x="2.5" y="42.6" width="1.4" height="1.1"/><rect x="5.0" y="60.1" width="2.1" height="2.1"/><rect x="9.1" y="34.9" width="2.0" height="1.5"/><rect x="11.2" y="13.4" width="1.6" height="1.5"/><rect x="11.6" y="39.1" width="1.1" height="1.6"/><rect x="13.7" y="49.5" width="1.4" height="1.7"/><rect x="13.3" y="57.2" width="1.5" height="2.2"/><rect x="15.3" y="19.9" width="1.4" height="2.2"/><rect x="17.7" y="15.7" width="1.6" height="1.6"/><rect x="21.5" y="3.1" width="2.0" height="2.0"/><rect x="22.0" y="45.5" width="2.0" height="1.9"/><rect x="27.7" y="43.1" width="2.0" height="1.5"/><rect x="32.4" y="22.2" width="1.9" height="1.8"/><rect x="34.1" y="17.2" width="1.5" height="1.8"/><rect x="38.8" y="2.9" width="2.0" height="1.2"/><rect x="38.2" y="32.4" width="2.1" height="1.2"/><rect x="38.3" y="55.1" width="2.1" height="2.1"/><rect x="43.3" y="26.3" width="1.8" height="2.1"/><rect x="42.4" y="27.8" width="1.2" height="1.3"/><rect x="42.5" y="30.1" width="2.1" height="2.3"/><rect x="45.4" y="15.4" width="1.5" height="2.0"/><rect x="44.7" y="25.9" width="2.3" height="1.8"/><rect x="45.5" y="53.7" width="1.4" height="1.3"/><rect x="53.2" y="19.8" width="1.8" height="2.3"/><rect x="53.5" y="26.6" width="2.0" height="1.3"/><rect x="53.0" y="34.1" width="1.8" height="2.0"/><rect x="53.2" y="47.5" width="1.6" height="2.3"/><rect x="55.8" y="29.9" width="1.6" height="1.9"/><rect x="60.2" y="7.3" width="1.4" height="1.6"/><rect x="59.9" y="40.9" width="1.9" height="1.2"/></g></pattern><clipPath id="cleft"><rect x="1300" y="40" width="260.7" height="530"/></clipPath><clipPath id="cdisk"><circle cx="1560.7" cy="310.3" r="230.5"/></clipPath><filter id="soft" x="0" y="0" width="1" height="1"><feGaussianBlur stdDeviation="0.45"/></filter></defs>
<circle cx="1560.7" cy="310.3" r="233.5" fill="#d3d3d3"/>
<g id="chalf" clip-path="url(#cleft)">
<g filter="url(#soft)">
<circle cx="1560.7" cy="310.3" r="230.5" fill="#dadada"/>
<circle cx="1560.7" cy="310.3" r="230.5" fill="url(#sp1)"/>
</g>
<g clip-path="url(#cdisk)">
<circle cx="1441" cy="113" r="21" fill="#d3d3d3"/>
<circle cx="1345" cy="229" r="16" fill="#d3d3d3"/>
<circle cx="1560.7" cy="299" r="15.5" fill="#d3d3d3"/>
<circle cx="1560.7" cy="270" r="8" fill="#d3d3d3"/>
<circle cx="1560.7" cy="88" r="8" fill="#d3d3d3"/>
</g>
<g fill="#696969"><circle cx="1455.4" cy="324.2" r="2.3"/><circle cx="1376.9" cy="207.5" r="1.8"/><circle cx="1419.6" cy="198.6" r="1.7"/><circle cx="1445.5" cy="421.2" r="1.8"/><circle cx="1479.9" cy="391.2" r="2.3"/><circle cx="1552.9" cy="107.4" r="2.4"/><circle cx="1496.9" cy="203.9" r="1.6"/><circle cx="1507.2" cy="389.7" r="2.2"/><circle cx="1353.7" cy="401.4" r="1.6"/><circle cx="1436.4" cy="197.7" r="2.2"/><circle cx="1466.8" cy="460.9" r="1.8"/><circle cx="1547.9" cy="129.0" r="1.9"/><circle cx="1545.2" cy="480.9" r="2.1"/><circle cx="1525.2" cy="216.3" r="1.5"/><circle cx="1518.4" cy="354.5" r="1.9"/><circle cx="1383.5" cy="206.9" r="2.3"/><circle cx="1488.5" cy="374.7" r="1.9"/><circle cx="1380.3" cy="243.2" r="2.2"/><circle cx="1457.8" cy="338.0" r="2.3"/><circle cx="1447.6" cy="210.8" r="1.9"/></g>
<g fill="#ffa500"><circle cx="1545.5" cy="97.1" r="2.1"/><circle cx="1372.9" cy="248.7" r="1.6"/><circle cx="1452.2" cy="378.1" r="1.8"/><circle cx="1507.7" cy="206.3" r="2.2"/><circle cx="1361.0" cy="342.7" r="1.8"/><circle cx="1336.5" cy="315.0" r="1.5"/><circle cx="1527.1" cy="296.1" r="1.7"/><circle cx="1476.6" cy="248.8" r="2.0"/><circle cx="1501.7" cy="412.9" r="1.8"/></g>
<g fill="#eadc9c"><circle cx="1444.3" cy="384.6" r="2.0"/><circle cx="1409.1" cy="145.1" r="1.6"/><circle cx="1467.2" cy="467.7" r="1.6"/><circle cx="1500.9" cy="397.2" r="1.5"/><circle cx="1511.6" cy="334.2" r="2.2"/><circle cx="1405.0" cy="407.2" r="1.6"/><circle cx="1525.3" cy="273.2" r="2.2"/><circle cx="1379.6" cy="326.6" r="2.4"/><circle cx="1430.6" cy="357.3" r="2.0"/><circle cx="1392.2" cy="358.1" r="1.8"/><circle cx="1385.8" cy="342.6" r="2.3"/><circle cx="1551.6" cy="370.5" r="1.8"/><circle cx="1559.3" cy="188.3" r="2.3"/><circle cx="1480.0" cy="400.9" r="2.3"/><circle cx="1556.0" cy="375.6" r="2.1"/><circle cx="1370.0" cy="383.1" r="2.0"/><circle cx="1406.8" cy="373.7" r="1.6"/><circle cx="1509.9" cy="312.8" r="2.2"/><circle cx="1509.3" cy="221.6" r="1.6"/><circle cx="1526.3" cy="303.3" r="1.5"/></g>
<g fill="#f2c4b8"><circle cx="1532.4" cy="334.8" r="1.6"/><circle cx="1428.6" cy="202.6" r="2.1"/><circle cx="1368.2" cy="279.0" r="1.5"/><circle cx="1535.4" cy="158.1" r="1.7"/><circle cx="1486.2" cy="111.2" r="2.3"/><circle cx="1349.3" cy="384.5" r="1.6"/><circle cx="1532.6" cy="494.4" r="2.4"/><circle cx="1489.0" cy="174.2" r="2.0"/><circle cx="1355.7" cy="330.6" r="2.0"/><circle cx="1436.0" cy="429.8" r="2.3"/><circle cx="1441.9" cy="437.5" r="1.9"/><circle cx="1490.5" cy="257.3" r="1.6"/><circle cx="1385.7" cy="246.3" r="1.5"/></g>
<g fill="#ffd700"><circle cx="1420.9" cy="318.3" r="1.7"/><circle cx="1557.2" cy="501.0" r="1.8"/><circle cx="1508.8" cy="235.7" r="1.6"/><circle cx="1474.3" cy="129.0" r="2.2"/><circle cx="1369.3" cy="311.1" r="2.0"/><circle cx="1493.6" cy="413.8" r="2.3"/><circle cx="1391.0" cy="299.1" r="2.5"/><circle cx="1488.2" cy="381.2" r="2.2"/><circle cx="1350.4" cy="335.5" r="2.1"/><circle cx="1515.1" cy="320.9" r="1.7"/><circle cx="1525.2" cy="393.0" r="1.5"/><circle cx="1491.9" cy="335.5" r="1.9"/><circle cx="1491.5" cy="394.9" r="2.0"/><circle cx="1531.6" cy="425.3" r="1.8"/><circle cx="1538.3" cy="151.2" r="2.0"/></g>
<g fill="#9370db"><circle cx="1446.9" cy="325.4" r="2.1"/><circle cx="1460.7" cy="251.7" r="1.9"/><circle cx="1427.4" cy="372.8" r="2.2"/><circle cx="1536.2" cy="350.0" r="2.0"/><circle cx="1521.5" cy="312.9" r="2.1"/><circle cx="1538.8" cy="500.4" r="1.9"/><circle cx="1359.9" cy="261.0" r="1.7"/><circle cx="1478.6" cy="111.0" r="2.1"/><circle cx="1429.6" cy="216.5" r="1.8"/><circle cx="1427.6" cy="303.6" r="2.4"/></g>
<g fill="#c9bdf0"><circle cx="1472.4" cy="105.3" r="1.5"/><circle cx="1489.9" cy="128.7" r="2.0"/><circle cx="1389.7" cy="451.5" r="2.4"/><circle cx="1453.1" cy="301.0" r="2.3"/><circle cx="1535.1" cy="322.1" r="1.8"/><circle cx="1419.0" cy="138.7" r="1.7"/><circle cx="1544.0" cy="241.1" r="1.6"/><circle cx="1448.6" cy="503.4" r="1.8"/><circle cx="1382.7" cy="264.6" r="2.0"/><circle cx="1378.3" cy="289.8" r="1.8"/></g>
<g fill="#ff0000"><circle cx="1408.2" cy="208.5" r="2.4"/><circle cx="1458.0" cy="275.6" r="2.3"/><circle cx="1485.4" cy="409.8" r="2.1"/><circle cx="1546.5" cy="144.8" r="1.9"/><circle cx="1434.3" cy="416.7" r="2.3"/><circle cx="1507.1" cy="240.7" r="1.6"/><circle cx="1497.2" cy="256.1" r="2.2"/><circle cx="1387.7" cy="362.1" r="1.7"/><circle cx="1486.3" cy="421.5" r="1.6"/><circle cx="1491.6" cy="118.0" r="2.0"/><circle cx="1446.6" cy="307.4" r="1.7"/></g>
<g fill="#a0522d"><circle cx="1479.7" cy="338.4" r="2.4"/><circle cx="1390.1" cy="368.0" r="1.5"/><circle cx="1488.7" cy="520.2" r="2.2"/><circle cx="1494.7" cy="241.5" r="2.2"/><circle cx="1468.8" cy="313.9" r="2.4"/><circle cx="1421.5" cy="426.2" r="2.1"/><circle cx="1392.6" cy="338.4" r="1.9"/><circle cx="1463.7" cy="171.5" r="2.3"/><circle cx="1412.0" cy="420.6" r="2.3"/><circle cx="1514.9" cy="266.3" r="1.5"/><circle cx="1493.8" cy="477.9" r="2.1"/><circle cx="1362.8" cy="334.9" r="2.4"/><circle cx="1532.4" cy="477.4" r="1.7"/><circle cx="1468.2" cy="270.6" r="1.9"/><circle cx="1352.9" cy="372.7" r="1.6"/><circle cx="1485.3" cy="223.1" r="1.6"/></g>
<g fill="#6b8e23"><circle cx="1515.2" cy="243.0" r="2.0"/><circle cx="1514.0" cy="295.1" r="2.2"/><circle cx="1480.7" cy="364.2" r="2.0"/><circle cx="1399.4" cy="373.3" r="1.9"/><circle cx="1501.0" cy="500.9" r="1.7"/><circle cx="1400.2" cy="201.2" r="2.2"/><circle cx="1540.1" cy="280.4" r="2.0"/><circle cx="1359.3" cy="283.9" r="1.8"/><circle cx="1503.8" cy="316.0" r="1.8"/><circle cx="1342.4" cy="251.2" r="1.6"/><circle cx="1536.2" cy="304.4" r="2.2"/><circle cx="1517.8" cy="341.4" r="1.8"/><circle cx="1392.5" cy="316.4" r="2.2"/><circle cx="1543.6" cy="159.8" r="2.4"/><circle cx="1475.4" cy="358.2" r="1.8"/><circle cx="1546.1" cy="188.0" r="2.4"/><circle cx="1516.6" cy="505.1" r="1.8"/></g>
<g fill="#5f9ea0"><circle cx="1467.3" cy="190.4" r="2.0"/><circle cx="1405.4" cy="186.4" r="2.1"/><circle cx="1481.3" cy="191.9" r="2.3"/><circle cx="1391.4" cy="396.4" r="2.1"/><circle cx="1539.0" cy="512.8" r="2.1"/><circle cx="1510.9" cy="252.6" r="2.0"/><circle cx="1525.9" cy="167.6" r="1.9"/><circle cx="1376.4" cy="382.3" r="1.7"/><circle cx="1457.3" cy="486.0" r="1.7"/><circle cx="1340.0" cy="268.4" r="2.0"/><circle cx="1417.0" cy="207.6" r="2.2"/><circle cx="1513.9" cy="305.2" r="2.0"/><circle cx="1337.6" cy="348.2" r="1.6"/><circle cx="1534.0" cy="290.9" r="2.2"/><circle cx="1548.9" cy="250.0" r="1.7"/><circle cx="1461.9" cy="433.2" r="2.3"/><circle cx="1517.5" cy="110.1" r="1.7"/><circle cx="1419.3" cy="152.1" r="2.0"/><circle cx="1369.9" cy="215.8" r="1.8"/><circle cx="1468.6" cy="246.1" r="1.9"/><circle cx="1554.8" cy="516.6" r="1.6"/><circle cx="1522.0" cy="296.8" r="1.5"/><circle cx="1505.3" cy="473.7" r="2.2"/><circle cx="1403.8" cy="194.4" r="1.9"/><circle cx="1463.5" cy="125.9" r="1.9"/></g>
<g fill="#b0d4d4"><circle cx="1347.6" cy="265.1" r="2.5"/><circle cx="1371.3" cy="242.3" r="2.2"/><circle cx="1469.8" cy="206.2" r="1.5"/><circle cx="1474.8" cy="178.7" r="1.9"/><circle cx="1495.1" cy="319.7" r="2.2"/><circle cx="1447.5" cy="466.5" r="2.0"/><circle cx="1448.9" cy="359.1" r="1.9"/><circle cx="1435.1" cy="377.9" r="2.4"/><circle cx="1474.3" cy="255.3" r="2.2"/><circle cx="1535.5" cy="219.8" r="2.3"/><circle cx="1413.6" cy="163.9" r="1.9"/><circle cx="1357.9" cy="248.9" r="2.1"/><circle cx="1435.6" cy="221.1" r="2.5"/></g>
<circle cx="1537.5" cy="87" r="3.7" fill="#ff0000"/>
<circle cx="1481.6" cy="100.4" r="4" fill="#a0522d"/>
<circle cx="1498.1" cy="110.7" r="3.7" fill="#5f9ea0"/>
<circle cx="1542.7" cy="114.9" r="4" fill="#ffd700"/>
<circle cx="1509.5" cy="123.2" r="4" fill="#9370db"/>
<circle cx="1537.5" cy="126.3" r="4" fill="#ffd700"/>
<circle cx="1454.6" cy="135.6" r="3.7" fill="#6b8e23"/>
<circle cx="1465" cy="133.5" r="3.7" fill="#696969"/>
<circle cx="1499.2" cy="134.6" r="4" fill="#ffd700"/>
<circle cx="1508.5" cy="141.8" r="4" fill="#ffa500"/>
<circle cx="1519.9" cy="140.8" r="4" fill="#a0522d"/>
<circle cx="1515.7" cy="130.4" r="3.7" fill="#696969"/>
<circle cx="1456.7" cy="152.2" r="4.5" fill="#ffd700"/>
<circle cx="1467.1" cy="158.4" r="3.7" fill="#6b8e23"/>
<circle cx="1481.6" cy="156.3" r="3.7" fill="#a0522d"/>
<circle cx="1494" cy="155.7" r="3.7" fill="#6b8e23"/>
<circle cx="1527.1" cy="154.2" r="3.7" fill="#696969"/>
<circle cx="1533.3" cy="143.9" r="3.7" fill="#696969"/>
<circle cx="1404.9" cy="161.5" r="4" fill="#9370db"/>
<circle cx="1442.2" cy="166.7" r="4" fill="#a0522d"/>
<circle cx="1474.3" cy="170.8" r="4" fill="#9370db"/>
<circle cx="1550.9" cy="166.7" r="4" fill="#ffa500"/>
<circle cx="1407" cy="176" r="3.7" fill="#696969"/>
<circle cx="1369.7" cy="184.3" r="3.7" fill="#5f9ea0"/>
<circle cx="1443.2" cy="185.3" r="4" fill="#ffa500"/>
<circle cx="1430.8" cy="188.4" r="3.7" fill="#5f9ea0"/>
<circle cx="1527.1" cy="188.4" r="4" fill="#9370db"/>
<circle cx="1522" cy="178.1" r="3.7" fill="#ffa500"/>
<circle cx="1367.6" cy="195.7" r="3.7" fill="#9370db"/>
<circle cx="1414.2" cy="193.6" r="3.7" fill="#a0522d"/>
<circle cx="1508.5" cy="193.6" r="3.7" fill="#5f9ea0"/>
<circle cx="1514.7" cy="200.8" r="4" fill="#a0522d"/>
<circle cx="1461.9" cy="200.8" r="4" fill="#ff0000"/>
<circle cx="1360.4" cy="204" r="4" fill="#a0522d"/>
<circle cx="1360.4" cy="214.3" r="3.7" fill="#ffa500"/>
<circle cx="1394.6" cy="213.3" r="4" fill="#ff0000"/>
<circle cx="1417.3" cy="216.4" r="4.5" fill="#ffd700"/>
<circle cx="1433.9" cy="210.2" r="3.7" fill="#6b8e23"/>
<circle cx="1469.1" cy="216.4" r="4" fill="#ffd700"/>
<circle cx="1446.3" cy="220.5" r="3.7" fill="#5f9ea0"/>
<circle cx="1536.4" cy="202.9" r="3.7" fill="#5f9ea0"/>
<circle cx="1543.7" cy="217.4" r="4" fill="#ff0000"/>
<circle cx="1474.3" cy="226.7" r="3.7" fill="#696969"/>
<circle cx="1423.6" cy="233" r="4" fill="#ffd700"/>
<circle cx="1546.8" cy="229.8" r="3.7" fill="#6b8e23"/>
<circle cx="1431.8" cy="239.2" r="3.7" fill="#ff0000"/>
<circle cx="1407" cy="243.3" r="3.7" fill="#ff0000"/>
<circle cx="1452.6" cy="246.4" r="3.7" fill="#ff0000"/>
<circle cx="1560.7" cy="236" r="4" fill="#a0522d"/>
<circle cx="1541.6" cy="253.7" r="3.7" fill="#5f9ea0"/>
<circle cx="1365.6" cy="249.5" r="3.7" fill="#a0522d"/>
<circle cx="1461.9" cy="260.9" r="4" fill="#5f9ea0"/>
<circle cx="1432.9" cy="260.9" r="4" fill="#ffd700"/>
<circle cx="1368.7" cy="263" r="3.7" fill="#ffd700"/>
<circle cx="1494" cy="265" r="3.7" fill="#5f9ea0"/>
<circle cx="1474.3" cy="266.1" r="3.7" fill="#a0522d"/>
<circle cx="1536.4" cy="259.9" r="3.7" fill="#5f9ea0"/>
<circle cx="1449.5" cy="270.2" r="3.7" fill="#6b8e23"/>
<circle cx="1508.5" cy="273.3" r="3.7" fill="#696969"/>
<circle cx="1550.9" cy="269.2" r="4.5" fill="#ffd700"/>
<circle cx="1540.6" cy="271.3" r="3.7" fill="#696969"/>
<circle cx="1444.3" cy="280.6" r="4" fill="#ffa500"/>
<circle cx="1496" cy="282.7" r="4" fill="#9370db"/>
<circle cx="1374.9" cy="282.7" r="3.7" fill="#696969"/>
<circle cx="1469.1" cy="288.9" r="4" fill="#ffd700"/>
<circle cx="1430.8" cy="292" r="3.7" fill="#6b8e23"/>
<circle cx="1421.5" cy="298.2" r="3.7" fill="#ff0000"/>
<circle cx="1342.8" cy="305.4" r="3.7" fill="#6b8e23"/>
<circle cx="1331.4" cy="307.5" r="3.7" fill="#9370db"/>
<circle cx="1361.4" cy="301.3" r="3.7" fill="#a0522d"/>
<circle cx="1483.6" cy="303.4" r="3.7" fill="#5f9ea0"/>
<circle cx="1464" cy="300.3" r="3.7" fill="#ffa500"/>
<circle cx="1328.3" cy="331.1" r="4" fill="#ffd700"/>
<circle cx="1330.4" cy="343.5" r="4" fill="#ffd700"/>
<circle cx="1378" cy="349.7" r="3.7" fill="#5f9ea0"/>
<circle cx="1381.1" cy="317.6" r="3.7" fill="#ff0000"/>
<circle cx="1429.8" cy="324.9" r="3.7" fill="#ff0000"/>
<circle cx="1369.7" cy="322.8" r="3.7" fill="#696969"/>
<circle cx="1397.7" cy="329" r="3.7" fill="#a0522d"/>
<circle cx="1447.4" cy="317.6" r="3.7" fill="#9370db"/>
<circle cx="1469.1" cy="325.9" r="3.7" fill="#696969"/>
<circle cx="1485.7" cy="324.9" r="3.7" fill="#696969"/>
<circle cx="1499.2" cy="331.1" r="3.7" fill="#ffa500"/>
<circle cx="1550.9" cy="320.7" r="3.7" fill="#696969"/>
<circle cx="1449.5" cy="335.2" r="4" fill="#ffd700"/>
<circle cx="1471.2" cy="338.3" r="4" fill="#ffd700"/>
<circle cx="1479.5" cy="349.7" r="3.7" fill="#696969"/>
<circle cx="1502.3" cy="343.5" r="3.7" fill="#6b8e23"/>
<circle cx="1535.4" cy="358" r="3.7" fill="#ffd700"/>
<circle cx="1365.6" cy="365.2" r="3.7" fill="#696969"/>
<circle cx="1402.8" cy="366.3" r="3.7" fill="#ffd700"/>
<circle cx="1421.5" cy="360.1" r="3.7" fill="#ffd700"/>
<circle cx="1381.1" cy="371.5" r="3.7" fill="#9370db"/>
<circle cx="1457.7" cy="366.3" r="3.7" fill="#696969"/>
<circle cx="1495" cy="367.3" r="3.7" fill="#6b8e23"/>
<circle cx="1418.4" cy="373.5" r="3.7" fill="#ffd700"/>
<circle cx="1461.9" cy="376.6" r="3.7" fill="#ffa500"/>
<circle cx="1534.4" cy="373.5" r="3.7" fill="#6b8e23"/>
<circle cx="1391.5" cy="381.8" r="4" fill="#ffd700"/>
<circle cx="1410.1" cy="384.9" r="3.7" fill="#ffd700"/>
<circle cx="1473.3" cy="380.8" r="3.7" fill="#9370db"/>
<circle cx="1546.8" cy="379.7" r="3.7" fill="#a0522d"/>
<circle cx="1424.6" cy="388" r="3.7" fill="#9370db"/>
<circle cx="1451.5" cy="389.1" r="3.7" fill="#a0522d"/>
<circle cx="1457.7" cy="396.3" r="3.7" fill="#a0522d"/>
<circle cx="1470.2" cy="396.3" r="3.7" fill="#ffd700"/>
<circle cx="1424.6" cy="401.5" r="3.7" fill="#9370db"/>
<circle cx="1393.5" cy="406.7" r="4" fill="#a0522d"/>
<circle cx="1413.2" cy="406.7" r="3.7" fill="#696969"/>
<circle cx="1436" cy="408.7" r="3.7" fill="#ff0000"/>
<circle cx="1453.6" cy="406.7" r="3.7" fill="#ff0000"/>
<circle cx="1445.3" cy="411.8" r="3.7" fill="#6b8e23"/>
<circle cx="1516.8" cy="402.5" r="3.7" fill="#ffd700"/>
<circle cx="1507.4" cy="431.5" r="3.7" fill="#ffd700"/>
<circle cx="1494" cy="427.4" r="3.7" fill="#ff0000"/>
<circle cx="1543.7" cy="427.4" r="3.7" fill="#ffd700"/>
<circle cx="1452.6" cy="425.3" r="3.7" fill="#ffa500"/>
<circle cx="1398.7" cy="421.2" r="3.7" fill="#6b8e23"/>
<circle cx="1371.8" cy="429.5" r="3.7" fill="#696969"/>
<circle cx="1415.3" cy="431.5" r="3.7" fill="#696969"/>
<circle cx="1374.9" cy="440.8" r="3.7" fill="#6b8e23"/>
<circle cx="1384.2" cy="437.7" r="3.7" fill="#a0522d"/>
<circle cx="1475.3" cy="440.8" r="3.7" fill="#ffa500"/>
<circle cx="1518.8" cy="442.9" r="3.7" fill="#ffd700"/>
<circle cx="1538.5" cy="438.8" r="3.7" fill="#a0522d"/>
<circle cx="1380.1" cy="451.2" r="3.7" fill="#9370db"/>
<circle cx="1530.2" cy="447.1" r="3.7" fill="#5f9ea0"/>
<circle cx="1452.6" cy="450.2" r="3.7" fill="#9370db"/>
<circle cx="1480.5" cy="453.3" r="3.7" fill="#ffa500"/>
<circle cx="1494" cy="452.2" r="3.7" fill="#6b8e23"/>
<circle cx="1535.4" cy="462.6" r="3.7" fill="#6b8e23"/>
<circle cx="1455.7" cy="468.8" r="3.7" fill="#a0522d"/>
<circle cx="1467.1" cy="475" r="3.7" fill="#ffa500"/>
<circle cx="1447.4" cy="482.3" r="3.7" fill="#5f9ea0"/>
<circle cx="1500.2" cy="485.4" r="3.7" fill="#a0522d"/>
<circle cx="1527.1" cy="485.4" r="3.7" fill="#696969"/>
<circle cx="1491.9" cy="489.5" r="3.7" fill="#a0522d"/>
<circle cx="1440.1" cy="494.7" r="3.7" fill="#6b8e23"/>
<circle cx="1467.1" cy="491.6" r="3.7" fill="#6b8e23"/>
<circle cx="1548.9" cy="494.7" r="3.7" fill="#a0522d"/>
<circle cx="1516.8" cy="495.7" r="3.7" fill="#5f9ea0"/>
<circle cx="1488.8" cy="507.1" r="4" fill="#9370db"/>
<circle cx="1497.1" cy="513.3" r="3.7" fill="#9370db"/>
<circle cx="1508.5" cy="509.2" r="4" fill="#ffd700"/>
<circle cx="1527.1" cy="516.4" r="3.7" fill="#696969"/>
<circle cx="1548.9" cy="512.3" r="3.7" fill="#696969"/>
<circle cx="1469.1" cy="518.5" r="3.7" fill="#a0522d"/>
<circle cx="1479.5" cy="520.6" r="3.7" fill="#ffa500"/>
<circle cx="1499.2" cy="526.8" r="3.7" fill="#a0522d"/>
<circle cx="1520.9" cy="526.8" r="3.7" fill="#696969"/>
<circle cx="1545.8" cy="532" r="4" fill="#ffd700"/>
<circle cx="1553" cy="487" r="4" fill="#696969"/>
<circle cx="1386" cy="191" r="3.7" fill="#ffd700"/>
<circle cx="1340" cy="260" r="3.7" fill="#ffa500"/>
<circle cx="1352" cy="282" r="3.7" fill="#5f9ea0"/>
<circle cx="1336" cy="282" r="3.7" fill="#ffd700"/>
<circle cx="1408.8" cy="274" r="21.5" fill="#a0522d"/>
<circle cx="1416.6" cy="466.7" r="24.4" fill="#6b8e23"/>
<circle cx="1541.2" cy="407.5" r="12.6" fill="#a0522d"/>
<circle cx="1537.5" cy="390.1" r="3.7" fill="#a0522d"/>
<circle cx="1407.7" cy="313.3" r="9.9" fill="#ff0000"/>
<circle cx="1407.7" cy="348.7" r="9.9" fill="#ff0000"/>
<circle cx="1398.6" cy="233.1" r="7.5" fill="#ff0000"/>
<circle cx="1499.8" cy="226.2" r="6.6" fill="#ff0000"/>
<circle cx="1513.8" cy="381.1" r="6.6" fill="#ff0000"/>
<circle cx="1505.6" cy="172.6" r="9.3" fill="#9370db"/>
<circle cx="1482.3" cy="209" r="9.3" fill="#9370db"/>
<circle cx="1525" cy="99.5" r="9.3" fill="#6b8e23"/>
<circle cx="1369.6" cy="397" r="9.9" fill="#ffd700"/>
<circle cx="1479.3" cy="478" r="7" fill="#ffd700"/>
<circle cx="1527.2" cy="249" r="8" fill="#ffd700"/>
<circle cx="1345.1" cy="321" r="6.6" fill="#ffd700"/>
<circle cx="1552" cy="346.8" r="7" fill="#ffd700"/>
<circle cx="1374.5" cy="413.8" r="6.8" fill="#6b8e23"/>
<circle cx="1347.8" cy="352" r="6.6" fill="#9370db"/>
<circle cx="1463.4" cy="505.5" r="7.2" fill="#9370db"/>
<circle cx="1378.5" cy="301.6" r="6.6" fill="#696969"/>
<circle cx="1442.5" cy="349.8" r="6.8" fill="#696969"/>
<circle cx="1522.2" cy="284.2" r="6.6" fill="#696969"/>
<circle cx="1500.3" cy="297.5" r="6.8" fill="#5f9ea0"/>
<circle cx="1466" cy="410.8" r="6.8" fill="#5f9ea0"/>
<circle cx="1375.5" cy="224.8" r="6.8" fill="#5f9ea0"/>
<circle cx="1513.8" cy="538.5" r="7.2" fill="#5f9ea0"/>
<circle cx="1466" cy="449.1" r="6.8" fill="#5f9ea0"/>
<circle cx="1483.3" cy="240.4" r="6.8" fill="#ffa500"/>
<circle cx="1509.5" cy="420.1" r="6.8" fill="#ffa500"/>
<circle cx="1519.9" cy="460.5" r="6.8" fill="#ffa500"/>
<circle cx="1502.2" cy="460.5" r="6.6" fill="#a0522d"/>
<circle cx="1385.5" cy="167.3" r="6.8" fill="#a0522d"/>
<circle cx="1554" cy="464" r="7" fill="#5f9ea0"/>
<circle cx="1509.5" cy="360.1" r="6.6" fill="#ffd700"/>
<circle cx="1513.7" cy="380.8" r="6.6" fill="#ff0000"/>
</g>
<use href="#chalf" transform="translate(3121.4 0) scale(-1 1)"/>
<rect x="1317.9" y="56.2" width="485.4" height="497.7" fill="none" stroke="#222" stroke-width="1.7"/>
<line x1="1331.4" y1="553.9" x2="1331.4" y2="549.4" stroke="#222" stroke-width="1.53"/>
<line x1="1331.4" y1="56.2" x2="1331.4" y2="60.7" stroke="#222" stroke-width="1.53"/>
<line x1="1360.1" y1="553.9" x2="1360.1" y2="549.4" stroke="#222" stroke-width="1.53"/>
<line x1="1360.1" y1="56.2" x2="1360.1" y2="60.7" stroke="#222" stroke-width="1.53"/>
<line x1="1388.7" y1="553.9" x2="1388.7" y2="549.4" stroke="#222" stroke-width="1.53"/>
<line x1="1388.7" y1="56.2" x2="1388.7" y2="60.7" stroke="#222" stroke-width="1.53"/>
<line x1="1417.4" y1="553.9" x2="1417.4" y2="545.9" stroke="#222" stroke-width="1.53"/>
<line x1="1417.4" y1="56.2" x2="1417.4" y2="64.2" stroke="#222" stroke-width="1.53"/>
<line x1="1446.1" y1="553.9" x2="1446.1" y2="549.4" stroke="#222" stroke-width="1.53"/>
<line x1="1446.1" y1="56.2" x2="1446.1" y2="60.7" stroke="#222" stroke-width="1.53"/>
<line x1="1474.7" y1="553.9" x2="1474.7" y2="549.4" stroke="#222" stroke-width="1.53"/>
<line x1="1474.7" y1="56.2" x2="1474.7" y2="60.7" stroke="#222" stroke-width="1.53"/>
<line x1="1503.4" y1="553.9" x2="1503.4" y2="549.4" stroke="#222" stroke-width="1.53"/>
<line x1="1503.4" y1="56.2" x2="1503.4" y2="60.7" stroke="#222" stroke-width="1.53"/>
<line x1="1532" y1="553.9" x2="1532" y2="549.4" stroke="#222" stroke-width="1.53"/>
<line x1="1532" y1="56.2" x2="1532" y2="60.7" stroke="#222" stroke-width="1.53"/>
<line x1="1560.7" y1="553.9" x2="1560.7" y2="545.9" stroke="#222" stroke-width="1.53"/>
<line x1="1560.7" y1="56.2" x2="1560.7" y2="64.2" stroke="#222" stroke-width="1.53"/>
<line x1="1589.4" y1="553.9" x2="1589.4" y2="549.4" stroke="#222" stroke-width="1.53"/>
<line x1="1589.4" y1="56.2" x2="1589.4" y2="60.7" stroke="#222" stroke-width="1.53"/>
<line x1="1618" y1="553.9" x2="1618" y2="549.4" stroke="#222" stroke-width="1.53"/>
<line x1="1618" y1="56.2" x2="1618" y2="60.7" stroke="#222" stroke-width="1.53"/>
<line x1="1646.7" y1="553.9" x2="1646.7" y2="549.4" stroke="#222" stroke-width="1.53"/>
<line x1="1646.7" y1="56.2" x2="1646.7" y2="60.7" stroke="#222" stroke-width="1.53"/>
<line x1="1675.3" y1="553.9" x2="1675.3" y2="549.4" stroke="#222" stroke-width="1.53"/>
<line x1="1675.3" y1="56.2" x2="1675.3" y2="60.7" stroke="#222" stroke-width="1.53"/>
<line x1="1704" y1="553.9" x2="1704" y2="545.9" stroke="#222" stroke-width="1.53"/>
<line x1="1704" y1="56.2" x2="1704" y2="64.2" stroke="#222" stroke-width="1.53"/>
<line x1="1732.7" y1="553.9" x2="1732.7" y2="549.4" stroke="#222" stroke-width="1.53"/>
<line x1="1732.7" y1="56.2" x2="1732.7" y2="60.7" stroke="#222" stroke-width="1.53"/>
<line x1="1761.3" y1="553.9" x2="1761.3" y2="549.4" stroke="#222" stroke-width="1.53"/>
<line x1="1761.3" y1="56.2" x2="1761.3" y2="60.7" stroke="#222" stroke-width="1.53"/>
<line x1="1790" y1="553.9" x2="1790" y2="549.4" stroke="#222" stroke-width="1.53"/>
<line x1="1790" y1="56.2" x2="1790" y2="60.7" stroke="#222" stroke-width="1.53"/>
<line x1="1317.9" y1="538.8" x2="1322.4" y2="538.8" stroke="#222" stroke-width="1.53"/>
<line x1="1803.3" y1="538.8" x2="1798.8" y2="538.8" stroke="#222" stroke-width="1.53"/>
<line x1="1317.9" y1="510.2" x2="1322.4" y2="510.2" stroke="#222" stroke-width="1.53"/>
<line x1="1803.3" y1="510.2" x2="1798.8" y2="510.2" stroke="#222" stroke-width="1.53"/>
<line x1="1317.9" y1="481.7" x2="1322.4" y2="481.7" stroke="#222" stroke-width="1.53"/>
<line x1="1803.3" y1="481.7" x2="1798.8" y2="481.7" stroke="#222" stroke-width="1.53"/>
<line x1="1317.9" y1="453.1" x2="1325.9" y2="453.1" stroke="#222" stroke-width="1.53"/>
<line x1="1803.3" y1="453.1" x2="1795.3" y2="453.1" stroke="#222" stroke-width="1.53"/>
<line x1="1317.9" y1="424.5" x2="1322.4" y2="424.5" stroke="#222" stroke-width="1.53"/>
<line x1="1803.3" y1="424.5" x2="1798.8" y2="424.5" stroke="#222" stroke-width="1.53"/>
<line x1="1317.9" y1="396" x2="1322.4" y2="396" stroke="#222" stroke-width="1.53"/>
<line x1="1803.3" y1="396" x2="1798.8" y2="396" stroke="#222" stroke-width="1.53"/>
<line x1="1317.9" y1="367.4" x2="1322.4" y2="367.4" stroke="#222" stroke-width="1.53"/>
<line x1="1803.3" y1="367.4" x2="1798.8" y2="367.4" stroke="#222" stroke-width="1.53"/>
<line x1="1317.9" y1="338.9" x2="1322.4" y2="338.9" stroke="#222" stroke-width="1.53"/>
<line x1="1803.3" y1="338.9" x2="1798.8" y2="338.9" stroke="#222" stroke-width="1.53"/>
<line x1="1317.9" y1="310.3" x2="1325.9" y2="310.3" stroke="#222" stroke-width="1.53"/>
<line x1="1803.3" y1="310.3" x2="1795.3" y2="310.3" stroke="#222" stroke-width="1.53"/>
<line x1="1317.9" y1="281.7" x2="1322.4" y2="281.7" stroke="#222" stroke-width="1.53"/>
<line x1="1803.3" y1="281.7" x2="1798.8" y2="281.7" stroke="#222" stroke-width="1.53"/>
<line x1="1317.9" y1="253.2" x2="1322.4" y2="253.2" stroke="#222" stroke-width="1.53"/>
<line x1="1803.3" y1="253.2" x2="1798.8" y2="253.2" stroke="#222" stroke-width="1.53"/>
<line x1="1317.9" y1="224.6" x2="1322.4" y2="224.6" stroke="#222" stroke-width="1.53"/>
<line x1="1803.3" y1="224.6" x2="1798.8" y2="224.6" stroke="#222" stroke-width="1.53"/>
<line x1="1317.9" y1="196.1" x2="1322.4" y2="196.1" stroke="#222" stroke-width="1.53"/>
<line x1="1803.3" y1="196.1" x2="1798.8" y2="196.1" stroke="#222" stroke-width="1.53"/>
<line x1="1317.9" y1="167.5" x2="1325.9" y2="167.5" stroke="#222" stroke-width="1.53"/>
<line x1="1803.3" y1="167.5" x2="1795.3" y2="167.5" stroke="#222" stroke-width="1.53"/>
<line x1="1317.9" y1="138.9" x2="1322.4" y2="138.9" stroke="#222" stroke-width="1.53"/>
<line x1="1803.3" y1="138.9" x2="1798.8" y2="138.9" stroke="#222" stroke-width="1.53"/>
<line x1="1317.9" y1="110.4" x2="1322.4" y2="110.4" stroke="#222" stroke-width="1.53"/>
<line x1="1803.3" y1="110.4" x2="1798.8" y2="110.4" stroke="#222" stroke-width="1.53"/>
<line x1="1317.9" y1="81.8" x2="1322.4" y2="81.8" stroke="#222" stroke-width="1.53"/>
<line x1="1803.3" y1="81.8" x2="1798.8" y2="81.8" stroke="#222" stroke-width="1.53"/>
<clipPath id="cd"><rect x="146" y="664.7" width="466" height="445.6"/></clipPath>
<g clip-path="url(#cd)">
<circle cx="379" cy="3313.8" r="2473" fill="#d3d3d3"/>
<circle cx="305.1" cy="867.8" r="33.4" fill="#2e8b57"/>
<circle cx="234.5" cy="882.3" r="18.2" fill="#2e8b57"/>
<circle cx="214.3" cy="926.3" r="21" fill="#2e8b57"/>
<circle cx="314.5" cy="918.7" r="10.8" fill="#2e8b57"/>
<circle cx="151.5" cy="954.4" r="30.5" fill="#2e8b57"/>
<circle cx="168.5" cy="1007.2" r="13" fill="#2e8b57"/>
<circle cx="140" cy="1042.4" r="11" fill="#2e8b57"/>
<circle cx="299.2" cy="1035.3" r="99" fill="#2e8b57"/>
<circle cx="171" cy="1114" r="8" fill="#2e8b57"/>
<circle cx="413.9" cy="858.3" r="15.9" fill="#2e8b57"/>
<circle cx="465.6" cy="882.8" r="15.1" fill="#2e8b57"/>
<circle cx="529.4" cy="904.4" r="21" fill="#2e8b57"/>
<circle cx="476.4" cy="933.7" r="28.8" fill="#2e8b57"/>
<circle cx="400.1" cy="945" r="18" fill="#2e8b57"/>
<circle cx="542.1" cy="961.3" r="9.3" fill="#2e8b57"/>
<circle cx="457.3" cy="977.5" r="8.8" fill="#2e8b57"/>
<circle cx="420.1" cy="995.8" r="21.5" fill="#2e8b57"/>
<circle cx="531.9" cy="1004.8" r="22" fill="#2e8b57"/>
<circle cx="474.2" cy="1021.2" r="6.4" fill="#2e8b57"/>
<circle cx="621" cy="978.4" r="9.3" fill="#2e8b57"/>
<circle cx="430.1" cy="1064.3" r="12.7" fill="#2e8b57"/>
<circle cx="475.4" cy="1069.4" r="15.1" fill="#2e8b57"/>
<circle cx="547.8" cy="1066.2" r="32.3" fill="#2e8b57"/>
<circle cx="609.1" cy="1055" r="22" fill="#2e8b57"/>
<circle cx="490" cy="1113" r="21" fill="#2e8b57"/>
<circle cx="441.9" cy="1118" r="8.8" fill="#2e8b57"/>
<ellipse cx="414.5" cy="837.6" rx="13.5" ry="3.6" fill="#2e8b57"/>
<rect x="410" y="834" width="11.5" height="10" fill="#2e8b57"/>
<ellipse cx="306" cy="838.5" rx="22" ry="6" fill="#2e8b57"/>
</g>
<circle cx="379" cy="696.5" r="4" fill="#b8b8b8"/>
<circle cx="379" cy="751" r="8.3" fill="#b8b8b8"/>
<circle cx="379" cy="805.6" r="4.2" fill="#b8b8b8"/>
<rect x="146" y="664.7" width="466" height="445.6" fill="none" stroke="#222" stroke-width="1.7"/>
<line x1="145.6" y1="1110.3" x2="145.6" y2="1101.8" stroke="#222" stroke-width="1.53"/>
<line x1="145.6" y1="664.7" x2="145.6" y2="673.2" stroke="#222" stroke-width="1.53"/>
<line x1="168.9" y1="1110.3" x2="168.9" y2="1105.3" stroke="#222" stroke-width="1.53"/>
<line x1="168.9" y1="664.7" x2="168.9" y2="669.7" stroke="#222" stroke-width="1.53"/>
<line x1="192.3" y1="1110.3" x2="192.3" y2="1105.3" stroke="#222" stroke-width="1.53"/>
<line x1="192.3" y1="664.7" x2="192.3" y2="669.7" stroke="#222" stroke-width="1.53"/>
<line x1="215.6" y1="1110.3" x2="215.6" y2="1105.3" stroke="#222" stroke-width="1.53"/>
<line x1="215.6" y1="664.7" x2="215.6" y2="669.7" stroke="#222" stroke-width="1.53"/>
<line x1="239" y1="1110.3" x2="239" y2="1105.3" stroke="#222" stroke-width="1.53"/>
<line x1="239" y1="664.7" x2="239" y2="669.7" stroke="#222" stroke-width="1.53"/>
<line x1="262.3" y1="1110.3" x2="262.3" y2="1101.8" stroke="#222" stroke-width="1.53"/>
<line x1="262.3" y1="664.7" x2="262.3" y2="673.2" stroke="#222" stroke-width="1.53"/>
<line x1="285.6" y1="1110.3" x2="285.6" y2="1105.3" stroke="#222" stroke-width="1.53"/>
<line x1="285.6" y1="664.7" x2="285.6" y2="669.7" stroke="#222" stroke-width="1.53"/>
<line x1="309" y1="1110.3" x2="309" y2="1105.3" stroke="#222" stroke-width="1.53"/>
<line x1="309" y1="664.7" x2="309" y2="669.7" stroke="#222" stroke-width="1.53"/>
<line x1="332.3" y1="1110.3" x2="332.3" y2="1105.3" stroke="#222" stroke-width="1.53"/>
<line x1="332.3" y1="664.7" x2="332.3" y2="669.7" stroke="#222" stroke-width="1.53"/>
<line x1="355.7" y1="1110.3" x2="355.7" y2="1105.3" stroke="#222" stroke-width="1.53"/>
<line x1="355.7" y1="664.7" x2="355.7" y2="669.7" stroke="#222" stroke-width="1.53"/>
<line x1="379" y1="1110.3" x2="379" y2="1101.8" stroke="#222" stroke-width="1.53"/>
<line x1="379" y1="664.7" x2="379" y2="673.2" stroke="#222" stroke-width="1.53"/>
<line x1="402.3" y1="1110.3" x2="402.3" y2="1105.3" stroke="#222" stroke-width="1.53"/>
<line x1="402.3" y1="664.7" x2="402.3" y2="669.7" stroke="#222" stroke-width="1.53"/>
<line x1="425.7" y1="1110.3" x2="425.7" y2="1105.3" stroke="#222" stroke-width="1.53"/>
<line x1="425.7" y1="664.7" x2="425.7" y2="669.7" stroke="#222" stroke-width="1.53"/>
<line x1="449" y1="1110.3" x2="449" y2="1105.3" stroke="#222" stroke-width="1.53"/>
<line x1="449" y1="664.7" x2="449" y2="669.7" stroke="#222" stroke-width="1.53"/>
<line x1="472.4" y1="1110.3" x2="472.4" y2="1105.3" stroke="#222" stroke-width="1.53"/>
<line x1="472.4" y1="664.7" x2="472.4" y2="669.7" stroke="#222" stroke-width="1.53"/>
<line x1="495.7" y1="1110.3" x2="495.7" y2="1101.8" stroke="#222" stroke-width="1.53"/>
<line x1="495.7" y1="664.7" x2="495.7" y2="673.2" stroke="#222" stroke-width="1.53"/>
<line x1="519" y1="1110.3" x2="519" y2="1105.3" stroke="#222" stroke-width="1.53"/>
<line x1="519" y1="664.7" x2="519" y2="669.7" stroke="#222" stroke-width="1.53"/>
<line x1="542.4" y1="1110.3" x2="542.4" y2="1105.3" stroke="#222" stroke-width="1.53"/>
<line x1="542.4" y1="664.7" x2="542.4" y2="669.7" stroke="#222" stroke-width="1.53"/>
<line x1="565.7" y1="1110.3" x2="565.7" y2="1105.3" stroke="#222" stroke-width="1.53"/>
<line x1="565.7" y1="664.7" x2="565.7" y2="669.7" stroke="#222" stroke-width="1.53"/>
<line x1="589.1" y1="1110.3" x2="589.1" y2="1105.3" stroke="#222" stroke-width="1.53"/>
<line x1="589.1" y1="664.7" x2="589.1" y2="669.7" stroke="#222" stroke-width="1.53"/>
<line x1="612.4" y1="1110.3" x2="612.4" y2="1101.8" stroke="#222" stroke-width="1.53"/>
<line x1="612.4" y1="664.7" x2="612.4" y2="673.2" stroke="#222" stroke-width="1.53"/>
<line x1="146" y1="1109.7" x2="154.5" y2="1109.7" stroke="#222" stroke-width="1.53"/>
<line x1="612" y1="1109.7" x2="603.5" y2="1109.7" stroke="#222" stroke-width="1.53"/>
<line x1="146" y1="1086.2" x2="151" y2="1086.2" stroke="#222" stroke-width="1.53"/>
<line x1="612" y1="1086.2" x2="607" y2="1086.2" stroke="#222" stroke-width="1.53"/>
<line x1="146" y1="1062.8" x2="151" y2="1062.8" stroke="#222" stroke-width="1.53"/>
<line x1="612" y1="1062.8" x2="607" y2="1062.8" stroke="#222" stroke-width="1.53"/>
<line x1="146" y1="1039.4" x2="151" y2="1039.4" stroke="#222" stroke-width="1.53"/>
<line x1="612" y1="1039.4" x2="607" y2="1039.4" stroke="#222" stroke-width="1.53"/>
<line x1="146" y1="1015.9" x2="151" y2="1015.9" stroke="#222" stroke-width="1.53"/>
<line x1="612" y1="1015.9" x2="607" y2="1015.9" stroke="#222" stroke-width="1.53"/>
<line x1="146" y1="992.5" x2="154.5" y2="992.5" stroke="#222" stroke-width="1.53"/>
<line x1="612" y1="992.5" x2="603.5" y2="992.5" stroke="#222" stroke-width="1.53"/>
<line x1="146" y1="969" x2="151" y2="969" stroke="#222" stroke-width="1.53"/>
<line x1="612" y1="969" x2="607" y2="969" stroke="#222" stroke-width="1.53"/>
<line x1="146" y1="945.6" x2="151" y2="945.6" stroke="#222" stroke-width="1.53"/>
<line x1="612" y1="945.6" x2="607" y2="945.6" stroke="#222" stroke-width="1.53"/>
<line x1="146" y1="922.1" x2="151" y2="922.1" stroke="#222" stroke-width="1.53"/>
<line x1="612" y1="922.1" x2="607" y2="922.1" stroke="#222" stroke-width="1.53"/>
<line x1="146" y1="898.7" x2="151" y2="898.7" stroke="#222" stroke-width="1.53"/>
<line x1="612" y1="898.7" x2="607" y2="898.7" stroke="#222" stroke-width="1.53"/>
<line x1="146" y1="875.2" x2="154.5" y2="875.2" stroke="#222" stroke-width="1.53"/>
<line x1="612" y1="875.2" x2="603.5" y2="875.2" stroke="#222" stroke-width="1.53"/>
<line x1="146" y1="851.8" x2="151" y2="851.8" stroke="#222" stroke-width="1.53"/>
<line x1="612" y1="851.8" x2="607" y2="851.8" stroke="#222" stroke-width="1.53"/>
<line x1="146" y1="828.3" x2="151" y2="828.3" stroke="#222" stroke-width="1.53"/>
<line x1="612" y1="828.3" x2="607" y2="828.3" stroke="#222" stroke-width="1.53"/>
<line x1="146" y1="804.9" x2="151" y2="804.9" stroke="#222" stroke-width="1.53"/>
<line x1="612" y1="804.9" x2="607" y2="804.9" stroke="#222" stroke-width="1.53"/>
<line x1="146" y1="781.4" x2="151" y2="781.4" stroke="#222" stroke-width="1.53"/>
<line x1="612" y1="781.4" x2="607" y2="781.4" stroke="#222" stroke-width="1.53"/>
<line x1="146" y1="758" x2="154.5" y2="758" stroke="#222" stroke-width="1.53"/>
<line x1="612" y1="758" x2="603.5" y2="758" stroke="#222" stroke-width="1.53"/>
<line x1="146" y1="734.5" x2="151" y2="734.5" stroke="#222" stroke-width="1.53"/>
<line x1="612" y1="734.5" x2="607" y2="734.5" stroke="#222" stroke-width="1.53"/>
<line x1="146" y1="711.1" x2="151" y2="711.1" stroke="#222" stroke-width="1.53"/>
<line x1="612" y1="711.1" x2="607" y2="711.1" stroke="#222" stroke-width="1.53"/>
<line x1="146" y1="687.6" x2="151" y2="687.6" stroke="#222" stroke-width="1.53"/>
<line x1="612" y1="687.6" x2="607" y2="687.6" stroke="#222" stroke-width="1.53"/>
<line x1="146" y1="664.2" x2="151" y2="664.2" stroke="#222" stroke-width="1.53"/>
<line x1="612" y1="664.2" x2="607" y2="664.2" stroke="#222" stroke-width="1.53"/>
<clipPath id="ce"><rect x="736.8" y="661.9" width="468.2" height="445.6"/></clipPath>
<g clip-path="url(#ce)">
<circle cx="970.8" cy="3332.7" r="2494.4" fill="#d3d3d3"/>
<circle cx="721.4" cy="905.6" r="33" fill="#2e8b57"/>
<circle cx="781" cy="885.4" r="15.5" fill="#2e8b57"/>
<circle cx="824.7" cy="903.1" r="13" fill="#2e8b57"/>
<circle cx="870" cy="874.4" r="18.9" fill="#2e8b57"/>
<circle cx="899.9" cy="913.3" r="15.4" fill="#2e8b57"/>
<circle cx="941.7" cy="891.3" r="18.6" fill="#2e8b57"/>
<circle cx="842.7" cy="927.3" r="4.1" fill="#2e8b57"/>
<circle cx="787" cy="941.8" r="6.1" fill="#2e8b57"/>
<circle cx="726.3" cy="981.9" r="27.4" fill="#2e8b57"/>
<circle cx="779.6" cy="1025.1" r="17.1" fill="#2e8b57"/>
<circle cx="714.9" cy="1082.8" r="60.3" fill="#2e8b57"/>
<circle cx="912.9" cy="1032.5" r="82" fill="#2e8b57"/>
<circle cx="821" cy="1113.9" r="15.2" fill="#2e8b57"/>
<circle cx="1033.3" cy="890.3" r="63" fill="#2e8b57"/>
<circle cx="1128" cy="870.7" r="22.5" fill="#2e8b57"/>
<circle cx="1141.8" cy="935.5" r="21" fill="#2e8b57"/>
<circle cx="1239.3" cy="931.5" r="69.3" fill="#2e8b57"/>
<circle cx="1027.8" cy="988.4" r="19" fill="#2e8b57"/>
<circle cx="1031.4" cy="1041.9" r="19.5" fill="#2e8b57"/>
<circle cx="1121.3" cy="993.5" r="31.5" fill="#2e8b57"/>
<circle cx="1174.7" cy="1006.3" r="16.2" fill="#2e8b57"/>
<circle cx="1132.3" cy="1053.4" r="18" fill="#2e8b57"/>
<circle cx="1184.8" cy="1051.9" r="19.6" fill="#2e8b57"/>
<circle cx="1103" cy="1092.4" r="19.5" fill="#2e8b57"/>
<circle cx="1154.3" cy="1115" r="28.6" fill="#2e8b57"/>
</g>
<circle cx="971" cy="694" r="3.5" fill="#b8b8b8"/>
<circle cx="971" cy="748.5" r="8" fill="#b8b8b8"/>
<circle cx="971" cy="803" r="3.5" fill="#b8b8b8"/>
<rect x="736.8" y="661.9" width="468.2" height="445.6" fill="none" stroke="#222" stroke-width="1.7"/>
<line x1="735.6" y1="1107.5" x2="735.6" y2="1099" stroke="#222" stroke-width="1.53"/>
<line x1="735.6" y1="661.9" x2="735.6" y2="670.4" stroke="#222" stroke-width="1.53"/>
<line x1="759.2" y1="1107.5" x2="759.2" y2="1102.5" stroke="#222" stroke-width="1.53"/>
<line x1="759.2" y1="661.9" x2="759.2" y2="666.9" stroke="#222" stroke-width="1.53"/>
<line x1="782.7" y1="1107.5" x2="782.7" y2="1102.5" stroke="#222" stroke-width="1.53"/>
<line x1="782.7" y1="661.9" x2="782.7" y2="666.9" stroke="#222" stroke-width="1.53"/>
<line x1="806.2" y1="1107.5" x2="806.2" y2="1102.5" stroke="#222" stroke-width="1.53"/>
<line x1="806.2" y1="661.9" x2="806.2" y2="666.9" stroke="#222" stroke-width="1.53"/>
<line x1="829.7" y1="1107.5" x2="829.7" y2="1102.5" stroke="#222" stroke-width="1.53"/>
<line x1="829.7" y1="661.9" x2="829.7" y2="666.9" stroke="#222" stroke-width="1.53"/>
<line x1="853.2" y1="1107.5" x2="853.2" y2="1099" stroke="#222" stroke-width="1.53"/>
<line x1="853.2" y1="661.9" x2="853.2" y2="670.4" stroke="#222" stroke-width="1.53"/>
<line x1="876.7" y1="1107.5" x2="876.7" y2="1102.5" stroke="#222" stroke-width="1.53"/>
<line x1="876.7" y1="661.9" x2="876.7" y2="666.9" stroke="#222" stroke-width="1.53"/>
<line x1="900.2" y1="1107.5" x2="900.2" y2="1102.5" stroke="#222" stroke-width="1.53"/>
<line x1="900.2" y1="661.9" x2="900.2" y2="666.9" stroke="#222" stroke-width="1.53"/>
<line x1="923.7" y1="1107.5" x2="923.7" y2="1102.5" stroke="#222" stroke-width="1.53"/>
<line x1="923.7" y1="661.9" x2="923.7" y2="666.9" stroke="#222" stroke-width="1.53"/>
<line x1="947.2" y1="1107.5" x2="947.2" y2="1102.5" stroke="#222" stroke-width="1.53"/>
<line x1="947.2" y1="661.9" x2="947.2" y2="666.9" stroke="#222" stroke-width="1.53"/>
<line x1="970.8" y1="1107.5" x2="970.8" y2="1099" stroke="#222" stroke-width="1.53"/>
<line x1="970.8" y1="661.9" x2="970.8" y2="670.4" stroke="#222" stroke-width="1.53"/>
<line x1="994.3" y1="1107.5" x2="994.3" y2="1102.5" stroke="#222" stroke-width="1.53"/>
<line x1="994.3" y1="661.9" x2="994.3" y2="666.9" stroke="#222" stroke-width="1.53"/>
<line x1="1017.8" y1="1107.5" x2="1017.8" y2="1102.5" stroke="#222" stroke-width="1.53"/>
<line x1="1017.8" y1="661.9" x2="1017.8" y2="666.9" stroke="#222" stroke-width="1.53"/>
<line x1="1041.3" y1="1107.5" x2="1041.3" y2="1102.5" stroke="#222" stroke-width="1.53"/>
<line x1="1041.3" y1="661.9" x2="1041.3" y2="666.9" stroke="#222" stroke-width="1.53"/>
<line x1="1064.8" y1="1107.5" x2="1064.8" y2="1102.5" stroke="#222" stroke-width="1.53"/>
<line x1="1064.8" y1="661.9" x2="1064.8" y2="666.9" stroke="#222" stroke-width="1.53"/>
<line x1="1088.3" y1="1107.5" x2="1088.3" y2="1099" stroke="#222" stroke-width="1.53"/>
<line x1="1088.3" y1="661.9" x2="1088.3" y2="670.4" stroke="#222" stroke-width="1.53"/>
<line x1="1111.8" y1="1107.5" x2="1111.8" y2="1102.5" stroke="#222" stroke-width="1.53"/>
<line x1="1111.8" y1="661.9" x2="1111.8" y2="666.9" stroke="#222" stroke-width="1.53"/>
<line x1="1135.3" y1="1107.5" x2="1135.3" y2="1102.5" stroke="#222" stroke-width="1.53"/>
<line x1="1135.3" y1="661.9" x2="1135.3" y2="666.9" stroke="#222" stroke-width="1.53"/>
<line x1="1158.8" y1="1107.5" x2="1158.8" y2="1102.5" stroke="#222" stroke-width="1.53"/>
<line x1="1158.8" y1="661.9" x2="1158.8" y2="666.9" stroke="#222" stroke-width="1.53"/>
<line x1="1182.3" y1="1107.5" x2="1182.3" y2="1102.5" stroke="#222" stroke-width="1.53"/>
<line x1="1182.3" y1="661.9" x2="1182.3" y2="666.9" stroke="#222" stroke-width="1.53"/>
<line x1="1205.8" y1="1107.5" x2="1205.8" y2="1099" stroke="#222" stroke-width="1.53"/>
<line x1="1205.8" y1="661.9" x2="1205.8" y2="670.4" stroke="#222" stroke-width="1.53"/>
<line x1="736.8" y1="1107.5" x2="745.3" y2="1107.5" stroke="#222" stroke-width="1.53"/>
<line x1="1205" y1="1107.5" x2="1196.5" y2="1107.5" stroke="#222" stroke-width="1.53"/>
<line x1="736.8" y1="1084" x2="741.8" y2="1084" stroke="#222" stroke-width="1.53"/>
<line x1="1205" y1="1084" x2="1200" y2="1084" stroke="#222" stroke-width="1.53"/>
<line x1="736.8" y1="1060.5" x2="741.8" y2="1060.5" stroke="#222" stroke-width="1.53"/>
<line x1="1205" y1="1060.5" x2="1200" y2="1060.5" stroke="#222" stroke-width="1.53"/>
<line x1="736.8" y1="1037" x2="741.8" y2="1037" stroke="#222" stroke-width="1.53"/>
<line x1="1205" y1="1037" x2="1200" y2="1037" stroke="#222" stroke-width="1.53"/>
<line x1="736.8" y1="1013.5" x2="741.8" y2="1013.5" stroke="#222" stroke-width="1.53"/>
<line x1="1205" y1="1013.5" x2="1200" y2="1013.5" stroke="#222" stroke-width="1.53"/>
<line x1="736.8" y1="990" x2="745.3" y2="990" stroke="#222" stroke-width="1.53"/>
<line x1="1205" y1="990" x2="1196.5" y2="990" stroke="#222" stroke-width="1.53"/>
<line x1="736.8" y1="966.5" x2="741.8" y2="966.5" stroke="#222" stroke-width="1.53"/>
<line x1="1205" y1="966.5" x2="1200" y2="966.5" stroke="#222" stroke-width="1.53"/>
<line x1="736.8" y1="943" x2="741.8" y2="943" stroke="#222" stroke-width="1.53"/>
<line x1="1205" y1="943" x2="1200" y2="943" stroke="#222" stroke-width="1.53"/>
<line x1="736.8" y1="919.5" x2="741.8" y2="919.5" stroke="#222" stroke-width="1.53"/>
<line x1="1205" y1="919.5" x2="1200" y2="919.5" stroke="#222" stroke-width="1.53"/>
<line x1="736.8" y1="896" x2="741.8" y2="896" stroke="#222" stroke-width="1.53"/>
<line x1="1205" y1="896" x2="1200" y2="896" stroke="#222" stroke-width="1.53"/>
<line x1="736.8" y1="872.5" x2="745.3" y2="872.5" stroke="#222" stroke-width="1.53"/>
<line x1="1205" y1="872.5" x2="1196.5" y2="872.5" stroke="#222" stroke-width="1.53"/>
<line x1="736.8" y1="849" x2="741.8" y2="849" stroke="#222" stroke-width="1.53"/>
<line x1="1205" y1="849" x2="1200" y2="849" stroke="#222" stroke-width="1.53"/>
<line x1="736.8" y1="825.5" x2="741.8" y2="825.5" stroke="#222" stroke-width="1.53"/>
<line x1="1205" y1="825.5" x2="1200" y2="825.5" stroke="#222" stroke-width="1.53"/>
<line x1="736.8" y1="802" x2="741.8" y2="802" stroke="#222" stroke-width="1.53"/>
<line x1="1205" y1="802" x2="1200" y2="802" stroke="#222" stroke-width="1.53"/>
<line x1="736.8" y1="778.5" x2="741.8" y2="778.5" stroke="#222" stroke-width="1.53"/>
<line x1="1205" y1="778.5" x2="1200" y2="778.5" stroke="#222" stroke-width="1.53"/>
<line x1="736.8" y1="755" x2="745.3" y2="755" stroke="#222" stroke-width="1.53"/>
<line x1="1205" y1="755" x2="1196.5" y2="755" stroke="#222" stroke-width="1.53"/>
<line x1="736.8" y1="731.5" x2="741.8" y2="731.5" stroke="#222" stroke-width="1.53"/>
<line x1="1205" y1="731.5" x2="1200" y2="731.5" stroke="#222" stroke-width="1.53"/>
<line x1="736.8" y1="708" x2="741.8" y2="708" stroke="#222" stroke-width="1.53"/>
<line x1="1205" y1="708" x2="1200" y2="708" stroke="#222" stroke-width="1.53"/>
<line x1="736.8" y1="684.5" x2="741.8" y2="684.5" stroke="#222" stroke-width="1.53"/>
<line x1="1205" y1="684.5" x2="1200" y2="684.5" stroke="#222" stroke-width="1.53"/>
<line x1="736.8" y1="661" x2="741.8" y2="661" stroke="#222" stroke-width="1.53"/>
<line x1="1205" y1="661" x2="1200" y2="661" stroke="#222" stroke-width="1.53"/>
<clipPath id="cf"><rect x="1323.5" y="660.6" width="483.7" height="460"/></clipPath>
<g clip-path="url(#cf)">
<circle cx="1566" cy="3101.3" r="2259" fill="#d3d3d3"/>
<circle cx="1368.3" cy="864.6" r="14.3" fill="#5f9ea0"/>
<circle cx="1346.2" cy="889" r="14" fill="#5f9ea0"/>
<circle cx="1317.9" cy="886.9" r="14.3" fill="#a0522d"/>
<circle cx="1326.4" cy="912.6" r="14" fill="#696969"/>
<circle cx="1372.6" cy="933" r="37.6" fill="#ff0000"/>
<circle cx="1389.9" cy="882.4" r="14.3" fill="#6b8e23"/>
<circle cx="1416.4" cy="876" r="14.3" fill="#6b8e23"/>
<circle cx="1427.4" cy="851.1" r="14.3" fill="#696969"/>
<circle cx="1440.7" cy="872.1" r="13.6" fill="#5f9ea0"/>
<circle cx="1460.6" cy="853.9" r="14.3" fill="#6b8e23"/>
<circle cx="1486.7" cy="850.3" r="14" fill="#ff0000"/>
<circle cx="1485.7" cy="877.1" r="14.3" fill="#ff0000"/>
<circle cx="1511.7" cy="842.9" r="14" fill="#a0522d"/>
<circle cx="1546.9" cy="846.7" r="14.3" fill="#ff0000"/>
<circle cx="1461.4" cy="883.3" r="14.3" fill="#ffd700"/>
<circle cx="1440.7" cy="898.6" r="14" fill="#ffd700"/>
<circle cx="1414.7" cy="905.7" r="14" fill="#a0522d"/>
<circle cx="1438.7" cy="924.3" r="14.3" fill="#ff0000"/>
<circle cx="1468.7" cy="911" r="14.1" fill="#a0522d"/>
<circle cx="1495.9" cy="907.1" r="14" fill="#696969"/>
<circle cx="1524.4" cy="911.7" r="14.3" fill="#ffd700"/>
<circle cx="1522.9" cy="876.9" r="14" fill="#696969"/>
<circle cx="1548" cy="881.4" r="14.3" fill="#6b8e23"/>
<circle cx="1473.6" cy="938.6" r="14.3" fill="#6b8e23"/>
<circle cx="1513.7" cy="935.4" r="14" fill="#ff0000"/>
<circle cx="1540.7" cy="942.9" r="14" fill="#6b8e23"/>
<circle cx="1521.3" cy="962.1" r="14.3" fill="#ff0000"/>
<circle cx="1486.7" cy="964.3" r="14" fill="#6b8e23"/>
<circle cx="1417.9" cy="965" r="14.3" fill="#ffa500"/>
<circle cx="1443.6" cy="958.6" r="14.3" fill="#ffd700"/>
<circle cx="1547.1" cy="968.6" r="14.3" fill="#ffa500"/>
<circle cx="1276.8" cy="1038" r="89" fill="#6b8e23"/>
<circle cx="1369.6" cy="990" r="14" fill="#6b8e23"/>
<circle cx="1396.4" cy="984" r="7.1" fill="#ff0000"/>
<circle cx="1430.3" cy="1000.3" r="14.3" fill="#a0522d"/>
<circle cx="1462.1" cy="992.1" r="14.3" fill="#a0522d"/>
<circle cx="1489.6" cy="1008.6" r="14.3" fill="#6b8e23"/>
<circle cx="1522.1" cy="992.6" r="14.3" fill="#9370db"/>
<circle cx="1559.3" cy="990.3" r="14.3" fill="#9370db"/>
<circle cx="1377.9" cy="1014.3" r="14.3" fill="#696969"/>
<circle cx="1400.6" cy="1025.7" r="14.5" fill="#6b8e23"/>
<circle cx="1465" cy="1018.9" r="14.3" fill="#ffa500"/>
<circle cx="1444.6" cy="1037.9" r="14" fill="#6b8e23"/>
<circle cx="1479.7" cy="1041.1" r="14.3" fill="#6b8e23"/>
<circle cx="1507.9" cy="1031" r="14.3" fill="#a0522d"/>
<circle cx="1536.3" cy="1017.1" r="14.5" fill="#6b8e23"/>
<circle cx="1383.3" cy="1050.3" r="14.7" fill="#ffa500"/>
<circle cx="1408.6" cy="1053.6" r="13.6" fill="#a0522d"/>
<circle cx="1433.3" cy="1065.3" r="13.6" fill="#a0522d"/>
<circle cx="1458.6" cy="1060" r="14.3" fill="#5f9ea0"/>
<circle cx="1520" cy="1056.4" r="14" fill="#696969"/>
<circle cx="1555" cy="1052.9" r="14.3" fill="#9370db"/>
<circle cx="1380.1" cy="1076.4" r="14.3" fill="#6b8e23"/>
<circle cx="1478.4" cy="1074.7" r="14.3" fill="#6b8e23"/>
<circle cx="1523.1" cy="1082.9" r="13.9" fill="#a0522d"/>
<circle cx="1550.3" cy="1082.4" r="14" fill="#5f9ea0"/>
<circle cx="1540.7" cy="1105.4" r="14.3" fill="#5f9ea0"/>
<circle cx="1374.3" cy="1102.1" r="14.3" fill="#ffa500"/>
<circle cx="1412.9" cy="1093.9" r="14.3" fill="#ffd700"/>
<circle cx="1394.3" cy="1118.6" r="14.3" fill="#ffd700"/>
<circle cx="1355.7" cy="1119.3" r="14.3" fill="#9370db"/>
<circle cx="1430.1" cy="1110.7" r="14.3" fill="#ff0000"/>
<circle cx="1450.4" cy="1094.6" r="14" fill="#ffa500"/>
<circle cx="1481.6" cy="1113.6" r="14.3" fill="#696969"/>
<circle cx="1501" cy="1093.6" r="14.6" fill="#ffa500"/>
<circle cx="1518.9" cy="1125.7" r="13.6" fill="#ff0000"/>
<circle cx="1763.7" cy="864.6" r="14.3" fill="#5f9ea0"/>
<circle cx="1785.8" cy="889" r="14" fill="#5f9ea0"/>
<circle cx="1814.1" cy="886.9" r="14.3" fill="#a0522d"/>
<circle cx="1805.6" cy="912.6" r="14" fill="#696969"/>
<circle cx="1759.4" cy="933" r="37.6" fill="#ff0000"/>
<circle cx="1742.1" cy="882.4" r="14.3" fill="#6b8e23"/>
<circle cx="1715.6" cy="876" r="14.3" fill="#6b8e23"/>
<circle cx="1704.6" cy="851.1" r="14.3" fill="#696969"/>
<circle cx="1691.3" cy="872.1" r="13.6" fill="#5f9ea0"/>
<circle cx="1671.4" cy="853.9" r="14.3" fill="#6b8e23"/>
<circle cx="1645.3" cy="850.3" r="14" fill="#ff0000"/>
<circle cx="1646.3" cy="877.1" r="14.3" fill="#ff0000"/>
<circle cx="1620.3" cy="842.9" r="14" fill="#a0522d"/>
<circle cx="1585.1" cy="846.7" r="14.3" fill="#ff0000"/>
<circle cx="1670.6" cy="883.3" r="14.3" fill="#ffd700"/>
<circle cx="1691.3" cy="898.6" r="14" fill="#ffd700"/>
<circle cx="1717.3" cy="905.7" r="14" fill="#a0522d"/>
<circle cx="1693.3" cy="924.3" r="14.3" fill="#ff0000"/>
<circle cx="1663.3" cy="911" r="14.1" fill="#a0522d"/>
<circle cx="1636.1" cy="907.1" r="14" fill="#696969"/>
<circle cx="1607.6" cy="911.7" r="14.3" fill="#ffd700"/>
<circle cx="1609.1" cy="876.9" r="14" fill="#696969"/>
<circle cx="1584" cy="881.4" r="14.3" fill="#6b8e23"/>
<circle cx="1658.4" cy="938.6" r="14.3" fill="#6b8e23"/>
<circle cx="1618.3" cy="935.4" r="14" fill="#ff0000"/>
<circle cx="1591.3" cy="942.9" r="14" fill="#6b8e23"/>
<circle cx="1610.7" cy="962.1" r="14.3" fill="#ff0000"/>
<circle cx="1645.3" cy="964.3" r="14" fill="#6b8e23"/>
<circle cx="1714.1" cy="965" r="14.3" fill="#ffa500"/>
<circle cx="1688.4" cy="958.6" r="14.3" fill="#ffd700"/>
<circle cx="1584.9" cy="968.6" r="14.3" fill="#ffa500"/>
<circle cx="1855.2" cy="1038" r="89" fill="#6b8e23"/>
<circle cx="1762.4" cy="990" r="14" fill="#6b8e23"/>
<circle cx="1735.6" cy="984" r="7.1" fill="#ff0000"/>
<circle cx="1701.7" cy="1000.3" r="14.3" fill="#a0522d"/>
<circle cx="1669.9" cy="992.1" r="14.3" fill="#a0522d"/>
<circle cx="1642.4" cy="1008.6" r="14.3" fill="#6b8e23"/>
<circle cx="1609.9" cy="992.6" r="14.3" fill="#9370db"/>
<circle cx="1572.7" cy="990.3" r="14.3" fill="#9370db"/>
<circle cx="1754.1" cy="1014.3" r="14.3" fill="#696969"/>
<circle cx="1731.4" cy="1025.7" r="14.5" fill="#6b8e23"/>
<circle cx="1667" cy="1018.9" r="14.3" fill="#ffa500"/>
<circle cx="1687.4" cy="1037.9" r="14" fill="#6b8e23"/>
<circle cx="1652.3" cy="1041.1" r="14.3" fill="#6b8e23"/>
<circle cx="1624.1" cy="1031" r="14.3" fill="#a0522d"/>
<circle cx="1595.7" cy="1017.1" r="14.5" fill="#6b8e23"/>
<circle cx="1748.7" cy="1050.3" r="14.7" fill="#ffa500"/>
<circle cx="1723.4" cy="1053.6" r="13.6" fill="#a0522d"/>
<circle cx="1698.7" cy="1065.3" r="13.6" fill="#a0522d"/>
<circle cx="1673.4" cy="1060" r="14.3" fill="#5f9ea0"/>
<circle cx="1612" cy="1056.4" r="14" fill="#696969"/>
<circle cx="1577" cy="1052.9" r="14.3" fill="#9370db"/>
<circle cx="1751.9" cy="1076.4" r="14.3" fill="#6b8e23"/>
<circle cx="1653.6" cy="1074.7" r="14.3" fill="#6b8e23"/>
<circle cx="1608.9" cy="1082.9" r="13.9" fill="#a0522d"/>
<circle cx="1581.7" cy="1082.4" r="14" fill="#5f9ea0"/>
<circle cx="1591.3" cy="1105.4" r="14.3" fill="#5f9ea0"/>
<circle cx="1757.7" cy="1102.1" r="14.3" fill="#ffa500"/>
<circle cx="1719.1" cy="1093.9" r="14.3" fill="#ffd700"/>
<circle cx="1737.7" cy="1118.6" r="14.3" fill="#ffd700"/>
<circle cx="1776.3" cy="1119.3" r="14.3" fill="#9370db"/>
<circle cx="1701.9" cy="1110.7" r="14.3" fill="#ff0000"/>
<circle cx="1681.6" cy="1094.6" r="14" fill="#ffa500"/>
<circle cx="1650.4" cy="1113.6" r="14.3" fill="#696969"/>
<circle cx="1631" cy="1093.6" r="14.6" fill="#ffa500"/>
<circle cx="1613.1" cy="1125.7" r="13.6" fill="#ff0000"/>
</g>
<circle cx="1565.5" cy="693.1" r="3.5" fill="#b8b8b8"/>
<circle cx="1565.5" cy="751" r="8" fill="#b8b8b8"/>
<circle cx="1565.5" cy="806.3" r="3.5" fill="#b8b8b8"/>
<rect x="1323.5" y="660.6" width="483.7" height="460" fill="none" stroke="#222" stroke-width="1.7"/>
<line x1="1323.5" y1="1120.6" x2="1323.5" y2="1112.1" stroke="#222" stroke-width="1.53"/>
<line x1="1323.5" y1="660.6" x2="1323.5" y2="669.1" stroke="#222" stroke-width="1.53"/>
<line x1="1347.8" y1="1120.6" x2="1347.8" y2="1115.6" stroke="#222" stroke-width="1.53"/>
<line x1="1347.8" y1="660.6" x2="1347.8" y2="665.6" stroke="#222" stroke-width="1.53"/>
<line x1="1372" y1="1120.6" x2="1372" y2="1115.6" stroke="#222" stroke-width="1.53"/>
<line x1="1372" y1="660.6" x2="1372" y2="665.6" stroke="#222" stroke-width="1.53"/>
<line x1="1396.2" y1="1120.6" x2="1396.2" y2="1115.6" stroke="#222" stroke-width="1.53"/>
<line x1="1396.2" y1="660.6" x2="1396.2" y2="665.6" stroke="#222" stroke-width="1.53"/>
<line x1="1420.5" y1="1120.6" x2="1420.5" y2="1115.6" stroke="#222" stroke-width="1.53"/>
<line x1="1420.5" y1="660.6" x2="1420.5" y2="665.6" stroke="#222" stroke-width="1.53"/>
<line x1="1444.8" y1="1120.6" x2="1444.8" y2="1112.1" stroke="#222" stroke-width="1.53"/>
<line x1="1444.8" y1="660.6" x2="1444.8" y2="669.1" stroke="#222" stroke-width="1.53"/>
<line x1="1469" y1="1120.6" x2="1469" y2="1115.6" stroke="#222" stroke-width="1.53"/>
<line x1="1469" y1="660.6" x2="1469" y2="665.6" stroke="#222" stroke-width="1.53"/>
<line x1="1493.2" y1="1120.6" x2="1493.2" y2="1115.6" stroke="#222" stroke-width="1.53"/>
<line x1="1493.2" y1="660.6" x2="1493.2" y2="665.6" stroke="#222" stroke-width="1.53"/>
<line x1="1517.5" y1="1120.6" x2="1517.5" y2="1115.6" stroke="#222" stroke-width="1.53"/>
<line x1="1517.5" y1="660.6" x2="1517.5" y2="665.6" stroke="#222" stroke-width="1.53"/>
<line x1="1541.8" y1="1120.6" x2="1541.8" y2="1115.6" stroke="#222" stroke-width="1.53"/>
<line x1="1541.8" y1="660.6" x2="1541.8" y2="665.6" stroke="#222" stroke-width="1.53"/>
<line x1="1566" y1="1120.6" x2="1566" y2="1112.1" stroke="#222" stroke-width="1.53"/>
<line x1="1566" y1="660.6" x2="1566" y2="669.1" stroke="#222" stroke-width="1.53"/>
<line x1="1590.2" y1="1120.6" x2="1590.2" y2="1115.6" stroke="#222" stroke-width="1.53"/>
<line x1="1590.2" y1="660.6" x2="1590.2" y2="665.6" stroke="#222" stroke-width="1.53"/>
<line x1="1614.5" y1="1120.6" x2="1614.5" y2="1115.6" stroke="#222" stroke-width="1.53"/>
<line x1="1614.5" y1="660.6" x2="1614.5" y2="665.6" stroke="#222" stroke-width="1.53"/>
<line x1="1638.8" y1="1120.6" x2="1638.8" y2="1115.6" stroke="#222" stroke-width="1.53"/>
<line x1="1638.8" y1="660.6" x2="1638.8" y2="665.6" stroke="#222" stroke-width="1.53"/>
<line x1="1663" y1="1120.6" x2="1663" y2="1115.6" stroke="#222" stroke-width="1.53"/>
<line x1="1663" y1="660.6" x2="1663" y2="665.6" stroke="#222" stroke-width="1.53"/>
<line x1="1687.2" y1="1120.6" x2="1687.2" y2="1112.1" stroke="#222" stroke-width="1.53"/>
<line x1="1687.2" y1="660.6" x2="1687.2" y2="669.1" stroke="#222" stroke-width="1.53"/>
<line x1="1711.5" y1="1120.6" x2="1711.5" y2="1115.6" stroke="#222" stroke-width="1.53"/>
<line x1="1711.5" y1="660.6" x2="1711.5" y2="665.6" stroke="#222" stroke-width="1.53"/>
<line x1="1735.8" y1="1120.6" x2="1735.8" y2="1115.6" stroke="#222" stroke-width="1.53"/>
<line x1="1735.8" y1="660.6" x2="1735.8" y2="665.6" stroke="#222" stroke-width="1.53"/>
<line x1="1760" y1="1120.6" x2="1760" y2="1115.6" stroke="#222" stroke-width="1.53"/>
<line x1="1760" y1="660.6" x2="1760" y2="665.6" stroke="#222" stroke-width="1.53"/>
<line x1="1784.2" y1="1120.6" x2="1784.2" y2="1115.6" stroke="#222" stroke-width="1.53"/>
<line x1="1784.2" y1="660.6" x2="1784.2" y2="665.6" stroke="#222" stroke-width="1.53"/>
<line x1="1808.5" y1="1120.6" x2="1808.5" y2="1112.1" stroke="#222" stroke-width="1.53"/>
<line x1="1808.5" y1="660.6" x2="1808.5" y2="669.1" stroke="#222" stroke-width="1.53"/>
<line x1="1323.5" y1="1120.6" x2="1332" y2="1120.6" stroke="#222" stroke-width="1.53"/>
<line x1="1807.2" y1="1120.6" x2="1798.7" y2="1120.6" stroke="#222" stroke-width="1.53"/>
<line x1="1323.5" y1="1096.4" x2="1328.5" y2="1096.4" stroke="#222" stroke-width="1.53"/>
<line x1="1807.2" y1="1096.4" x2="1802.2" y2="1096.4" stroke="#222" stroke-width="1.53"/>
<line x1="1323.5" y1="1072.2" x2="1328.5" y2="1072.2" stroke="#222" stroke-width="1.53"/>
<line x1="1807.2" y1="1072.2" x2="1802.2" y2="1072.2" stroke="#222" stroke-width="1.53"/>
<line x1="1323.5" y1="1048" x2="1328.5" y2="1048" stroke="#222" stroke-width="1.53"/>
<line x1="1807.2" y1="1048" x2="1802.2" y2="1048" stroke="#222" stroke-width="1.53"/>
<line x1="1323.5" y1="1023.8" x2="1328.5" y2="1023.8" stroke="#222" stroke-width="1.53"/>
<line x1="1807.2" y1="1023.8" x2="1802.2" y2="1023.8" stroke="#222" stroke-width="1.53"/>
<line x1="1323.5" y1="999.6" x2="1332" y2="999.6" stroke="#222" stroke-width="1.53"/>
<line x1="1807.2" y1="999.6" x2="1798.7" y2="999.6" stroke="#222" stroke-width="1.53"/>
<line x1="1323.5" y1="975.4" x2="1328.5" y2="975.4" stroke="#222" stroke-width="1.53"/>
<line x1="1807.2" y1="975.4" x2="1802.2" y2="975.4" stroke="#222" stroke-width="1.53"/>
<line x1="1323.5" y1="951.2" x2="1328.5" y2="951.2" stroke="#222" stroke-width="1.53"/>
<line x1="1807.2" y1="951.2" x2="1802.2" y2="951.2" stroke="#222" stroke-width="1.53"/>
<line x1="1323.5" y1="927" x2="1328.5" y2="927" stroke="#222" stroke-width="1.53"/>
<line x1="1807.2" y1="927" x2="1802.2" y2="927" stroke="#222" stroke-width="1.53"/>
<line x1="1323.5" y1="902.8" x2="1328.5" y2="902.8" stroke="#222" stroke-width="1.53"/>
<line x1="1807.2" y1="902.8" x2="1802.2" y2="902.8" stroke="#222" stroke-width="1.53"/>
<line x1="1323.5" y1="878.6" x2="1332" y2="878.6" stroke="#222" stroke-width="1.53"/>
<line x1="1807.2" y1="878.6" x2="1798.7" y2="878.6" stroke="#222" stroke-width="1.53"/>
<line x1="1323.5" y1="854.4" x2="1328.5" y2="854.4" stroke="#222" stroke-width="1.53"/>
<line x1="1807.2" y1="854.4" x2="1802.2" y2="854.4" stroke="#222" stroke-width="1.53"/>
<line x1="1323.5" y1="830.2" x2="1328.5" y2="830.2" stroke="#222" stroke-width="1.53"/>
<line x1="1807.2" y1="830.2" x2="1802.2" y2="830.2" stroke="#222" stroke-width="1.53"/>
<line x1="1323.5" y1="806" x2="1328.5" y2="806" stroke="#222" stroke-width="1.53"/>
<line x1="1807.2" y1="806" x2="1802.2" y2="806" stroke="#222" stroke-width="1.53"/>
<line x1="1323.5" y1="781.8" x2="1328.5" y2="781.8" stroke="#222" stroke-width="1.53"/>
<line x1="1807.2" y1="781.8" x2="1802.2" y2="781.8" stroke="#222" stroke-width="1.53"/>
<line x1="1323.5" y1="757.6" x2="1332" y2="757.6" stroke="#222" stroke-width="1.53"/>
<line x1="1807.2" y1="757.6" x2="1798.7" y2="757.6" stroke="#222" stroke-width="1.53"/>
<line x1="1323.5" y1="733.4" x2="1328.5" y2="733.4" stroke="#222" stroke-width="1.53"/>
<line x1="1807.2" y1="733.4" x2="1802.2" y2="733.4" stroke="#222" stroke-width="1.53"/>
<line x1="1323.5" y1="709.2" x2="1328.5" y2="709.2" stroke="#222" stroke-width="1.53"/>
<line x1="1807.2" y1="709.2" x2="1802.2" y2="709.2" stroke="#222" stroke-width="1.53"/>
<line x1="1323.5" y1="685" x2="1328.5" y2="685" stroke="#222" stroke-width="1.53"/>
<line x1="1807.2" y1="685" x2="1802.2" y2="685" stroke="#222" stroke-width="1.53"/>
<line x1="1323.5" y1="660.8" x2="1328.5" y2="660.8" stroke="#222" stroke-width="1.53"/>
<line x1="1807.2" y1="660.8" x2="1802.2" y2="660.8" stroke="#222" stroke-width="1.53"/>
<line x1="1224.5" y1="650" x2="1224.5" y2="1207" stroke="#f3f3f3" stroke-width="1"/>
<text transform="translate(37.2 137.3) scale(1.000 1)" font-family="Liberation Sans, sans-serif" font-size="32.5" font-weight="normal" fill="#333" stroke="#333" stroke-width="0.7">-50</text>
<text transform="translate(66.1 289.6) scale(1.000 1)" font-family="Liberation Sans, sans-serif" font-size="32.5" font-weight="normal" fill="#333" stroke="#333" stroke-width="0.7">0</text>
<text transform="translate(48.2 444.8) scale(1.000 1)" font-family="Liberation Sans, sans-serif" font-size="32.5" font-weight="normal" fill="#333" stroke="#333" stroke-width="0.7">50</text>
<text transform="translate(23.6 324.8) rotate(-90) scale(0.967 1)" font-family="Liberation Sans, sans-serif" font-size="30.2" font-weight="normal" fill="#333" stroke="#333" stroke-width="0.7">Z (m)</text>
<text transform="translate(185.8 597.5) scale(1.058 1)" font-family="Liberation Sans, sans-serif" font-size="32.5" font-weight="normal" fill="#333" stroke="#333" stroke-width="0.7">-50</text>
<text transform="translate(356 597.5) scale(1.000 1)" font-family="Liberation Sans, sans-serif" font-size="32.5" font-weight="normal" fill="#333" stroke="#333" stroke-width="0.7">0</text>
<text transform="translate(499.9 597.5) scale(1.055 1)" font-family="Liberation Sans, sans-serif" font-size="32.5" font-weight="normal" fill="#333" stroke="#333" stroke-width="0.7">50</text>
<text transform="translate(337.5 636.1) scale(1.052 1)" font-family="Liberation Sans, sans-serif" font-size="26" font-weight="normal" fill="#111">X (m)</text>
<text transform="translate(160.6 28.8) scale(1.031 1)" font-family="Liberation Serif, serif" font-size="29" font-weight="bold" fill="#000">(a)</text>
<text transform="translate(669.8 175.1) scale(0.999 1)" font-family="Liberation Sans, sans-serif" font-size="28" font-weight="normal" fill="#111">50</text>
<text transform="translate(685.1 315.4) scale(1.000 1)" font-family="Liberation Sans, sans-serif" font-size="28" font-weight="normal" fill="#111">0</text>
<text transform="translate(660.6 455.6) scale(0.991 1)" font-family="Liberation Sans, sans-serif" font-size="28" font-weight="normal" fill="#111">-50</text>
<text transform="translate(655 324.4) rotate(-90) scale(0.964 1)" font-family="Liberation Sans, sans-serif" font-size="30.6" font-weight="normal" fill="#111">Z (m)</text>
<text transform="translate(794.8 580.2) scale(1.006 1)" font-family="Liberation Sans, sans-serif" font-size="28" font-weight="normal" fill="#111">-50</text>
<text transform="translate(949.1 580.2) scale(1.000 1)" font-family="Liberation Sans, sans-serif" font-size="28" font-weight="normal" fill="#111">0</text>
<text transform="translate(1080.9 580.2) scale(1.012 1)" font-family="Liberation Sans, sans-serif" font-size="28" font-weight="normal" fill="#111">50</text>
<text transform="translate(923.2 636.8) scale(1.028 1)" font-family="Liberation Sans, sans-serif" font-size="27" font-weight="normal" fill="#111">X (m)</text>
<text transform="translate(708.5 25) scale(1.014 1)" font-family="Liberation Serif, serif" font-size="38" font-weight="normal" fill="#000">(b)</text>
<text transform="translate(1276.5 175.5) scale(1.117 1)" font-family="Liberation Sans, sans-serif" font-size="22" font-weight="normal" fill="#111">50</text>
<text transform="translate(1291.4 318.9) scale(1.000 1)" font-family="Liberation Sans, sans-serif" font-size="22" font-weight="normal" fill="#111">0</text>
<text transform="translate(1268 461.1) scale(1.121 1)" font-family="Liberation Sans, sans-serif" font-size="22" font-weight="normal" fill="#111">-50</text>
<text transform="translate(1231.6 334.9) rotate(-90) scale(1.027 1)" font-family="Liberation Sans, sans-serif" font-size="24" font-weight="normal" fill="#111">Y (m)</text>
<text transform="translate(1399.4 583.7) scale(1.098 1)" font-family="Liberation Sans, sans-serif" font-size="22" font-weight="normal" fill="#111">-50</text>
<text transform="translate(1554.5 583.7) scale(1.000 1)" font-family="Liberation Sans, sans-serif" font-size="22" font-weight="normal" fill="#111">0</text>
<text transform="translate(1689.9 583.7) scale(1.108 1)" font-family="Liberation Sans, sans-serif" font-size="22" font-weight="normal" fill="#111">50</text>
<text transform="translate(1531.8 631.3) scale(1.129 1)" font-family="Liberation Sans, sans-serif" font-size="21" font-weight="normal" fill="#111">X (m)</text>
<text transform="translate(1310.6 26.7) scale(0.986 1)" font-family="Liberation Serif, serif" font-size="38" font-weight="normal" fill="#000">(c)</text>
<text transform="translate(102.5 767.4) scale(1.000 1)" font-family="Liberation Sans, sans-serif" font-size="26" font-weight="normal" fill="#111">85</text>
<text transform="translate(102.5 884.7) scale(1.000 1)" font-family="Liberation Sans, sans-serif" font-size="26" font-weight="normal" fill="#111">80</text>
<text transform="translate(102.5 1002) scale(1.000 1)" font-family="Liberation Sans, sans-serif" font-size="26" font-weight="normal" fill="#111">75</text>
<text transform="translate(102.5 1119.2) scale(1.000 1)" font-family="Liberation Sans, sans-serif" font-size="26" font-weight="normal" fill="#111">70</text>
<text transform="translate(52.8 917.7) rotate(-90) scale(0.975 1)" font-family="Liberation Sans, sans-serif" font-size="26.8" font-weight="normal" fill="#111">Z (m)</text>
<text transform="translate(126 1143.7) scale(1.022 1)" font-family="Liberation Sans, sans-serif" font-size="26" font-weight="normal" fill="#111">-10</text>
<text transform="translate(250.4 1143.7) scale(1.000 1)" font-family="Liberation Sans, sans-serif" font-size="26" font-weight="normal" fill="#111">-5</text>
<text transform="translate(372.2 1143.7) scale(1.000 1)" font-family="Liberation Sans, sans-serif" font-size="26" font-weight="normal" fill="#111">0</text>
<text transform="translate(488.3 1143.7) scale(1.000 1)" font-family="Liberation Sans, sans-serif" font-size="26" font-weight="normal" fill="#111">5</text>
<text transform="translate(589.2 1143.7) scale(1.200 1)" font-family="Liberation Sans, sans-serif" font-size="26" font-weight="normal" fill="#111">10</text>
<text transform="translate(349.6 1195.2) scale(1.027 1)" font-family="Liberation Sans, sans-serif" font-size="25" font-weight="normal" fill="#111">Y (m)</text>
<text transform="translate(140.4 643.2) scale(1.033 1)" font-family="Liberation Serif, serif" font-size="38" font-weight="normal" fill="#000">(d)</text>
<text transform="translate(692.6 764.6) scale(1.000 1)" font-family="Liberation Sans, sans-serif" font-size="26" font-weight="normal" fill="#111">85</text>
<text transform="translate(692.6 882.1) scale(1.000 1)" font-family="Liberation Sans, sans-serif" font-size="26" font-weight="normal" fill="#111">80</text>
<text transform="translate(692.6 999.6) scale(1.000 1)" font-family="Liberation Sans, sans-serif" font-size="26" font-weight="normal" fill="#111">75</text>
<text transform="translate(692.6 1117.1) scale(1.000 1)" font-family="Liberation Sans, sans-serif" font-size="26" font-weight="normal" fill="#111">70</text>
<text transform="translate(638.8 914.9) rotate(-90) scale(1.200 1)" font-family="Liberation Sans, sans-serif" font-size="21.2" font-weight="normal" fill="#111">Z (m)</text>
<text transform="translate(716 1140.2) scale(1.053 1)" font-family="Liberation Sans, sans-serif" font-size="26" font-weight="normal" fill="#111">-10</text>
<text transform="translate(841.4 1140.2) scale(1.000 1)" font-family="Liberation Sans, sans-serif" font-size="26" font-weight="normal" fill="#111">-5</text>
<text transform="translate(963.7 1140.2) scale(1.000 1)" font-family="Liberation Sans, sans-serif" font-size="26" font-weight="normal" fill="#111">0</text>
<text transform="translate(1081.2 1140.2) scale(1.000 1)" font-family="Liberation Sans, sans-serif" font-size="26" font-weight="normal" fill="#111">5</text>
<text transform="translate(1187.7 1140.2) scale(1.057 1)" font-family="Liberation Sans, sans-serif" font-size="26" font-weight="normal" fill="#111">10</text>
<text transform="translate(939.6 1192.7) scale(1.055 1)" font-family="Liberation Sans, sans-serif" font-size="25" font-weight="normal" fill="#111">X (m)</text>
<text transform="translate(732.3 643.2) scale(1.027 1)" font-family="Liberation Serif, serif" font-size="38" font-weight="normal" fill="#000">(e)</text>
<text transform="translate(1287.4 765.7) scale(1.000 1)" font-family="Liberation Sans, sans-serif" font-size="22" font-weight="normal" fill="#111">85</text>
<text transform="translate(1287.4 886.7) scale(1.000 1)" font-family="Liberation Sans, sans-serif" font-size="22" font-weight="normal" fill="#111">80</text>
<text transform="translate(1287.4 1007.8) scale(1.000 1)" font-family="Liberation Sans, sans-serif" font-size="22" font-weight="normal" fill="#111">75</text>
<text transform="translate(1287.4 1128.8) scale(1.000 1)" font-family="Liberation Sans, sans-serif" font-size="22" font-weight="normal" fill="#111">70</text>
<text transform="translate(1244 916.5) rotate(-90) scale(1.200 1)" font-family="Liberation Sans, sans-serif" font-size="20.9" font-weight="normal" fill="#111">Y (m)</text>
<text transform="translate(1306.4 1148.7) scale(1.015 1)" font-family="Liberation Sans, sans-serif" font-size="22" font-weight="normal" fill="#111">-10</text>
<text transform="translate(1435 1148.7) scale(1.000 1)" font-family="Liberation Sans, sans-serif" font-size="22" font-weight="normal" fill="#111">-5</text>
<text transform="translate(1559.3 1148.7) scale(1.000 1)" font-family="Liberation Sans, sans-serif" font-size="22" font-weight="normal" fill="#111">0</text>
<text transform="translate(1681.2 1148.7) scale(1.000 1)" font-family="Liberation Sans, sans-serif" font-size="22" font-weight="normal" fill="#111">5</text>
<text transform="translate(1795.8 1148.7) scale(1.000 1)" font-family="Liberation Sans, sans-serif" font-size="22" font-weight="normal" fill="#111">10</text>
<text transform="translate(1538.7 1194) scale(1.054 1)" font-family="Liberation Sans, sans-serif" font-size="21" font-weight="normal" fill="#111">X (m)</text>
<text transform="translate(1320.4 643.2) scale(1.035 1)" font-family="Liberation Serif, serif" font-size="38" font-weight="normal" fill="#000">(f)</text>
</svg></body></html>
